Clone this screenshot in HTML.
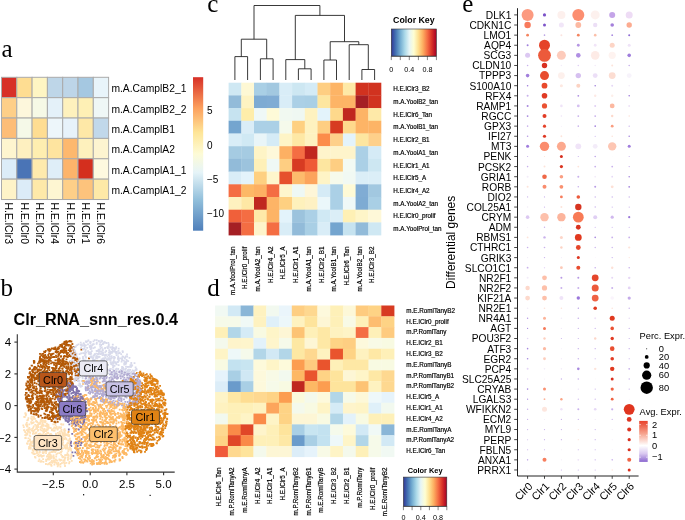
<!DOCTYPE html>
<html><head><meta charset="utf-8"><style>
html,body{margin:0;padding:0;background:#fff;}
svg{display:block;will-change:transform;}
text{font-family:"Liberation Sans", sans-serif;fill:#000;}
.sm{stroke:#000;stroke-width:0.18px;}
</style></head><body>
<svg width="685" height="520" viewBox="0 0 685 520">
<rect width="685" height="520" fill="#fff"/>
<text x="1.5" y="57.4" style='font-family:"Liberation Serif", serif' font-size="25">a</text>
<text x="0.5" y="296.3" style='font-family:"Liberation Serif", serif' font-size="25">b</text>
<text x="207.3" y="11.5" style='font-family:"Liberation Serif", serif' font-size="25">c</text>
<text x="207.3" y="296.3" style='font-family:"Liberation Serif", serif' font-size="25">d</text>
<text x="462.3" y="11.5" style='font-family:"Liberation Serif", serif' font-size="25">e</text>
<rect x="1.50" y="77.30" width="15.30" height="20.37" fill="#d73027" stroke="#aaaaaa" stroke-width="1"/>
<rect x="16.80" y="77.30" width="15.30" height="20.37" fill="#fedd92" stroke="#aaaaaa" stroke-width="1"/>
<rect x="32.10" y="77.30" width="15.30" height="20.37" fill="#fef5c3" stroke="#aaaaaa" stroke-width="1"/>
<rect x="47.40" y="77.30" width="15.30" height="20.37" fill="#bed6e8" stroke="#aaaaaa" stroke-width="1"/>
<rect x="62.70" y="77.30" width="15.30" height="20.37" fill="#bdd5e8" stroke="#aaaaaa" stroke-width="1"/>
<rect x="78.00" y="77.30" width="15.30" height="20.37" fill="#a5c8e1" stroke="#aaaaaa" stroke-width="1"/>
<rect x="93.30" y="77.30" width="15.30" height="20.37" fill="#e8f4fa" stroke="#aaaaaa" stroke-width="1"/>
<rect x="1.50" y="97.67" width="15.30" height="20.37" fill="#fecf88" stroke="#aaaaaa" stroke-width="1"/>
<rect x="16.80" y="97.67" width="15.30" height="20.37" fill="#fdf7dc" stroke="#aaaaaa" stroke-width="1"/>
<rect x="32.10" y="97.67" width="15.30" height="20.37" fill="#f6f9e6" stroke="#aaaaaa" stroke-width="1"/>
<rect x="47.40" y="97.67" width="15.30" height="20.37" fill="#e4f1f9" stroke="#aaaaaa" stroke-width="1"/>
<rect x="62.70" y="97.67" width="15.30" height="20.37" fill="#fef1bd" stroke="#aaaaaa" stroke-width="1"/>
<rect x="78.00" y="97.67" width="15.30" height="20.37" fill="#fef0b5" stroke="#aaaaaa" stroke-width="1"/>
<rect x="93.30" y="97.67" width="15.30" height="20.37" fill="#eff7f6" stroke="#aaaaaa" stroke-width="1"/>
<rect x="1.50" y="118.04" width="15.30" height="20.37" fill="#fdbd77" stroke="#aaaaaa" stroke-width="1"/>
<rect x="16.80" y="118.04" width="15.30" height="20.37" fill="#f5f9e8" stroke="#aaaaaa" stroke-width="1"/>
<rect x="32.10" y="118.04" width="15.30" height="20.37" fill="#fedd92" stroke="#aaaaaa" stroke-width="1"/>
<rect x="47.40" y="118.04" width="15.30" height="20.37" fill="#edf6fa" stroke="#aaaaaa" stroke-width="1"/>
<rect x="62.70" y="118.04" width="15.30" height="20.37" fill="#e7f2fa" stroke="#aaaaaa" stroke-width="1"/>
<rect x="78.00" y="118.04" width="15.30" height="20.37" fill="#fee8a7" stroke="#aaaaaa" stroke-width="1"/>
<rect x="93.30" y="118.04" width="15.30" height="20.37" fill="#c1d8ea" stroke="#aaaaaa" stroke-width="1"/>
<rect x="1.50" y="138.41" width="15.30" height="20.37" fill="#fef5cf" stroke="#aaaaaa" stroke-width="1"/>
<rect x="16.80" y="138.41" width="15.30" height="20.37" fill="#fef0c0" stroke="#aaaaaa" stroke-width="1"/>
<rect x="32.10" y="138.41" width="15.30" height="20.37" fill="#feeeb0" stroke="#aaaaaa" stroke-width="1"/>
<rect x="47.40" y="138.41" width="15.30" height="20.37" fill="#fee49f" stroke="#aaaaaa" stroke-width="1"/>
<rect x="62.70" y="138.41" width="15.30" height="20.37" fill="#fdb86e" stroke="#aaaaaa" stroke-width="1"/>
<rect x="78.00" y="138.41" width="15.30" height="20.37" fill="#fef1bd" stroke="#aaaaaa" stroke-width="1"/>
<rect x="93.30" y="138.41" width="15.30" height="20.37" fill="#fdf4d0" stroke="#aaaaaa" stroke-width="1"/>
<rect x="1.50" y="158.78" width="15.30" height="20.37" fill="#dcecf8" stroke="#aaaaaa" stroke-width="1"/>
<rect x="16.80" y="158.78" width="15.30" height="20.37" fill="#4a74b6" stroke="#aaaaaa" stroke-width="1"/>
<rect x="32.10" y="158.78" width="15.30" height="20.37" fill="#feeaad" stroke="#aaaaaa" stroke-width="1"/>
<rect x="47.40" y="158.78" width="15.30" height="20.37" fill="#dfeef8" stroke="#aaaaaa" stroke-width="1"/>
<rect x="62.70" y="158.78" width="15.30" height="20.37" fill="#fdb46b" stroke="#aaaaaa" stroke-width="1"/>
<rect x="78.00" y="158.78" width="15.30" height="20.37" fill="#d42f1e" stroke="#aaaaaa" stroke-width="1"/>
<rect x="93.30" y="158.78" width="15.30" height="20.37" fill="#fef9df" stroke="#aaaaaa" stroke-width="1"/>
<rect x="1.50" y="179.15" width="15.30" height="20.37" fill="#fef3c8" stroke="#aaaaaa" stroke-width="1"/>
<rect x="16.80" y="179.15" width="15.30" height="20.37" fill="#dcecf8" stroke="#aaaaaa" stroke-width="1"/>
<rect x="32.10" y="179.15" width="15.30" height="20.37" fill="#fee9a9" stroke="#aaaaaa" stroke-width="1"/>
<rect x="47.40" y="179.15" width="15.30" height="20.37" fill="#fef6d2" stroke="#aaaaaa" stroke-width="1"/>
<rect x="62.70" y="179.15" width="15.30" height="20.37" fill="#fecf88" stroke="#aaaaaa" stroke-width="1"/>
<rect x="78.00" y="179.15" width="15.30" height="20.37" fill="#fdc37c" stroke="#aaaaaa" stroke-width="1"/>
<rect x="93.30" y="179.15" width="15.30" height="20.37" fill="#fee9a7" stroke="#aaaaaa" stroke-width="1"/>
<text x="111.4" y="92.19" font-size="10.3">m.A.CamplB2_1</text>
<text x="111.4" y="112.55" font-size="10.3">m.A.CamplB2_2</text>
<text x="111.4" y="132.92" font-size="10.3">m.A.CamplB1</text>
<text x="111.4" y="153.29" font-size="10.3">m.A.CamplA2</text>
<text x="111.4" y="173.66" font-size="10.3">m.A.CamplA1_1</text>
<text x="111.4" y="194.03" font-size="10.3">m.A.CamplA1_2</text>
<text transform="translate(5.45,202.5) rotate(90)" font-size="10.4">H.E.lClr3</text>
<text transform="translate(20.75,202.5) rotate(90)" font-size="10.4">H.E.lClr0</text>
<text transform="translate(36.05,202.5) rotate(90)" font-size="10.4">H.E.lClr2</text>
<text transform="translate(51.35,202.5) rotate(90)" font-size="10.4">H.E.lClr4</text>
<text transform="translate(66.65,202.5) rotate(90)" font-size="10.4">H.E.lClr5</text>
<text transform="translate(81.95,202.5) rotate(90)" font-size="10.4">H.E.lClr1</text>
<text transform="translate(97.25,202.5) rotate(90)" font-size="10.4">H.E.lClr6</text>
<defs><linearGradient id="ga" x1="0" y1="1" x2="0" y2="0"><stop offset="0" stop-color="#4f7fba"/><stop offset="0.2" stop-color="#91bfdb"/><stop offset="0.38" stop-color="#e6f4f8"/><stop offset="0.5" stop-color="#fdfbd6"/><stop offset="0.64" stop-color="#fee597"/><stop offset="0.8" stop-color="#fca05e"/><stop offset="1" stop-color="#d73027"/></linearGradient></defs>
<rect x="193" y="77.2" width="10.2" height="153.5" fill="url(#ga)"/>
<text x="207" y="114.4" font-size="10">5</text>
<text x="207" y="148.6" font-size="10">0</text>
<text x="207" y="217.4" font-size="10">−10</text>
<text x="207" y="183.1" font-size="10">−5</text>
<path fill="#b35806" d="M28.8 378.4h1.8v1.8h-1.8zM46.7 398.3h1.8v1.8h-1.8zM66.3 343.8h1.8v1.8h-1.8zM48.0 414.8h1.8v1.8h-1.8zM62.7 371.5h1.8v1.8h-1.8zM37.0 370.1h1.8v1.8h-1.8zM61.2 351.1h1.8v1.8h-1.8zM58.8 359.0h1.8v1.8h-1.8zM38.9 371.4h1.8v1.8h-1.8zM39.7 401.4h1.8v1.8h-1.8zM55.2 401.0h1.8v1.8h-1.8zM47.4 401.1h1.8v1.8h-1.8zM56.1 414.2h1.8v1.8h-1.8zM50.7 401.2h1.8v1.8h-1.8zM37.4 409.9h1.8v1.8h-1.8zM77.2 367.0h1.8v1.8h-1.8zM38.6 392.4h1.8v1.8h-1.8zM34.0 372.7h1.8v1.8h-1.8zM40.0 414.8h1.8v1.8h-1.8zM68.3 373.5h1.8v1.8h-1.8zM66.6 384.1h1.8v1.8h-1.8zM42.6 400.8h1.8v1.8h-1.8zM36.0 413.8h1.8v1.8h-1.8zM61.2 400.8h1.8v1.8h-1.8zM61.7 359.3h1.8v1.8h-1.8zM68.6 353.8h1.8v1.8h-1.8zM53.4 381.1h1.8v1.8h-1.8zM66.8 389.4h1.8v1.8h-1.8zM62.1 370.3h1.8v1.8h-1.8zM53.9 402.3h1.8v1.8h-1.8zM30.6 375.2h1.8v1.8h-1.8zM70.0 379.0h1.8v1.8h-1.8zM70.5 365.9h1.8v1.8h-1.8zM46.8 371.4h1.8v1.8h-1.8zM45.7 400.5h1.8v1.8h-1.8zM60.2 344.0h1.8v1.8h-1.8zM61.6 382.8h1.8v1.8h-1.8zM60.4 383.4h1.8v1.8h-1.8zM50.3 354.9h1.8v1.8h-1.8zM66.5 361.5h1.8v1.8h-1.8zM70.9 382.7h1.8v1.8h-1.8zM59.7 397.5h1.8v1.8h-1.8zM63.2 373.7h1.8v1.8h-1.8zM69.5 360.9h1.8v1.8h-1.8zM46.6 404.0h1.8v1.8h-1.8zM50.0 391.5h1.8v1.8h-1.8zM63.8 345.9h1.8v1.8h-1.8zM57.1 347.4h1.8v1.8h-1.8zM69.2 377.9h1.8v1.8h-1.8zM74.9 368.5h1.8v1.8h-1.8zM40.4 390.2h1.8v1.8h-1.8zM69.6 376.1h1.8v1.8h-1.8zM33.1 410.5h1.8v1.8h-1.8zM33.4 366.7h1.8v1.8h-1.8zM58.6 398.2h1.8v1.8h-1.8zM36.9 400.6h1.8v1.8h-1.8zM35.7 382.7h1.8v1.8h-1.8zM44.7 363.6h1.8v1.8h-1.8zM73.8 365.0h1.8v1.8h-1.8zM49.8 348.9h1.8v1.8h-1.8zM39.8 359.0h1.8v1.8h-1.8zM30.5 377.1h1.8v1.8h-1.8zM73.1 361.2h1.8v1.8h-1.8zM58.4 360.2h1.8v1.8h-1.8zM35.4 412.4h1.8v1.8h-1.8zM32.4 368.7h1.8v1.8h-1.8zM36.0 398.5h1.8v1.8h-1.8zM56.5 351.3h1.8v1.8h-1.8zM88.1 357.5h1.8v1.8h-1.8zM46.1 408.4h1.8v1.8h-1.8zM30.2 379.4h1.8v1.8h-1.8zM45.0 416.9h1.8v1.8h-1.8zM71.7 383.3h1.8v1.8h-1.8zM55.6 370.2h1.8v1.8h-1.8zM43.1 354.8h1.8v1.8h-1.8zM42.2 376.6h1.8v1.8h-1.8zM51.2 382.8h1.8v1.8h-1.8zM74.3 378.9h1.8v1.8h-1.8zM41.4 382.3h1.8v1.8h-1.8zM54.0 394.3h1.8v1.8h-1.8zM55.1 394.2h1.8v1.8h-1.8zM59.8 393.2h1.8v1.8h-1.8zM31.6 406.8h1.8v1.8h-1.8zM53.3 392.4h1.8v1.8h-1.8zM55.6 365.9h1.8v1.8h-1.8zM56.9 372.5h1.8v1.8h-1.8zM67.7 367.1h1.8v1.8h-1.8zM53.5 405.3h1.8v1.8h-1.8zM39.9 394.9h1.8v1.8h-1.8zM70.8 363.4h1.8v1.8h-1.8zM70.5 371.9h1.8v1.8h-1.8zM62.0 346.8h1.8v1.8h-1.8zM35.4 403.2h1.8v1.8h-1.8zM56.9 374.2h1.8v1.8h-1.8zM53.9 420.7h1.8v1.8h-1.8zM40.6 400.2h1.8v1.8h-1.8zM26.0 396.5h1.8v1.8h-1.8zM49.0 417.1h1.8v1.8h-1.8zM70.9 366.4h1.8v1.8h-1.8zM70.3 367.2h1.8v1.8h-1.8zM56.3 362.6h1.8v1.8h-1.8zM39.9 381.1h1.8v1.8h-1.8z"/>
<path fill="#e08214" d="M139.7 426.6h1.8v1.8h-1.8zM150.6 401.0h1.8v1.8h-1.8zM132.6 414.6h1.8v1.8h-1.8zM126.3 442.2h1.8v1.8h-1.8zM155.4 378.9h1.8v1.8h-1.8zM160.1 399.5h1.8v1.8h-1.8zM139.0 371.8h1.8v1.8h-1.8zM138.7 440.9h1.8v1.8h-1.8zM164.8 412.6h1.8v1.8h-1.8zM149.8 417.5h1.8v1.8h-1.8zM159.6 433.0h1.8v1.8h-1.8zM147.9 435.2h1.8v1.8h-1.8zM141.8 391.1h1.8v1.8h-1.8zM145.6 385.7h1.8v1.8h-1.8zM140.2 399.1h1.8v1.8h-1.8zM151.5 445.0h1.8v1.8h-1.8zM130.5 424.8h1.8v1.8h-1.8zM132.6 385.7h1.8v1.8h-1.8zM151.6 406.9h1.8v1.8h-1.8zM140.1 430.9h1.8v1.8h-1.8zM123.0 418.8h1.8v1.8h-1.8zM142.7 431.2h1.8v1.8h-1.8zM133.4 398.3h1.8v1.8h-1.8zM141.5 390.1h1.8v1.8h-1.8zM128.2 394.2h1.8v1.8h-1.8zM133.3 428.0h1.8v1.8h-1.8zM151.6 413.1h1.8v1.8h-1.8zM129.1 418.9h1.8v1.8h-1.8zM140.1 390.7h1.8v1.8h-1.8zM143.2 431.6h1.8v1.8h-1.8zM136.4 398.0h1.8v1.8h-1.8zM161.7 421.2h1.8v1.8h-1.8zM132.1 376.0h1.8v1.8h-1.8zM141.0 424.4h1.8v1.8h-1.8zM132.9 396.5h1.8v1.8h-1.8zM149.5 438.5h1.8v1.8h-1.8zM150.6 382.5h1.8v1.8h-1.8zM132.0 439.3h1.8v1.8h-1.8zM139.1 401.6h1.8v1.8h-1.8zM160.7 430.7h1.8v1.8h-1.8zM146.5 437.1h1.8v1.8h-1.8zM146.0 447.4h1.8v1.8h-1.8zM145.7 386.5h1.8v1.8h-1.8zM147.4 375.5h1.8v1.8h-1.8zM141.5 414.8h1.8v1.8h-1.8zM144.9 376.8h1.8v1.8h-1.8zM139.5 425.8h1.8v1.8h-1.8zM153.7 384.3h1.8v1.8h-1.8zM135.7 408.7h1.8v1.8h-1.8zM127.8 426.3h1.8v1.8h-1.8zM130.8 376.5h1.8v1.8h-1.8zM155.8 391.7h1.8v1.8h-1.8zM148.3 421.1h1.8v1.8h-1.8zM143.5 419.0h1.8v1.8h-1.8zM147.0 412.0h1.8v1.8h-1.8zM154.4 383.5h1.8v1.8h-1.8zM140.5 435.5h1.8v1.8h-1.8zM129.8 404.2h1.8v1.8h-1.8zM139.6 406.5h1.8v1.8h-1.8zM128.0 443.0h1.8v1.8h-1.8zM129.0 382.9h1.8v1.8h-1.8zM154.6 378.4h1.8v1.8h-1.8zM151.9 430.0h1.8v1.8h-1.8zM159.1 415.2h1.8v1.8h-1.8zM127.1 443.4h1.8v1.8h-1.8zM136.6 390.5h1.8v1.8h-1.8zM141.5 422.2h1.8v1.8h-1.8zM132.1 437.1h1.8v1.8h-1.8zM149.8 382.1h1.8v1.8h-1.8zM158.9 406.1h1.8v1.8h-1.8zM160.1 404.5h1.8v1.8h-1.8zM143.3 402.2h1.8v1.8h-1.8zM160.2 393.2h1.8v1.8h-1.8zM154.2 395.7h1.8v1.8h-1.8zM148.9 428.8h1.8v1.8h-1.8zM159.8 433.6h1.8v1.8h-1.8zM131.8 417.8h1.8v1.8h-1.8zM141.6 445.6h1.8v1.8h-1.8zM130.2 423.3h1.8v1.8h-1.8zM161.2 433.6h1.8v1.8h-1.8zM130.7 413.4h1.8v1.8h-1.8zM142.2 384.0h1.8v1.8h-1.8zM146.4 394.5h1.8v1.8h-1.8zM142.5 427.7h1.8v1.8h-1.8zM133.0 450.4h1.8v1.8h-1.8zM145.4 449.2h1.8v1.8h-1.8zM132.7 448.8h1.8v1.8h-1.8zM128.5 428.5h1.8v1.8h-1.8zM140.9 396.2h1.8v1.8h-1.8zM143.0 374.2h1.8v1.8h-1.8zM133.6 417.9h1.8v1.8h-1.8zM137.1 423.9h1.8v1.8h-1.8zM165.6 422.9h1.8v1.8h-1.8zM142.4 409.3h1.8v1.8h-1.8zM135.0 428.8h1.8v1.8h-1.8zM131.9 394.5h1.8v1.8h-1.8z"/>
<path fill="#fdb863" d="M100.2 441.0h1.8v1.8h-1.8zM108.0 455.0h1.8v1.8h-1.8zM89.3 434.6h1.8v1.8h-1.8zM87.8 398.2h1.8v1.8h-1.8zM97.5 431.9h1.8v1.8h-1.8zM117.1 427.7h1.8v1.8h-1.8zM82.1 441.1h1.8v1.8h-1.8zM105.9 414.0h1.8v1.8h-1.8zM123.8 422.2h1.8v1.8h-1.8zM119.3 459.1h1.8v1.8h-1.8zM133.6 447.7h1.8v1.8h-1.8zM88.2 427.9h1.8v1.8h-1.8zM77.1 418.8h1.8v1.8h-1.8zM86.3 446.4h1.8v1.8h-1.8zM124.7 406.2h1.8v1.8h-1.8zM95.7 441.3h1.8v1.8h-1.8zM97.9 407.8h1.8v1.8h-1.8zM73.4 405.9h1.8v1.8h-1.8zM85.1 452.3h1.8v1.8h-1.8zM101.5 413.1h1.8v1.8h-1.8zM88.3 434.9h1.8v1.8h-1.8zM85.1 408.9h1.8v1.8h-1.8zM96.3 446.3h1.8v1.8h-1.8zM109.6 424.8h1.8v1.8h-1.8zM100.1 456.9h1.8v1.8h-1.8zM99.6 459.3h1.8v1.8h-1.8zM82.4 395.2h1.8v1.8h-1.8zM84.5 403.4h1.8v1.8h-1.8zM100.0 434.9h1.8v1.8h-1.8zM95.9 437.1h1.8v1.8h-1.8zM104.1 422.9h1.8v1.8h-1.8zM100.1 429.1h1.8v1.8h-1.8zM106.1 401.3h1.8v1.8h-1.8zM105.2 457.8h1.8v1.8h-1.8zM104.0 385.6h1.8v1.8h-1.8zM89.6 440.6h1.8v1.8h-1.8zM90.0 445.9h1.8v1.8h-1.8zM84.8 405.3h1.8v1.8h-1.8zM84.0 417.9h1.8v1.8h-1.8zM88.6 400.8h1.8v1.8h-1.8zM77.1 416.8h1.8v1.8h-1.8zM69.0 405.6h1.8v1.8h-1.8zM106.2 453.9h1.8v1.8h-1.8zM79.7 460.7h1.8v1.8h-1.8zM120.3 420.9h1.8v1.8h-1.8zM121.5 456.1h1.8v1.8h-1.8zM124.3 406.0h1.8v1.8h-1.8zM100.6 429.4h1.8v1.8h-1.8zM74.8 413.0h1.8v1.8h-1.8zM94.2 402.3h1.8v1.8h-1.8zM102.6 454.0h1.8v1.8h-1.8zM99.6 425.5h1.8v1.8h-1.8zM121.4 428.8h1.8v1.8h-1.8zM107.4 426.3h1.8v1.8h-1.8zM116.2 429.3h1.8v1.8h-1.8zM90.1 397.6h1.8v1.8h-1.8zM94.1 438.5h1.8v1.8h-1.8zM100.1 460.6h1.8v1.8h-1.8zM118.2 442.8h1.8v1.8h-1.8zM101.2 438.1h1.8v1.8h-1.8zM106.2 421.3h1.8v1.8h-1.8zM111.5 404.6h1.8v1.8h-1.8zM102.1 433.0h1.8v1.8h-1.8zM101.3 434.8h1.8v1.8h-1.8zM106.0 441.7h1.8v1.8h-1.8zM98.8 381.8h1.8v1.8h-1.8zM111.7 402.8h1.8v1.8h-1.8zM85.9 427.1h1.8v1.8h-1.8zM94.4 442.2h1.8v1.8h-1.8zM76.7 440.4h1.8v1.8h-1.8zM82.7 428.7h1.8v1.8h-1.8zM127.0 449.6h1.8v1.8h-1.8zM108.9 410.6h1.8v1.8h-1.8zM92.0 440.0h1.8v1.8h-1.8zM112.3 420.9h1.8v1.8h-1.8zM87.4 423.5h1.8v1.8h-1.8zM92.4 404.2h1.8v1.8h-1.8zM124.2 408.2h1.8v1.8h-1.8zM96.9 430.5h1.8v1.8h-1.8zM106.6 398.5h1.8v1.8h-1.8zM118.1 434.0h1.8v1.8h-1.8zM95.2 418.5h1.8v1.8h-1.8zM110.0 400.8h1.8v1.8h-1.8zM119.4 415.5h1.8v1.8h-1.8zM88.2 419.9h1.8v1.8h-1.8zM85.8 437.2h1.8v1.8h-1.8zM122.0 421.8h1.8v1.8h-1.8zM93.3 381.5h1.8v1.8h-1.8zM78.0 451.8h1.8v1.8h-1.8zM82.1 424.7h1.8v1.8h-1.8zM120.6 421.5h1.8v1.8h-1.8zM95.4 395.3h1.8v1.8h-1.8zM78.5 453.2h1.8v1.8h-1.8zM123.8 409.2h1.8v1.8h-1.8zM114.9 448.3h1.8v1.8h-1.8zM88.3 419.2h1.8v1.8h-1.8zM68.9 403.9h1.8v1.8h-1.8zM121.3 440.9h1.8v1.8h-1.8zM96.3 380.2h1.8v1.8h-1.8zM90.0 398.6h1.8v1.8h-1.8zM75.3 447.7h1.8v1.8h-1.8zM74.8 444.6h1.8v1.8h-1.8zM78.6 444.4h1.8v1.8h-1.8zM113.7 436.0h1.8v1.8h-1.8zM79.3 425.1h1.8v1.8h-1.8zM105.8 462.4h1.8v1.8h-1.8zM86.6 387.1h1.8v1.8h-1.8zM97.8 388.6h1.8v1.8h-1.8z"/>
<path fill="#fee0b6" d="M51.0 439.4h1.8v1.8h-1.8zM45.7 446.6h1.8v1.8h-1.8zM38.6 451.7h1.8v1.8h-1.8zM42.0 424.9h1.8v1.8h-1.8zM44.5 441.8h1.8v1.8h-1.8zM61.6 456.5h1.8v1.8h-1.8zM68.9 443.5h1.8v1.8h-1.8zM50.7 441.0h1.8v1.8h-1.8zM34.0 432.8h1.8v1.8h-1.8zM44.2 421.4h1.8v1.8h-1.8zM61.9 443.8h1.8v1.8h-1.8zM38.6 422.3h1.8v1.8h-1.8zM31.2 451.8h1.8v1.8h-1.8zM39.4 434.6h1.8v1.8h-1.8zM61.8 436.5h1.8v1.8h-1.8zM46.5 425.8h1.8v1.8h-1.8zM31.0 418.5h1.8v1.8h-1.8zM40.1 426.6h1.8v1.8h-1.8zM60.2 439.9h1.8v1.8h-1.8zM53.5 463.6h1.8v1.8h-1.8zM52.9 427.7h1.8v1.8h-1.8zM40.5 429.5h1.8v1.8h-1.8zM46.3 443.6h1.8v1.8h-1.8zM50.4 463.9h1.8v1.8h-1.8zM68.2 462.4h1.8v1.8h-1.8zM65.8 454.0h1.8v1.8h-1.8zM63.5 431.0h1.8v1.8h-1.8zM67.2 432.0h1.8v1.8h-1.8zM31.6 440.6h1.8v1.8h-1.8zM54.5 440.0h1.8v1.8h-1.8zM70.9 460.0h1.8v1.8h-1.8zM36.9 425.3h1.8v1.8h-1.8zM49.8 427.1h1.8v1.8h-1.8zM38.8 422.5h1.8v1.8h-1.8zM38.0 455.4h1.8v1.8h-1.8zM46.6 423.4h1.8v1.8h-1.8zM45.0 433.5h1.8v1.8h-1.8zM49.0 433.4h1.8v1.8h-1.8zM61.3 455.1h1.8v1.8h-1.8zM44.7 424.8h1.8v1.8h-1.8zM25.0 434.5h1.8v1.8h-1.8zM52.2 445.1h1.8v1.8h-1.8zM27.1 419.0h1.8v1.8h-1.8zM55.3 455.7h1.8v1.8h-1.8zM29.9 443.5h1.8v1.8h-1.8zM35.2 420.4h1.8v1.8h-1.8zM29.1 428.6h1.8v1.8h-1.8zM27.5 428.3h1.8v1.8h-1.8z"/>
<path fill="#d8daeb" d="M103.8 359.7h1.8v1.8h-1.8zM90.9 350.3h1.8v1.8h-1.8zM82.7 372.7h1.8v1.8h-1.8zM82.7 360.1h1.8v1.8h-1.8zM87.3 374.1h1.8v1.8h-1.8zM96.0 350.0h1.8v1.8h-1.8zM84.7 355.6h1.8v1.8h-1.8zM90.0 380.9h1.8v1.8h-1.8zM92.2 358.9h1.8v1.8h-1.8zM130.5 372.5h1.8v1.8h-1.8zM101.7 368.4h1.8v1.8h-1.8zM81.0 385.1h1.8v1.8h-1.8zM82.3 373.1h1.8v1.8h-1.8zM86.4 340.5h1.8v1.8h-1.8zM84.5 374.1h1.8v1.8h-1.8zM87.9 372.3h1.8v1.8h-1.8zM78.9 357.5h1.8v1.8h-1.8zM117.3 368.1h1.8v1.8h-1.8zM98.8 376.3h1.8v1.8h-1.8zM88.8 365.6h1.8v1.8h-1.8zM102.5 342.4h1.8v1.8h-1.8zM113.9 350.1h1.8v1.8h-1.8zM122.9 359.7h1.8v1.8h-1.8zM102.9 353.9h1.8v1.8h-1.8zM101.8 348.3h1.8v1.8h-1.8zM130.8 371.0h1.8v1.8h-1.8zM83.6 347.6h1.8v1.8h-1.8zM127.3 369.1h1.8v1.8h-1.8zM124.9 355.5h1.8v1.8h-1.8zM97.8 365.5h1.8v1.8h-1.8zM121.6 355.5h1.8v1.8h-1.8zM103.7 341.3h1.8v1.8h-1.8zM87.2 370.6h1.8v1.8h-1.8zM80.6 345.0h1.8v1.8h-1.8zM70.4 353.2h1.8v1.8h-1.8zM115.9 350.9h1.8v1.8h-1.8zM124.2 361.3h1.8v1.8h-1.8zM85.4 341.2h1.8v1.8h-1.8zM116.3 373.7h1.8v1.8h-1.8zM99.5 341.6h1.8v1.8h-1.8zM97.6 353.1h1.8v1.8h-1.8zM75.3 376.5h1.8v1.8h-1.8zM107.2 363.9h1.8v1.8h-1.8zM71.4 348.0h1.8v1.8h-1.8zM124.7 373.0h1.8v1.8h-1.8zM89.5 341.1h1.8v1.8h-1.8zM122.0 367.6h1.8v1.8h-1.8zM82.5 357.8h1.8v1.8h-1.8zM127.3 360.2h1.8v1.8h-1.8zM98.6 348.9h1.8v1.8h-1.8zM90.5 369.6h1.8v1.8h-1.8zM121.1 358.3h1.8v1.8h-1.8zM82.3 347.9h1.8v1.8h-1.8zM102.3 368.4h1.8v1.8h-1.8zM89.7 345.3h1.8v1.8h-1.8zM99.8 363.9h1.8v1.8h-1.8zM107.6 358.3h1.8v1.8h-1.8zM76.1 356.3h1.8v1.8h-1.8zM87.7 364.8h1.8v1.8h-1.8zM125.1 367.7h1.8v1.8h-1.8z"/>
<path fill="#b2abd2" d="M115.0 395.2h1.8v1.8h-1.8zM138.8 391.0h1.8v1.8h-1.8zM133.5 393.2h1.8v1.8h-1.8zM101.8 387.9h1.8v1.8h-1.8zM102.6 401.4h1.8v1.8h-1.8zM119.5 375.4h1.8v1.8h-1.8zM106.5 368.9h1.8v1.8h-1.8zM133.5 388.2h1.8v1.8h-1.8zM122.6 380.3h1.8v1.8h-1.8zM102.5 393.8h1.8v1.8h-1.8zM100.7 398.1h1.8v1.8h-1.8zM91.8 372.2h1.8v1.8h-1.8zM102.3 391.6h1.8v1.8h-1.8zM133.6 400.5h1.8v1.8h-1.8zM116.4 387.9h1.8v1.8h-1.8zM114.0 376.9h1.8v1.8h-1.8zM136.3 378.5h1.8v1.8h-1.8zM109.1 373.5h1.8v1.8h-1.8zM134.7 378.5h1.8v1.8h-1.8zM133.5 380.3h1.8v1.8h-1.8zM135.9 384.8h1.8v1.8h-1.8zM94.3 393.1h1.8v1.8h-1.8zM105.3 394.9h1.8v1.8h-1.8zM131.9 373.0h1.8v1.8h-1.8zM127.9 403.5h1.8v1.8h-1.8zM110.3 380.1h1.8v1.8h-1.8zM112.5 399.7h1.8v1.8h-1.8zM96.2 389.7h1.8v1.8h-1.8zM131.4 402.8h1.8v1.8h-1.8zM93.8 373.8h1.8v1.8h-1.8zM104.4 386.4h1.8v1.8h-1.8zM140.2 388.1h1.8v1.8h-1.8zM128.2 405.0h1.8v1.8h-1.8zM136.0 382.8h1.8v1.8h-1.8zM132.3 387.4h1.8v1.8h-1.8zM98.5 397.0h1.8v1.8h-1.8zM113.8 397.4h1.8v1.8h-1.8zM122.7 378.6h1.8v1.8h-1.8zM120.5 398.1h1.8v1.8h-1.8zM134.8 400.9h1.8v1.8h-1.8zM136.4 380.1h1.8v1.8h-1.8zM136.6 387.3h1.8v1.8h-1.8zM127.5 377.9h1.8v1.8h-1.8zM101.8 377.3h1.8v1.8h-1.8zM121.5 391.6h1.8v1.8h-1.8zM124.4 395.9h1.8v1.8h-1.8zM124.3 389.7h1.8v1.8h-1.8zM95.5 385.8h1.8v1.8h-1.8zM111.4 401.2h1.8v1.8h-1.8z"/>
<path fill="#8073ac" d="M64.4 412.7h1.8v1.8h-1.8zM77.8 396.2h1.8v1.8h-1.8zM58.6 398.6h1.8v1.8h-1.8zM59.5 385.6h1.8v1.8h-1.8zM64.2 410.5h1.8v1.8h-1.8zM77.2 395.0h1.8v1.8h-1.8zM62.6 389.7h1.8v1.8h-1.8zM72.2 419.3h1.8v1.8h-1.8zM66.3 395.9h1.8v1.8h-1.8zM71.4 402.7h1.8v1.8h-1.8zM75.4 406.3h1.8v1.8h-1.8zM82.7 408.1h1.8v1.8h-1.8zM66.8 411.2h1.8v1.8h-1.8zM85.3 407.2h1.8v1.8h-1.8zM72.2 422.7h1.8v1.8h-1.8zM76.9 448.6h1.8v1.8h-1.8zM68.7 409.8h1.8v1.8h-1.8zM67.1 390.4h1.8v1.8h-1.8zM68.4 423.5h1.8v1.8h-1.8zM73.6 405.4h1.8v1.8h-1.8zM81.9 423.3h1.8v1.8h-1.8zM60.3 410.5h1.8v1.8h-1.8zM66.0 400.2h1.8v1.8h-1.8zM60.0 387.1h1.8v1.8h-1.8zM80.1 412.1h1.8v1.8h-1.8zM77.2 420.9h1.8v1.8h-1.8zM85.8 410.1h1.8v1.8h-1.8zM69.1 385.9h1.8v1.8h-1.8zM79.9 410.2h1.8v1.8h-1.8zM63.9 395.6h1.8v1.8h-1.8zM58.5 408.6h1.8v1.8h-1.8zM64.6 416.8h1.8v1.8h-1.8zM71.0 420.5h1.8v1.8h-1.8zM74.7 423.7h1.8v1.8h-1.8zM84.9 401.0h1.8v1.8h-1.8zM75.0 410.2h1.8v1.8h-1.8zM69.8 384.7h1.8v1.8h-1.8z"/>
<path fill="#b35806" d="M69.2 360.8h1.8v1.8h-1.8zM40.9 365.4h1.8v1.8h-1.8zM58.2 392.5h1.8v1.8h-1.8zM35.6 396.7h1.8v1.8h-1.8zM41.5 405.3h1.8v1.8h-1.8zM46.3 370.0h1.8v1.8h-1.8zM59.6 361.3h1.8v1.8h-1.8zM52.7 371.3h1.8v1.8h-1.8zM52.9 387.7h1.8v1.8h-1.8zM54.7 415.3h1.8v1.8h-1.8zM37.6 414.6h1.8v1.8h-1.8zM47.5 359.6h1.8v1.8h-1.8zM28.5 386.6h1.8v1.8h-1.8zM57.9 371.3h1.8v1.8h-1.8zM52.1 368.9h1.8v1.8h-1.8zM53.4 348.2h1.8v1.8h-1.8zM51.0 408.7h1.8v1.8h-1.8zM27.4 381.5h1.8v1.8h-1.8zM75.6 373.4h1.8v1.8h-1.8zM31.0 374.8h1.8v1.8h-1.8zM49.1 410.8h1.8v1.8h-1.8zM38.8 394.9h1.8v1.8h-1.8zM75.0 358.9h1.8v1.8h-1.8zM75.4 364.2h1.8v1.8h-1.8zM34.0 368.8h1.8v1.8h-1.8zM45.6 391.4h1.8v1.8h-1.8zM40.9 398.8h1.8v1.8h-1.8zM54.8 397.0h1.8v1.8h-1.8zM49.9 400.3h1.8v1.8h-1.8zM67.5 355.0h1.8v1.8h-1.8zM55.3 356.2h1.8v1.8h-1.8zM60.7 395.2h1.8v1.8h-1.8zM41.3 408.2h1.8v1.8h-1.8zM33.1 361.9h1.8v1.8h-1.8zM75.4 370.2h1.8v1.8h-1.8zM52.8 367.3h1.8v1.8h-1.8zM56.7 362.0h1.8v1.8h-1.8zM56.0 389.6h1.8v1.8h-1.8zM45.5 395.3h1.8v1.8h-1.8zM36.8 370.3h1.8v1.8h-1.8zM61.4 392.2h1.8v1.8h-1.8zM61.5 396.2h1.8v1.8h-1.8zM48.1 401.2h1.8v1.8h-1.8zM41.7 367.1h1.8v1.8h-1.8zM52.3 393.2h1.8v1.8h-1.8zM72.7 349.0h1.8v1.8h-1.8zM56.6 418.4h1.8v1.8h-1.8zM66.6 385.8h1.8v1.8h-1.8zM61.0 349.5h1.8v1.8h-1.8zM48.0 418.0h1.8v1.8h-1.8zM38.3 408.6h1.8v1.8h-1.8zM39.4 405.3h1.8v1.8h-1.8zM43.5 405.8h1.8v1.8h-1.8zM65.5 340.3h1.8v1.8h-1.8zM51.1 371.2h1.8v1.8h-1.8zM64.6 380.0h1.8v1.8h-1.8zM33.0 361.4h1.8v1.8h-1.8zM41.5 371.0h1.8v1.8h-1.8zM55.6 379.6h1.8v1.8h-1.8zM42.5 394.9h1.8v1.8h-1.8zM54.7 396.5h1.8v1.8h-1.8zM49.0 401.6h1.8v1.8h-1.8zM31.3 394.8h1.8v1.8h-1.8zM67.8 372.4h1.8v1.8h-1.8zM41.1 401.8h1.8v1.8h-1.8zM68.3 378.6h1.8v1.8h-1.8zM31.4 396.0h1.8v1.8h-1.8zM31.8 371.8h1.8v1.8h-1.8zM48.9 411.4h1.8v1.8h-1.8zM75.9 360.9h1.8v1.8h-1.8zM33.8 382.1h1.8v1.8h-1.8zM54.0 414.5h1.8v1.8h-1.8zM63.1 381.1h1.8v1.8h-1.8zM62.5 360.3h1.8v1.8h-1.8zM45.0 383.2h1.8v1.8h-1.8zM77.0 369.3h1.8v1.8h-1.8zM25.5 382.5h1.8v1.8h-1.8zM46.2 398.4h1.8v1.8h-1.8zM35.4 378.1h1.8v1.8h-1.8zM69.5 381.0h1.8v1.8h-1.8zM38.9 365.9h1.8v1.8h-1.8zM47.2 401.8h1.8v1.8h-1.8zM46.6 414.0h1.8v1.8h-1.8zM43.9 373.3h1.8v1.8h-1.8zM44.6 370.4h1.8v1.8h-1.8zM71.3 383.8h1.8v1.8h-1.8zM46.5 404.0h1.8v1.8h-1.8zM38.0 391.5h1.8v1.8h-1.8zM50.5 354.0h1.8v1.8h-1.8zM54.5 362.3h1.8v1.8h-1.8zM36.3 404.0h1.8v1.8h-1.8zM33.5 361.4h1.8v1.8h-1.8zM37.2 398.2h1.8v1.8h-1.8zM42.6 359.7h1.8v1.8h-1.8zM50.2 381.0h1.8v1.8h-1.8zM30.2 412.4h1.8v1.8h-1.8zM59.9 364.7h1.8v1.8h-1.8zM45.5 371.2h1.8v1.8h-1.8zM47.0 368.0h1.8v1.8h-1.8zM50.0 399.9h1.8v1.8h-1.8zM57.2 350.7h1.8v1.8h-1.8zM61.4 364.3h1.8v1.8h-1.8zM42.7 399.5h1.8v1.8h-1.8zM63.2 348.1h1.8v1.8h-1.8zM49.3 388.9h1.8v1.8h-1.8zM33.2 410.4h1.8v1.8h-1.8zM72.5 357.3h1.8v1.8h-1.8zM58.0 390.9h1.8v1.8h-1.8zM26.2 400.7h1.8v1.8h-1.8zM43.4 404.1h1.8v1.8h-1.8z"/>
<path fill="#e08214" d="M148.8 376.5h1.8v1.8h-1.8zM120.0 386.1h1.8v1.8h-1.8zM143.6 415.0h1.8v1.8h-1.8zM127.0 440.1h1.8v1.8h-1.8zM133.2 429.0h1.8v1.8h-1.8zM165.2 424.3h1.8v1.8h-1.8zM153.1 419.6h1.8v1.8h-1.8zM151.4 380.0h1.8v1.8h-1.8zM158.5 402.5h1.8v1.8h-1.8zM149.5 389.1h1.8v1.8h-1.8zM163.3 417.1h1.8v1.8h-1.8zM147.5 430.8h1.8v1.8h-1.8zM136.9 409.8h1.8v1.8h-1.8zM150.7 388.9h1.8v1.8h-1.8zM149.6 387.4h1.8v1.8h-1.8zM149.5 408.7h1.8v1.8h-1.8zM134.9 388.3h1.8v1.8h-1.8zM155.3 400.3h1.8v1.8h-1.8zM134.5 423.2h1.8v1.8h-1.8zM140.8 433.5h1.8v1.8h-1.8zM147.6 444.7h1.8v1.8h-1.8zM136.2 451.0h1.8v1.8h-1.8zM149.9 430.5h1.8v1.8h-1.8zM138.2 433.1h1.8v1.8h-1.8zM144.2 429.5h1.8v1.8h-1.8zM144.2 385.9h1.8v1.8h-1.8zM157.2 408.3h1.8v1.8h-1.8zM138.2 416.9h1.8v1.8h-1.8zM159.6 431.4h1.8v1.8h-1.8zM136.1 422.0h1.8v1.8h-1.8zM149.7 431.0h1.8v1.8h-1.8zM155.2 416.6h1.8v1.8h-1.8zM150.1 442.9h1.8v1.8h-1.8zM149.3 377.4h1.8v1.8h-1.8zM138.1 417.6h1.8v1.8h-1.8zM142.2 431.7h1.8v1.8h-1.8zM134.7 431.5h1.8v1.8h-1.8zM139.9 405.5h1.8v1.8h-1.8zM147.4 389.8h1.8v1.8h-1.8zM155.9 409.3h1.8v1.8h-1.8zM130.8 397.2h1.8v1.8h-1.8zM132.0 438.7h1.8v1.8h-1.8zM126.5 424.5h1.8v1.8h-1.8zM152.9 383.2h1.8v1.8h-1.8zM135.4 403.5h1.8v1.8h-1.8zM134.4 426.4h1.8v1.8h-1.8zM161.8 429.3h1.8v1.8h-1.8zM133.4 417.6h1.8v1.8h-1.8zM157.6 391.0h1.8v1.8h-1.8zM134.9 436.6h1.8v1.8h-1.8zM139.8 430.7h1.8v1.8h-1.8zM152.3 414.2h1.8v1.8h-1.8zM143.7 427.2h1.8v1.8h-1.8zM145.9 447.6h1.8v1.8h-1.8zM161.4 392.1h1.8v1.8h-1.8zM160.5 390.3h1.8v1.8h-1.8zM153.7 418.2h1.8v1.8h-1.8zM137.8 431.9h1.8v1.8h-1.8zM134.8 445.0h1.8v1.8h-1.8zM129.4 446.1h1.8v1.8h-1.8zM151.7 402.6h1.8v1.8h-1.8zM138.8 392.9h1.8v1.8h-1.8zM153.7 429.6h1.8v1.8h-1.8zM128.1 415.4h1.8v1.8h-1.8zM140.0 393.6h1.8v1.8h-1.8zM149.2 433.7h1.8v1.8h-1.8zM127.0 411.6h1.8v1.8h-1.8zM140.3 432.9h1.8v1.8h-1.8zM151.7 389.4h1.8v1.8h-1.8zM155.1 428.7h1.8v1.8h-1.8zM130.3 397.2h1.8v1.8h-1.8zM134.2 447.6h1.8v1.8h-1.8zM146.2 420.0h1.8v1.8h-1.8zM154.8 425.2h1.8v1.8h-1.8zM130.3 442.1h1.8v1.8h-1.8zM152.7 438.7h1.8v1.8h-1.8zM161.6 394.3h1.8v1.8h-1.8zM143.2 415.9h1.8v1.8h-1.8zM146.1 422.7h1.8v1.8h-1.8zM137.2 407.6h1.8v1.8h-1.8zM136.2 400.7h1.8v1.8h-1.8zM165.0 421.5h1.8v1.8h-1.8zM135.4 427.8h1.8v1.8h-1.8zM133.1 439.8h1.8v1.8h-1.8zM142.0 428.7h1.8v1.8h-1.8zM145.0 374.0h1.8v1.8h-1.8z"/>
<path fill="#fdb863" d="M94.2 398.1h1.8v1.8h-1.8zM102.7 447.6h1.8v1.8h-1.8zM98.0 406.0h1.8v1.8h-1.8zM100.6 455.1h1.8v1.8h-1.8zM86.7 440.5h1.8v1.8h-1.8zM107.8 415.3h1.8v1.8h-1.8zM111.9 456.7h1.8v1.8h-1.8zM82.4 419.9h1.8v1.8h-1.8zM91.2 445.2h1.8v1.8h-1.8zM101.4 418.9h1.8v1.8h-1.8zM81.8 402.6h1.8v1.8h-1.8zM78.3 413.6h1.8v1.8h-1.8zM108.0 458.5h1.8v1.8h-1.8zM117.6 432.5h1.8v1.8h-1.8zM85.8 450.5h1.8v1.8h-1.8zM98.2 452.2h1.8v1.8h-1.8zM85.0 454.9h1.8v1.8h-1.8zM97.8 439.6h1.8v1.8h-1.8zM102.1 409.2h1.8v1.8h-1.8zM89.7 443.9h1.8v1.8h-1.8zM104.6 461.3h1.8v1.8h-1.8zM122.9 418.0h1.8v1.8h-1.8zM110.1 436.3h1.8v1.8h-1.8zM80.7 459.3h1.8v1.8h-1.8zM99.7 397.0h1.8v1.8h-1.8zM81.9 461.3h1.8v1.8h-1.8zM91.4 434.0h1.8v1.8h-1.8zM90.4 425.6h1.8v1.8h-1.8zM91.7 448.6h1.8v1.8h-1.8zM75.1 421.5h1.8v1.8h-1.8zM122.3 429.3h1.8v1.8h-1.8zM117.2 436.7h1.8v1.8h-1.8zM115.5 440.6h1.8v1.8h-1.8zM119.5 453.3h1.8v1.8h-1.8zM113.3 441.6h1.8v1.8h-1.8zM84.8 438.0h1.8v1.8h-1.8zM74.3 397.7h1.8v1.8h-1.8zM95.9 454.8h1.8v1.8h-1.8zM126.9 445.5h1.8v1.8h-1.8zM116.7 450.7h1.8v1.8h-1.8zM70.7 400.0h1.8v1.8h-1.8zM94.2 427.7h1.8v1.8h-1.8zM126.1 434.7h1.8v1.8h-1.8zM76.0 395.0h1.8v1.8h-1.8zM105.3 388.0h1.8v1.8h-1.8zM88.5 409.3h1.8v1.8h-1.8zM99.8 444.2h1.8v1.8h-1.8zM82.4 397.3h1.8v1.8h-1.8zM85.7 398.1h1.8v1.8h-1.8zM82.8 427.5h1.8v1.8h-1.8zM76.6 433.5h1.8v1.8h-1.8zM91.2 380.9h1.8v1.8h-1.8zM104.8 433.7h1.8v1.8h-1.8zM92.8 460.7h1.8v1.8h-1.8zM119.4 412.8h1.8v1.8h-1.8zM126.9 422.0h1.8v1.8h-1.8zM92.3 395.4h1.8v1.8h-1.8zM102.4 456.6h1.8v1.8h-1.8zM93.0 408.6h1.8v1.8h-1.8zM88.4 422.9h1.8v1.8h-1.8zM94.4 452.1h1.8v1.8h-1.8zM98.9 412.8h1.8v1.8h-1.8zM83.7 424.1h1.8v1.8h-1.8zM120.2 443.5h1.8v1.8h-1.8zM111.6 417.1h1.8v1.8h-1.8zM117.6 429.7h1.8v1.8h-1.8zM103.0 449.9h1.8v1.8h-1.8zM108.1 446.7h1.8v1.8h-1.8zM110.3 434.7h1.8v1.8h-1.8zM125.2 452.2h1.8v1.8h-1.8zM96.0 452.4h1.8v1.8h-1.8zM100.6 412.0h1.8v1.8h-1.8zM84.0 436.0h1.8v1.8h-1.8zM82.2 427.4h1.8v1.8h-1.8zM80.9 429.4h1.8v1.8h-1.8zM77.2 451.6h1.8v1.8h-1.8zM103.6 445.1h1.8v1.8h-1.8zM125.6 443.3h1.8v1.8h-1.8zM85.8 460.0h1.8v1.8h-1.8zM88.2 455.2h1.8v1.8h-1.8zM88.6 459.3h1.8v1.8h-1.8zM105.7 406.8h1.8v1.8h-1.8zM92.5 440.6h1.8v1.8h-1.8zM105.1 425.4h1.8v1.8h-1.8zM82.8 405.1h1.8v1.8h-1.8zM77.2 419.1h1.8v1.8h-1.8zM125.3 454.0h1.8v1.8h-1.8zM99.1 459.0h1.8v1.8h-1.8zM82.0 406.3h1.8v1.8h-1.8zM121.3 423.1h1.8v1.8h-1.8zM110.7 416.4h1.8v1.8h-1.8zM93.1 410.8h1.8v1.8h-1.8zM79.0 418.8h1.8v1.8h-1.8zM79.2 456.0h1.8v1.8h-1.8zM124.6 417.4h1.8v1.8h-1.8zM124.0 452.0h1.8v1.8h-1.8zM94.8 427.3h1.8v1.8h-1.8z"/>
<path fill="#fee0b6" d="M42.5 423.7h1.8v1.8h-1.8zM45.4 433.7h1.8v1.8h-1.8zM58.5 458.5h1.8v1.8h-1.8zM54.4 438.1h1.8v1.8h-1.8zM56.5 452.5h1.8v1.8h-1.8zM67.8 435.1h1.8v1.8h-1.8zM64.6 456.6h1.8v1.8h-1.8zM50.2 461.2h1.8v1.8h-1.8zM36.5 424.3h1.8v1.8h-1.8zM31.7 429.9h1.8v1.8h-1.8zM57.4 462.1h1.8v1.8h-1.8zM42.5 435.2h1.8v1.8h-1.8zM28.2 446.1h1.8v1.8h-1.8zM26.4 419.4h1.8v1.8h-1.8zM59.2 434.4h1.8v1.8h-1.8zM42.5 429.5h1.8v1.8h-1.8zM41.4 439.0h1.8v1.8h-1.8zM43.0 451.6h1.8v1.8h-1.8zM47.8 425.6h1.8v1.8h-1.8zM67.0 459.0h1.8v1.8h-1.8zM29.9 441.1h1.8v1.8h-1.8zM36.2 427.2h1.8v1.8h-1.8zM58.7 430.8h1.8v1.8h-1.8zM53.6 446.1h1.8v1.8h-1.8zM57.5 437.0h1.8v1.8h-1.8zM41.4 427.2h1.8v1.8h-1.8zM25.9 422.0h1.8v1.8h-1.8zM30.6 415.7h1.8v1.8h-1.8zM29.0 438.6h1.8v1.8h-1.8zM50.0 433.1h1.8v1.8h-1.8zM29.2 431.7h1.8v1.8h-1.8zM31.6 445.3h1.8v1.8h-1.8zM34.6 456.7h1.8v1.8h-1.8zM66.5 444.5h1.8v1.8h-1.8zM32.4 431.9h1.8v1.8h-1.8zM28.6 447.4h1.8v1.8h-1.8zM62.8 444.7h1.8v1.8h-1.8zM35.1 432.0h1.8v1.8h-1.8zM53.0 450.1h1.8v1.8h-1.8zM35.9 437.9h1.8v1.8h-1.8zM34.4 444.9h1.8v1.8h-1.8zM60.3 451.1h1.8v1.8h-1.8zM70.5 453.6h1.8v1.8h-1.8zM41.7 455.2h1.8v1.8h-1.8zM52.8 429.7h1.8v1.8h-1.8zM34.3 423.9h1.8v1.8h-1.8zM53.3 459.9h1.8v1.8h-1.8zM45.0 433.2h1.8v1.8h-1.8zM70.2 449.7h1.8v1.8h-1.8zM54.0 423.2h1.8v1.8h-1.8zM24.5 412.2h1.8v1.8h-1.8zM28.0 447.7h1.8v1.8h-1.8zM63.1 435.0h1.8v1.8h-1.8zM58.9 437.1h1.8v1.8h-1.8zM62.4 433.9h1.8v1.8h-1.8z"/>
<path fill="#d8daeb" d="M112.5 370.6h1.8v1.8h-1.8zM117.9 358.0h1.8v1.8h-1.8zM121.1 367.7h1.8v1.8h-1.8zM94.9 376.5h1.8v1.8h-1.8zM87.8 378.2h1.8v1.8h-1.8zM75.4 357.2h1.8v1.8h-1.8zM71.4 358.0h1.8v1.8h-1.8zM104.2 365.4h1.8v1.8h-1.8zM73.0 360.7h1.8v1.8h-1.8zM79.2 361.3h1.8v1.8h-1.8zM109.0 355.6h1.8v1.8h-1.8zM83.4 352.3h1.8v1.8h-1.8zM119.9 369.0h1.8v1.8h-1.8zM74.2 356.5h1.8v1.8h-1.8zM87.2 375.3h1.8v1.8h-1.8zM85.4 367.8h1.8v1.8h-1.8zM124.3 372.5h1.8v1.8h-1.8zM108.0 351.5h1.8v1.8h-1.8zM124.5 363.2h1.8v1.8h-1.8zM121.4 366.1h1.8v1.8h-1.8zM105.2 362.8h1.8v1.8h-1.8zM109.8 368.0h1.8v1.8h-1.8zM99.0 366.9h1.8v1.8h-1.8zM111.6 346.5h1.8v1.8h-1.8zM103.9 370.3h1.8v1.8h-1.8zM81.0 380.1h1.8v1.8h-1.8zM66.6 368.4h1.8v1.8h-1.8zM99.4 353.3h1.8v1.8h-1.8zM101.2 339.9h1.8v1.8h-1.8zM115.0 347.8h1.8v1.8h-1.8zM72.6 349.0h1.8v1.8h-1.8zM75.0 345.4h1.8v1.8h-1.8zM131.3 364.6h1.8v1.8h-1.8zM134.4 369.5h1.8v1.8h-1.8zM100.1 372.1h1.8v1.8h-1.8zM100.8 367.9h1.8v1.8h-1.8zM89.3 356.2h1.8v1.8h-1.8zM98.2 370.7h1.8v1.8h-1.8zM109.3 346.6h1.8v1.8h-1.8zM97.1 350.0h1.8v1.8h-1.8zM133.3 372.4h1.8v1.8h-1.8zM100.8 340.7h1.8v1.8h-1.8zM98.9 363.1h1.8v1.8h-1.8zM78.4 366.1h1.8v1.8h-1.8zM128.6 357.0h1.8v1.8h-1.8zM70.9 352.1h1.8v1.8h-1.8zM98.9 368.8h1.8v1.8h-1.8zM111.1 356.7h1.8v1.8h-1.8zM87.1 343.5h1.8v1.8h-1.8zM74.4 378.4h1.8v1.8h-1.8zM120.7 360.8h1.8v1.8h-1.8zM87.3 384.6h1.8v1.8h-1.8zM99.9 360.2h1.8v1.8h-1.8z"/>
<path fill="#b2abd2" d="M99.8 389.2h1.8v1.8h-1.8zM84.8 386.3h1.8v1.8h-1.8zM136.7 399.5h1.8v1.8h-1.8zM118.8 381.5h1.8v1.8h-1.8zM100.1 373.4h1.8v1.8h-1.8zM105.9 386.9h1.8v1.8h-1.8zM133.4 388.8h1.8v1.8h-1.8zM127.4 394.0h1.8v1.8h-1.8zM128.8 403.3h1.8v1.8h-1.8zM102.1 395.8h1.8v1.8h-1.8zM91.7 385.6h1.8v1.8h-1.8zM132.7 392.7h1.8v1.8h-1.8zM94.1 386.4h1.8v1.8h-1.8zM103.2 399.1h1.8v1.8h-1.8zM83.3 373.9h1.8v1.8h-1.8zM115.8 404.8h1.8v1.8h-1.8zM136.3 401.7h1.8v1.8h-1.8zM105.6 376.7h1.8v1.8h-1.8zM128.7 383.5h1.8v1.8h-1.8zM128.2 394.7h1.8v1.8h-1.8zM139.3 391.0h1.8v1.8h-1.8zM133.0 402.9h1.8v1.8h-1.8zM115.5 370.4h1.8v1.8h-1.8zM127.3 382.6h1.8v1.8h-1.8zM137.0 388.5h1.8v1.8h-1.8zM116.0 384.5h1.8v1.8h-1.8zM101.8 380.7h1.8v1.8h-1.8zM103.3 400.1h1.8v1.8h-1.8zM136.8 375.4h1.8v1.8h-1.8zM134.1 403.7h1.8v1.8h-1.8zM113.7 394.0h1.8v1.8h-1.8zM87.8 374.7h1.8v1.8h-1.8zM137.3 381.3h1.8v1.8h-1.8zM136.3 389.6h1.8v1.8h-1.8zM114.3 375.0h1.8v1.8h-1.8zM113.7 374.2h1.8v1.8h-1.8zM122.4 379.6h1.8v1.8h-1.8zM129.5 377.7h1.8v1.8h-1.8zM128.8 388.7h1.8v1.8h-1.8zM85.5 380.5h1.8v1.8h-1.8zM117.3 401.5h1.8v1.8h-1.8zM119.5 402.9h1.8v1.8h-1.8zM114.5 381.6h1.8v1.8h-1.8zM129.0 396.6h1.8v1.8h-1.8zM121.6 375.4h1.8v1.8h-1.8zM96.3 395.0h1.8v1.8h-1.8zM119.4 373.4h1.8v1.8h-1.8zM105.4 377.5h1.8v1.8h-1.8zM123.5 393.5h1.8v1.8h-1.8zM126.6 392.3h1.8v1.8h-1.8zM117.6 386.5h1.8v1.8h-1.8zM139.7 384.7h1.8v1.8h-1.8zM137.8 387.2h1.8v1.8h-1.8zM103.1 384.4h1.8v1.8h-1.8zM103.6 380.2h1.8v1.8h-1.8zM122.9 379.3h1.8v1.8h-1.8zM128.8 399.5h1.8v1.8h-1.8zM103.7 370.2h1.8v1.8h-1.8zM100.5 374.5h1.8v1.8h-1.8zM138.5 391.5h1.8v1.8h-1.8zM112.7 382.9h1.8v1.8h-1.8zM97.9 404.2h1.8v1.8h-1.8zM115.8 389.1h1.8v1.8h-1.8zM106.3 390.5h1.8v1.8h-1.8zM99.0 385.0h1.8v1.8h-1.8z"/>
<path fill="#8073ac" d="M62.2 392.8h1.8v1.8h-1.8zM73.0 420.2h1.8v1.8h-1.8zM63.9 384.7h1.8v1.8h-1.8zM65.6 411.0h1.8v1.8h-1.8zM79.0 404.1h1.8v1.8h-1.8zM79.3 400.6h1.8v1.8h-1.8zM68.5 416.8h1.8v1.8h-1.8zM69.6 415.5h1.8v1.8h-1.8zM80.7 402.8h1.8v1.8h-1.8zM79.2 393.4h1.8v1.8h-1.8zM84.9 404.1h1.8v1.8h-1.8zM63.9 401.6h1.8v1.8h-1.8zM74.8 419.8h1.8v1.8h-1.8zM69.2 390.4h1.8v1.8h-1.8zM61.9 406.7h1.8v1.8h-1.8zM59.0 401.3h1.8v1.8h-1.8zM65.9 416.0h1.8v1.8h-1.8zM77.7 392.7h1.8v1.8h-1.8zM74.7 417.5h1.8v1.8h-1.8zM68.3 385.5h1.8v1.8h-1.8zM74.2 396.6h1.8v1.8h-1.8zM64.1 394.3h1.8v1.8h-1.8zM65.6 417.5h1.8v1.8h-1.8zM60.5 381.0h1.8v1.8h-1.8zM65.4 383.5h1.8v1.8h-1.8zM77.2 389.8h1.8v1.8h-1.8zM72.4 418.4h1.8v1.8h-1.8zM58.5 393.0h1.8v1.8h-1.8zM68.4 409.8h1.8v1.8h-1.8zM79.2 408.4h1.8v1.8h-1.8zM71.8 385.9h1.8v1.8h-1.8zM70.7 422.5h1.8v1.8h-1.8zM57.6 387.7h1.8v1.8h-1.8zM77.2 400.6h1.8v1.8h-1.8z"/>
<path fill="#b35806" d="M55.3 373.1h1.8v1.8h-1.8zM56.1 382.8h1.8v1.8h-1.8zM57.3 361.0h1.8v1.8h-1.8zM47.3 385.8h1.8v1.8h-1.8zM48.5 386.1h1.8v1.8h-1.8zM53.8 378.1h1.8v1.8h-1.8zM29.8 408.1h1.8v1.8h-1.8zM38.5 369.0h1.8v1.8h-1.8zM47.4 354.1h1.8v1.8h-1.8zM54.4 369.8h1.8v1.8h-1.8zM53.8 374.6h1.8v1.8h-1.8zM65.2 347.7h1.8v1.8h-1.8zM53.0 347.6h1.8v1.8h-1.8zM42.8 359.4h1.8v1.8h-1.8zM51.1 379.0h1.8v1.8h-1.8zM41.6 355.2h1.8v1.8h-1.8zM57.8 361.2h1.8v1.8h-1.8zM53.5 367.8h1.8v1.8h-1.8zM70.8 363.2h1.8v1.8h-1.8zM52.1 375.9h1.8v1.8h-1.8zM33.8 365.9h1.8v1.8h-1.8zM61.4 361.7h1.8v1.8h-1.8zM70.6 370.5h1.8v1.8h-1.8zM62.4 362.5h1.8v1.8h-1.8zM49.8 373.5h1.8v1.8h-1.8zM45.2 364.4h1.8v1.8h-1.8zM56.0 390.5h1.8v1.8h-1.8zM50.0 389.0h1.8v1.8h-1.8zM66.3 353.2h1.8v1.8h-1.8zM66.0 353.6h1.8v1.8h-1.8zM42.2 397.8h1.8v1.8h-1.8zM62.2 372.8h1.8v1.8h-1.8zM56.0 381.5h1.8v1.8h-1.8zM33.7 410.5h1.8v1.8h-1.8zM40.7 358.6h1.8v1.8h-1.8zM77.0 366.6h1.8v1.8h-1.8zM29.6 381.3h1.8v1.8h-1.8zM61.0 384.8h1.8v1.8h-1.8zM58.4 362.4h1.8v1.8h-1.8zM67.2 362.6h1.8v1.8h-1.8zM57.5 395.8h1.8v1.8h-1.8zM65.5 389.9h1.8v1.8h-1.8zM58.9 390.3h1.8v1.8h-1.8zM61.6 358.3h1.8v1.8h-1.8zM78.2 369.0h1.8v1.8h-1.8zM42.8 400.8h1.8v1.8h-1.8zM55.3 407.1h1.8v1.8h-1.8zM72.8 369.8h1.8v1.8h-1.8zM56.0 351.7h1.8v1.8h-1.8zM53.0 356.1h1.8v1.8h-1.8zM65.1 344.8h1.8v1.8h-1.8zM71.3 367.0h1.8v1.8h-1.8zM25.0 391.9h1.8v1.8h-1.8zM56.0 373.5h1.8v1.8h-1.8zM40.5 403.3h1.8v1.8h-1.8zM38.6 362.0h1.8v1.8h-1.8zM46.5 397.5h1.8v1.8h-1.8zM68.5 387.5h1.8v1.8h-1.8zM55.1 396.1h1.8v1.8h-1.8zM58.5 390.9h1.8v1.8h-1.8zM34.3 372.6h1.8v1.8h-1.8zM67.5 344.1h1.8v1.8h-1.8zM73.4 351.2h1.8v1.8h-1.8zM29.8 397.9h1.8v1.8h-1.8zM47.9 358.4h1.8v1.8h-1.8zM41.8 397.3h1.8v1.8h-1.8zM58.8 367.7h1.8v1.8h-1.8zM70.1 367.5h1.8v1.8h-1.8zM38.1 397.9h1.8v1.8h-1.8zM60.6 410.5h1.8v1.8h-1.8zM37.7 383.8h1.8v1.8h-1.8zM53.5 401.5h1.8v1.8h-1.8zM61.4 367.5h1.8v1.8h-1.8zM65.6 372.6h1.8v1.8h-1.8zM45.4 356.5h1.8v1.8h-1.8zM39.6 360.0h1.8v1.8h-1.8zM46.0 362.2h1.8v1.8h-1.8zM64.6 383.5h1.8v1.8h-1.8zM67.2 371.1h1.8v1.8h-1.8zM39.5 358.0h1.8v1.8h-1.8zM62.2 381.0h1.8v1.8h-1.8zM60.0 399.0h1.8v1.8h-1.8zM27.6 406.0h1.8v1.8h-1.8zM27.8 409.8h1.8v1.8h-1.8zM61.2 388.7h1.8v1.8h-1.8zM58.0 347.5h1.8v1.8h-1.8zM55.4 403.2h1.8v1.8h-1.8zM50.9 401.7h1.8v1.8h-1.8zM52.7 412.7h1.8v1.8h-1.8zM33.9 368.5h1.8v1.8h-1.8zM30.2 388.8h1.8v1.8h-1.8zM48.5 369.2h1.8v1.8h-1.8zM55.5 349.2h1.8v1.8h-1.8zM46.9 407.0h1.8v1.8h-1.8zM68.7 377.6h1.8v1.8h-1.8zM36.2 371.4h1.8v1.8h-1.8zM51.7 411.9h1.8v1.8h-1.8zM34.9 409.6h1.8v1.8h-1.8zM44.4 416.2h1.8v1.8h-1.8zM51.0 374.2h1.8v1.8h-1.8zM32.6 387.5h1.8v1.8h-1.8zM39.8 364.1h1.8v1.8h-1.8z"/>
<path fill="#e08214" d="M140.8 426.5h1.8v1.8h-1.8zM145.7 403.7h1.8v1.8h-1.8zM162.3 394.4h1.8v1.8h-1.8zM132.9 427.0h1.8v1.8h-1.8zM146.0 438.5h1.8v1.8h-1.8zM162.0 429.2h1.8v1.8h-1.8zM142.6 391.1h1.8v1.8h-1.8zM137.4 405.4h1.8v1.8h-1.8zM141.3 406.1h1.8v1.8h-1.8zM142.3 418.9h1.8v1.8h-1.8zM129.4 447.6h1.8v1.8h-1.8zM147.7 390.1h1.8v1.8h-1.8zM137.3 444.9h1.8v1.8h-1.8zM146.7 398.3h1.8v1.8h-1.8zM158.4 399.7h1.8v1.8h-1.8zM161.8 406.6h1.8v1.8h-1.8zM159.3 423.1h1.8v1.8h-1.8zM148.7 388.0h1.8v1.8h-1.8zM140.3 435.2h1.8v1.8h-1.8zM139.2 406.5h1.8v1.8h-1.8zM138.5 425.9h1.8v1.8h-1.8zM128.0 428.3h1.8v1.8h-1.8zM141.2 375.3h1.8v1.8h-1.8zM141.5 441.8h1.8v1.8h-1.8zM143.0 415.3h1.8v1.8h-1.8zM141.4 410.3h1.8v1.8h-1.8zM139.5 391.0h1.8v1.8h-1.8zM162.1 402.3h1.8v1.8h-1.8zM133.4 404.7h1.8v1.8h-1.8zM150.5 426.6h1.8v1.8h-1.8zM150.8 411.6h1.8v1.8h-1.8zM146.1 385.7h1.8v1.8h-1.8zM160.3 403.9h1.8v1.8h-1.8zM164.1 416.7h1.8v1.8h-1.8zM142.1 419.2h1.8v1.8h-1.8zM156.7 399.5h1.8v1.8h-1.8zM138.7 442.3h1.8v1.8h-1.8zM156.7 380.6h1.8v1.8h-1.8zM133.9 421.9h1.8v1.8h-1.8zM147.2 424.5h1.8v1.8h-1.8zM155.4 394.6h1.8v1.8h-1.8zM139.9 409.8h1.8v1.8h-1.8zM156.2 390.7h1.8v1.8h-1.8zM138.2 376.0h1.8v1.8h-1.8zM134.5 397.9h1.8v1.8h-1.8zM144.5 418.8h1.8v1.8h-1.8zM156.4 391.0h1.8v1.8h-1.8zM125.5 411.6h1.8v1.8h-1.8zM142.4 400.3h1.8v1.8h-1.8zM124.9 425.2h1.8v1.8h-1.8zM135.5 449.0h1.8v1.8h-1.8zM145.9 445.1h1.8v1.8h-1.8zM132.2 401.0h1.8v1.8h-1.8zM152.3 412.7h1.8v1.8h-1.8zM130.3 423.7h1.8v1.8h-1.8zM132.1 378.4h1.8v1.8h-1.8zM154.9 425.2h1.8v1.8h-1.8zM139.3 395.3h1.8v1.8h-1.8zM162.9 403.1h1.8v1.8h-1.8zM144.1 390.1h1.8v1.8h-1.8zM155.0 420.9h1.8v1.8h-1.8zM159.2 414.9h1.8v1.8h-1.8zM145.0 404.9h1.8v1.8h-1.8zM136.6 383.9h1.8v1.8h-1.8zM137.0 388.6h1.8v1.8h-1.8zM158.4 413.4h1.8v1.8h-1.8zM136.5 378.6h1.8v1.8h-1.8zM139.7 449.7h1.8v1.8h-1.8zM150.8 384.3h1.8v1.8h-1.8zM133.7 424.0h1.8v1.8h-1.8zM148.0 391.8h1.8v1.8h-1.8zM157.9 391.9h1.8v1.8h-1.8zM129.9 408.3h1.8v1.8h-1.8zM134.6 418.7h1.8v1.8h-1.8zM164.1 415.2h1.8v1.8h-1.8zM158.3 392.9h1.8v1.8h-1.8zM145.6 443.4h1.8v1.8h-1.8zM151.8 377.2h1.8v1.8h-1.8zM133.0 418.4h1.8v1.8h-1.8zM142.2 396.9h1.8v1.8h-1.8zM143.4 441.1h1.8v1.8h-1.8zM134.1 382.6h1.8v1.8h-1.8zM139.0 431.6h1.8v1.8h-1.8zM130.6 431.9h1.8v1.8h-1.8zM133.3 449.0h1.8v1.8h-1.8zM139.9 433.6h1.8v1.8h-1.8zM148.9 433.5h1.8v1.8h-1.8zM137.2 402.6h1.8v1.8h-1.8zM160.0 419.7h1.8v1.8h-1.8zM130.8 413.9h1.8v1.8h-1.8zM148.3 424.0h1.8v1.8h-1.8zM136.1 372.1h1.8v1.8h-1.8zM153.9 412.2h1.8v1.8h-1.8zM147.2 375.5h1.8v1.8h-1.8zM151.2 393.7h1.8v1.8h-1.8zM135.3 399.1h1.8v1.8h-1.8zM137.3 373.8h1.8v1.8h-1.8z"/>
<path fill="#fdb863" d="M117.8 421.6h1.8v1.8h-1.8zM88.6 403.5h1.8v1.8h-1.8zM96.8 448.7h1.8v1.8h-1.8zM88.1 419.1h1.8v1.8h-1.8zM97.3 410.0h1.8v1.8h-1.8zM91.2 436.7h1.8v1.8h-1.8zM111.4 428.0h1.8v1.8h-1.8zM103.8 415.6h1.8v1.8h-1.8zM92.2 403.9h1.8v1.8h-1.8zM92.1 450.8h1.8v1.8h-1.8zM77.6 423.6h1.8v1.8h-1.8zM126.1 435.1h1.8v1.8h-1.8zM88.1 435.0h1.8v1.8h-1.8zM97.3 455.7h1.8v1.8h-1.8zM95.3 382.6h1.8v1.8h-1.8zM75.7 403.0h1.8v1.8h-1.8zM75.9 449.5h1.8v1.8h-1.8zM86.4 418.4h1.8v1.8h-1.8zM81.2 416.7h1.8v1.8h-1.8zM92.3 416.4h1.8v1.8h-1.8zM112.3 454.9h1.8v1.8h-1.8zM85.6 414.9h1.8v1.8h-1.8zM87.0 386.3h1.8v1.8h-1.8zM105.9 463.0h1.8v1.8h-1.8zM121.9 427.1h1.8v1.8h-1.8zM96.9 429.3h1.8v1.8h-1.8zM92.6 426.7h1.8v1.8h-1.8zM82.2 380.1h1.8v1.8h-1.8zM82.7 452.0h1.8v1.8h-1.8zM82.2 436.4h1.8v1.8h-1.8zM96.4 403.6h1.8v1.8h-1.8zM83.8 460.8h1.8v1.8h-1.8zM102.3 398.6h1.8v1.8h-1.8zM75.7 443.6h1.8v1.8h-1.8zM99.1 413.4h1.8v1.8h-1.8zM115.4 444.9h1.8v1.8h-1.8zM105.0 458.9h1.8v1.8h-1.8zM85.4 451.3h1.8v1.8h-1.8zM82.5 398.6h1.8v1.8h-1.8zM103.2 408.1h1.8v1.8h-1.8zM84.1 394.0h1.8v1.8h-1.8zM127.5 423.6h1.8v1.8h-1.8zM73.8 402.2h1.8v1.8h-1.8zM82.2 453.1h1.8v1.8h-1.8zM84.5 450.2h1.8v1.8h-1.8zM84.1 398.5h1.8v1.8h-1.8zM85.2 425.9h1.8v1.8h-1.8zM108.0 401.4h1.8v1.8h-1.8zM83.3 421.3h1.8v1.8h-1.8zM83.2 458.5h1.8v1.8h-1.8zM118.4 415.5h1.8v1.8h-1.8zM98.0 458.4h1.8v1.8h-1.8zM89.7 384.6h1.8v1.8h-1.8zM120.7 443.5h1.8v1.8h-1.8zM111.9 438.6h1.8v1.8h-1.8zM106.1 454.2h1.8v1.8h-1.8zM69.7 398.1h1.8v1.8h-1.8zM104.7 414.7h1.8v1.8h-1.8zM104.6 452.7h1.8v1.8h-1.8zM73.8 441.7h1.8v1.8h-1.8zM123.5 432.3h1.8v1.8h-1.8zM85.4 394.3h1.8v1.8h-1.8zM101.7 424.2h1.8v1.8h-1.8zM103.4 457.2h1.8v1.8h-1.8zM101.9 400.1h1.8v1.8h-1.8zM76.8 415.2h1.8v1.8h-1.8zM122.3 419.3h1.8v1.8h-1.8zM83.7 425.8h1.8v1.8h-1.8zM80.5 434.2h1.8v1.8h-1.8zM96.7 449.7h1.8v1.8h-1.8zM94.1 443.4h1.8v1.8h-1.8zM112.8 421.7h1.8v1.8h-1.8zM78.0 410.1h1.8v1.8h-1.8zM111.1 434.8h1.8v1.8h-1.8zM115.5 420.0h1.8v1.8h-1.8zM115.2 435.3h1.8v1.8h-1.8zM124.2 415.6h1.8v1.8h-1.8zM123.7 419.7h1.8v1.8h-1.8zM101.4 437.0h1.8v1.8h-1.8zM82.5 394.8h1.8v1.8h-1.8zM117.1 412.0h1.8v1.8h-1.8zM109.4 460.2h1.8v1.8h-1.8zM93.3 409.2h1.8v1.8h-1.8zM101.7 429.0h1.8v1.8h-1.8zM77.7 423.9h1.8v1.8h-1.8zM99.8 426.8h1.8v1.8h-1.8zM122.9 452.4h1.8v1.8h-1.8zM74.1 429.5h1.8v1.8h-1.8zM87.6 439.6h1.8v1.8h-1.8zM94.9 399.1h1.8v1.8h-1.8zM108.5 407.7h1.8v1.8h-1.8zM86.0 442.5h1.8v1.8h-1.8zM112.6 450.5h1.8v1.8h-1.8zM126.0 441.5h1.8v1.8h-1.8zM120.6 415.8h1.8v1.8h-1.8zM98.3 425.2h1.8v1.8h-1.8zM115.1 419.4h1.8v1.8h-1.8zM113.3 440.2h1.8v1.8h-1.8zM81.9 417.2h1.8v1.8h-1.8zM75.5 448.3h1.8v1.8h-1.8zM90.6 429.9h1.8v1.8h-1.8zM87.5 414.8h1.8v1.8h-1.8zM105.4 441.9h1.8v1.8h-1.8zM118.5 434.5h1.8v1.8h-1.8zM111.4 410.3h1.8v1.8h-1.8zM127.2 423.5h1.8v1.8h-1.8zM114.2 413.5h1.8v1.8h-1.8zM84.7 438.7h1.8v1.8h-1.8zM103.9 451.6h1.8v1.8h-1.8zM84.8 445.1h1.8v1.8h-1.8zM117.1 413.0h1.8v1.8h-1.8zM79.2 458.0h1.8v1.8h-1.8zM100.2 452.9h1.8v1.8h-1.8zM75.2 428.4h1.8v1.8h-1.8zM102.5 439.2h1.8v1.8h-1.8z"/>
<path fill="#fee0b6" d="M63.7 460.0h1.8v1.8h-1.8zM55.1 434.2h1.8v1.8h-1.8zM39.5 428.6h1.8v1.8h-1.8zM46.4 425.2h1.8v1.8h-1.8zM27.5 437.5h1.8v1.8h-1.8zM33.5 442.3h1.8v1.8h-1.8zM39.0 432.8h1.8v1.8h-1.8zM40.6 460.3h1.8v1.8h-1.8zM26.1 425.3h1.8v1.8h-1.8zM41.8 451.3h1.8v1.8h-1.8zM36.5 434.5h1.8v1.8h-1.8zM42.0 419.8h1.8v1.8h-1.8zM60.2 453.8h1.8v1.8h-1.8zM34.3 417.9h1.8v1.8h-1.8zM47.8 437.5h1.8v1.8h-1.8zM24.3 431.1h1.8v1.8h-1.8zM24.3 434.3h1.8v1.8h-1.8zM46.4 428.6h1.8v1.8h-1.8zM59.4 459.7h1.8v1.8h-1.8zM63.2 429.2h1.8v1.8h-1.8zM25.6 423.7h1.8v1.8h-1.8zM51.4 436.6h1.8v1.8h-1.8zM22.9 426.2h1.8v1.8h-1.8zM56.6 428.6h1.8v1.8h-1.8zM42.5 460.9h1.8v1.8h-1.8zM62.3 459.6h1.8v1.8h-1.8zM63.8 433.0h1.8v1.8h-1.8zM58.6 432.5h1.8v1.8h-1.8zM33.2 417.4h1.8v1.8h-1.8zM54.9 442.4h1.8v1.8h-1.8zM34.0 456.0h1.8v1.8h-1.8zM50.9 455.6h1.8v1.8h-1.8zM51.3 461.9h1.8v1.8h-1.8zM39.1 440.0h1.8v1.8h-1.8zM59.8 442.9h1.8v1.8h-1.8zM37.6 434.3h1.8v1.8h-1.8zM59.9 448.1h1.8v1.8h-1.8zM60.6 429.0h1.8v1.8h-1.8zM32.8 421.4h1.8v1.8h-1.8zM66.2 446.7h1.8v1.8h-1.8zM41.6 436.9h1.8v1.8h-1.8zM27.8 440.1h1.8v1.8h-1.8zM44.6 434.2h1.8v1.8h-1.8zM29.4 435.5h1.8v1.8h-1.8zM69.7 448.2h1.8v1.8h-1.8zM43.9 435.0h1.8v1.8h-1.8zM27.1 440.6h1.8v1.8h-1.8zM29.1 444.1h1.8v1.8h-1.8z"/>
<path fill="#d8daeb" d="M103.5 357.6h1.8v1.8h-1.8zM98.7 356.0h1.8v1.8h-1.8zM96.2 365.6h1.8v1.8h-1.8zM77.6 363.6h1.8v1.8h-1.8zM83.4 361.1h1.8v1.8h-1.8zM82.2 352.2h1.8v1.8h-1.8zM112.0 350.7h1.8v1.8h-1.8zM92.6 347.3h1.8v1.8h-1.8zM73.4 365.7h1.8v1.8h-1.8zM98.0 369.3h1.8v1.8h-1.8zM74.3 362.6h1.8v1.8h-1.8zM133.3 370.5h1.8v1.8h-1.8zM93.7 362.2h1.8v1.8h-1.8zM115.2 362.4h1.8v1.8h-1.8zM79.9 344.0h1.8v1.8h-1.8zM101.2 366.0h1.8v1.8h-1.8zM82.8 366.8h1.8v1.8h-1.8zM105.2 368.5h1.8v1.8h-1.8zM92.3 371.5h1.8v1.8h-1.8zM101.9 358.7h1.8v1.8h-1.8zM95.9 361.7h1.8v1.8h-1.8zM119.2 370.4h1.8v1.8h-1.8zM76.6 371.5h1.8v1.8h-1.8zM121.9 351.3h1.8v1.8h-1.8zM130.2 366.0h1.8v1.8h-1.8zM122.3 367.1h1.8v1.8h-1.8zM106.1 358.3h1.8v1.8h-1.8zM102.8 375.8h1.8v1.8h-1.8zM115.5 352.3h1.8v1.8h-1.8zM96.3 369.7h1.8v1.8h-1.8zM97.9 370.2h1.8v1.8h-1.8zM112.5 372.2h1.8v1.8h-1.8zM79.2 383.3h1.8v1.8h-1.8zM125.3 361.9h1.8v1.8h-1.8zM104.5 356.9h1.8v1.8h-1.8zM96.1 357.4h1.8v1.8h-1.8zM113.1 358.0h1.8v1.8h-1.8zM97.4 368.3h1.8v1.8h-1.8zM70.5 351.8h1.8v1.8h-1.8zM102.4 368.8h1.8v1.8h-1.8zM91.4 370.4h1.8v1.8h-1.8zM73.9 377.5h1.8v1.8h-1.8zM95.7 350.0h1.8v1.8h-1.8zM92.6 340.4h1.8v1.8h-1.8zM112.7 350.8h1.8v1.8h-1.8zM98.1 352.3h1.8v1.8h-1.8zM89.7 346.0h1.8v1.8h-1.8zM106.4 346.3h1.8v1.8h-1.8zM79.8 341.8h1.8v1.8h-1.8zM87.5 375.9h1.8v1.8h-1.8zM103.2 375.4h1.8v1.8h-1.8zM113.9 357.0h1.8v1.8h-1.8z"/>
<path fill="#b2abd2" d="M134.7 402.5h1.8v1.8h-1.8zM86.4 383.5h1.8v1.8h-1.8zM110.3 398.3h1.8v1.8h-1.8zM102.7 376.8h1.8v1.8h-1.8zM91.3 375.4h1.8v1.8h-1.8zM134.3 402.4h1.8v1.8h-1.8zM120.8 388.6h1.8v1.8h-1.8zM116.4 387.1h1.8v1.8h-1.8zM138.0 380.9h1.8v1.8h-1.8zM113.8 387.8h1.8v1.8h-1.8zM113.4 389.2h1.8v1.8h-1.8zM124.7 371.7h1.8v1.8h-1.8zM129.6 403.0h1.8v1.8h-1.8zM84.7 388.0h1.8v1.8h-1.8zM131.7 386.5h1.8v1.8h-1.8zM119.4 370.3h1.8v1.8h-1.8zM110.3 372.8h1.8v1.8h-1.8zM129.9 382.5h1.8v1.8h-1.8zM114.9 391.0h1.8v1.8h-1.8zM125.7 413.6h1.8v1.8h-1.8zM87.6 385.1h1.8v1.8h-1.8zM100.2 386.3h1.8v1.8h-1.8zM94.7 394.8h1.8v1.8h-1.8zM135.6 392.2h1.8v1.8h-1.8zM120.8 386.1h1.8v1.8h-1.8zM107.7 401.9h1.8v1.8h-1.8zM107.0 409.6h1.8v1.8h-1.8zM103.5 383.4h1.8v1.8h-1.8zM88.4 370.0h1.8v1.8h-1.8zM129.8 395.6h1.8v1.8h-1.8zM91.4 384.9h1.8v1.8h-1.8zM121.8 402.4h1.8v1.8h-1.8zM85.0 389.5h1.8v1.8h-1.8zM135.4 375.3h1.8v1.8h-1.8zM91.3 389.2h1.8v1.8h-1.8zM116.4 376.4h1.8v1.8h-1.8zM120.6 399.5h1.8v1.8h-1.8zM120.1 370.2h1.8v1.8h-1.8zM131.8 380.3h1.8v1.8h-1.8zM117.0 384.9h1.8v1.8h-1.8zM114.5 374.4h1.8v1.8h-1.8zM95.1 397.9h1.8v1.8h-1.8zM130.1 388.9h1.8v1.8h-1.8zM140.4 384.4h1.8v1.8h-1.8zM103.4 370.8h1.8v1.8h-1.8zM89.9 369.5h1.8v1.8h-1.8zM133.4 381.4h1.8v1.8h-1.8z"/>
<path fill="#8073ac" d="M83.7 399.3h1.8v1.8h-1.8zM77.0 420.8h1.8v1.8h-1.8zM67.9 428.6h1.8v1.8h-1.8zM75.0 385.7h1.8v1.8h-1.8zM67.7 391.0h1.8v1.8h-1.8zM73.1 420.4h1.8v1.8h-1.8zM68.9 416.4h1.8v1.8h-1.8zM77.5 420.7h1.8v1.8h-1.8zM76.7 392.4h1.8v1.8h-1.8zM65.5 410.3h1.8v1.8h-1.8zM62.5 404.6h1.8v1.8h-1.8zM60.3 397.1h1.8v1.8h-1.8zM77.4 452.1h1.8v1.8h-1.8zM73.0 398.6h1.8v1.8h-1.8zM76.8 396.5h1.8v1.8h-1.8zM68.0 415.9h1.8v1.8h-1.8zM65.1 408.2h1.8v1.8h-1.8zM69.3 404.2h1.8v1.8h-1.8zM61.8 395.9h1.8v1.8h-1.8zM58.5 398.0h1.8v1.8h-1.8zM75.3 391.3h1.8v1.8h-1.8zM61.8 411.5h1.8v1.8h-1.8zM72.0 396.4h1.8v1.8h-1.8zM87.1 399.5h1.8v1.8h-1.8zM85.5 407.3h1.8v1.8h-1.8zM80.0 401.0h1.8v1.8h-1.8zM66.4 390.1h1.8v1.8h-1.8zM69.3 418.1h1.8v1.8h-1.8zM70.3 387.2h1.8v1.8h-1.8zM68.7 387.7h1.8v1.8h-1.8zM65.5 381.5h1.8v1.8h-1.8zM72.9 391.1h1.8v1.8h-1.8zM82.9 421.9h1.8v1.8h-1.8zM76.9 402.0h1.8v1.8h-1.8zM73.0 420.8h1.8v1.8h-1.8zM81.7 410.0h1.8v1.8h-1.8zM63.2 384.1h1.8v1.8h-1.8zM67.5 392.0h1.8v1.8h-1.8zM67.7 392.2h1.8v1.8h-1.8z"/>
<path fill="#b35806" d="M25.4 384.3h1.8v1.8h-1.8zM38.8 360.6h1.8v1.8h-1.8zM63.9 343.4h1.8v1.8h-1.8zM45.4 356.6h1.8v1.8h-1.8zM52.4 390.6h1.8v1.8h-1.8zM60.6 364.0h1.8v1.8h-1.8zM40.5 397.4h1.8v1.8h-1.8zM77.0 377.9h1.8v1.8h-1.8zM50.4 373.5h1.8v1.8h-1.8zM26.4 404.6h1.8v1.8h-1.8zM39.4 399.9h1.8v1.8h-1.8zM51.0 389.3h1.8v1.8h-1.8zM43.7 359.6h1.8v1.8h-1.8zM28.1 395.1h1.8v1.8h-1.8zM41.2 400.2h1.8v1.8h-1.8zM33.6 407.5h1.8v1.8h-1.8zM50.1 362.4h1.8v1.8h-1.8zM55.2 367.2h1.8v1.8h-1.8zM71.7 369.5h1.8v1.8h-1.8zM65.4 352.1h1.8v1.8h-1.8zM30.4 411.1h1.8v1.8h-1.8zM76.1 371.5h1.8v1.8h-1.8zM25.6 398.7h1.8v1.8h-1.8zM27.8 398.1h1.8v1.8h-1.8zM68.8 369.3h1.8v1.8h-1.8zM37.1 399.6h1.8v1.8h-1.8zM29.5 385.9h1.8v1.8h-1.8zM39.3 385.8h1.8v1.8h-1.8zM31.5 373.7h1.8v1.8h-1.8zM57.6 361.6h1.8v1.8h-1.8zM48.5 349.5h1.8v1.8h-1.8zM62.2 373.0h1.8v1.8h-1.8zM46.2 399.7h1.8v1.8h-1.8zM41.7 365.2h1.8v1.8h-1.8zM58.5 372.2h1.8v1.8h-1.8zM55.4 374.3h1.8v1.8h-1.8zM65.8 369.7h1.8v1.8h-1.8zM47.8 414.2h1.8v1.8h-1.8zM43.2 369.8h1.8v1.8h-1.8zM50.6 411.4h1.8v1.8h-1.8zM36.4 396.7h1.8v1.8h-1.8zM38.9 357.7h1.8v1.8h-1.8zM35.5 404.2h1.8v1.8h-1.8zM53.0 384.3h1.8v1.8h-1.8zM31.7 396.5h1.8v1.8h-1.8zM45.5 401.5h1.8v1.8h-1.8zM71.1 371.9h1.8v1.8h-1.8zM55.4 393.3h1.8v1.8h-1.8zM37.5 405.2h1.8v1.8h-1.8zM59.8 350.0h1.8v1.8h-1.8zM35.9 401.9h1.8v1.8h-1.8zM57.0 413.3h1.8v1.8h-1.8zM62.1 358.6h1.8v1.8h-1.8zM43.3 365.4h1.8v1.8h-1.8zM62.3 379.4h1.8v1.8h-1.8zM41.1 390.4h1.8v1.8h-1.8zM39.9 403.6h1.8v1.8h-1.8zM58.3 352.6h1.8v1.8h-1.8zM50.8 403.2h1.8v1.8h-1.8zM38.9 389.4h1.8v1.8h-1.8zM69.5 385.1h1.8v1.8h-1.8zM52.9 389.7h1.8v1.8h-1.8zM76.4 379.3h1.8v1.8h-1.8zM34.2 372.0h1.8v1.8h-1.8zM37.0 362.7h1.8v1.8h-1.8zM72.2 357.2h1.8v1.8h-1.8zM40.1 395.4h1.8v1.8h-1.8zM35.5 388.7h1.8v1.8h-1.8zM31.4 370.2h1.8v1.8h-1.8zM57.1 355.8h1.8v1.8h-1.8zM31.0 378.6h1.8v1.8h-1.8zM70.0 350.1h1.8v1.8h-1.8zM37.5 407.1h1.8v1.8h-1.8zM38.2 404.5h1.8v1.8h-1.8zM66.4 341.4h1.8v1.8h-1.8zM65.5 341.7h1.8v1.8h-1.8zM61.6 367.9h1.8v1.8h-1.8zM37.3 365.1h1.8v1.8h-1.8zM64.4 340.7h1.8v1.8h-1.8zM36.0 404.1h1.8v1.8h-1.8zM75.9 377.9h1.8v1.8h-1.8zM43.9 356.2h1.8v1.8h-1.8zM76.2 375.0h1.8v1.8h-1.8zM58.1 409.7h1.8v1.8h-1.8zM25.0 396.6h1.8v1.8h-1.8zM55.7 369.7h1.8v1.8h-1.8zM57.8 359.5h1.8v1.8h-1.8zM43.4 412.8h1.8v1.8h-1.8zM76.5 378.7h1.8v1.8h-1.8zM42.8 363.5h1.8v1.8h-1.8zM60.5 392.0h1.8v1.8h-1.8zM42.7 401.1h1.8v1.8h-1.8zM57.0 395.0h1.8v1.8h-1.8zM69.6 345.4h1.8v1.8h-1.8zM54.6 380.6h1.8v1.8h-1.8zM69.2 385.8h1.8v1.8h-1.8zM80.5 348.6h1.8v1.8h-1.8z"/>
<path fill="#e08214" d="M149.7 430.6h1.8v1.8h-1.8zM132.5 447.1h1.8v1.8h-1.8zM153.5 388.6h1.8v1.8h-1.8zM144.6 427.5h1.8v1.8h-1.8zM146.6 377.4h1.8v1.8h-1.8zM132.9 435.3h1.8v1.8h-1.8zM139.4 380.8h1.8v1.8h-1.8zM128.3 418.0h1.8v1.8h-1.8zM155.6 410.7h1.8v1.8h-1.8zM153.9 389.7h1.8v1.8h-1.8zM128.1 416.1h1.8v1.8h-1.8zM143.5 443.0h1.8v1.8h-1.8zM135.9 444.6h1.8v1.8h-1.8zM159.1 422.2h1.8v1.8h-1.8zM156.4 422.6h1.8v1.8h-1.8zM131.2 425.3h1.8v1.8h-1.8zM142.8 414.7h1.8v1.8h-1.8zM128.4 411.8h1.8v1.8h-1.8zM130.0 408.5h1.8v1.8h-1.8zM145.5 377.5h1.8v1.8h-1.8zM133.2 394.6h1.8v1.8h-1.8zM164.7 409.8h1.8v1.8h-1.8zM156.5 413.1h1.8v1.8h-1.8zM154.1 394.1h1.8v1.8h-1.8zM156.7 403.7h1.8v1.8h-1.8zM141.3 431.2h1.8v1.8h-1.8zM145.1 379.9h1.8v1.8h-1.8zM134.0 441.6h1.8v1.8h-1.8zM150.4 406.7h1.8v1.8h-1.8zM151.5 436.4h1.8v1.8h-1.8zM157.1 410.6h1.8v1.8h-1.8zM153.4 392.1h1.8v1.8h-1.8zM135.6 419.7h1.8v1.8h-1.8zM139.1 429.9h1.8v1.8h-1.8zM143.7 385.0h1.8v1.8h-1.8zM138.6 417.6h1.8v1.8h-1.8zM146.4 408.5h1.8v1.8h-1.8zM166.1 417.8h1.8v1.8h-1.8zM133.4 425.8h1.8v1.8h-1.8zM133.3 440.6h1.8v1.8h-1.8zM133.2 420.5h1.8v1.8h-1.8zM129.3 382.1h1.8v1.8h-1.8zM151.0 443.1h1.8v1.8h-1.8zM162.6 392.5h1.8v1.8h-1.8zM152.1 415.3h1.8v1.8h-1.8zM159.4 404.3h1.8v1.8h-1.8zM137.1 382.9h1.8v1.8h-1.8zM133.8 418.8h1.8v1.8h-1.8zM148.7 395.8h1.8v1.8h-1.8zM139.6 419.4h1.8v1.8h-1.8zM132.8 419.5h1.8v1.8h-1.8zM153.8 431.9h1.8v1.8h-1.8zM148.8 443.2h1.8v1.8h-1.8zM138.8 442.6h1.8v1.8h-1.8zM135.2 425.6h1.8v1.8h-1.8zM132.8 380.4h1.8v1.8h-1.8zM158.1 418.7h1.8v1.8h-1.8zM159.1 437.9h1.8v1.8h-1.8zM147.3 434.5h1.8v1.8h-1.8zM158.1 393.6h1.8v1.8h-1.8zM142.1 415.5h1.8v1.8h-1.8zM130.9 431.5h1.8v1.8h-1.8zM136.3 438.4h1.8v1.8h-1.8zM147.1 436.1h1.8v1.8h-1.8zM165.4 420.5h1.8v1.8h-1.8zM134.4 426.0h1.8v1.8h-1.8zM140.2 422.2h1.8v1.8h-1.8zM162.7 403.6h1.8v1.8h-1.8zM147.0 406.4h1.8v1.8h-1.8zM152.4 404.9h1.8v1.8h-1.8zM149.6 418.8h1.8v1.8h-1.8zM160.6 422.1h1.8v1.8h-1.8zM129.2 384.4h1.8v1.8h-1.8zM154.6 414.8h1.8v1.8h-1.8zM136.0 424.1h1.8v1.8h-1.8zM127.9 424.5h1.8v1.8h-1.8zM153.6 429.4h1.8v1.8h-1.8zM132.4 414.8h1.8v1.8h-1.8zM145.9 373.2h1.8v1.8h-1.8zM133.4 383.8h1.8v1.8h-1.8zM159.2 392.2h1.8v1.8h-1.8zM141.4 430.7h1.8v1.8h-1.8zM126.0 431.4h1.8v1.8h-1.8zM136.1 440.0h1.8v1.8h-1.8zM155.7 412.9h1.8v1.8h-1.8zM146.4 381.4h1.8v1.8h-1.8zM126.7 426.3h1.8v1.8h-1.8zM149.8 427.0h1.8v1.8h-1.8zM144.0 427.9h1.8v1.8h-1.8zM131.0 442.1h1.8v1.8h-1.8zM137.6 422.9h1.8v1.8h-1.8zM126.2 444.8h1.8v1.8h-1.8zM155.5 428.6h1.8v1.8h-1.8zM159.9 431.2h1.8v1.8h-1.8zM133.5 408.1h1.8v1.8h-1.8z"/>
<path fill="#fdb863" d="M74.2 413.0h1.8v1.8h-1.8zM114.0 443.3h1.8v1.8h-1.8zM125.3 416.6h1.8v1.8h-1.8zM89.1 431.8h1.8v1.8h-1.8zM92.4 401.3h1.8v1.8h-1.8zM82.1 406.1h1.8v1.8h-1.8zM95.4 398.0h1.8v1.8h-1.8zM95.2 438.2h1.8v1.8h-1.8zM121.9 449.9h1.8v1.8h-1.8zM74.3 425.4h1.8v1.8h-1.8zM109.9 406.2h1.8v1.8h-1.8zM122.7 412.3h1.8v1.8h-1.8zM115.0 444.3h1.8v1.8h-1.8zM96.1 463.1h1.8v1.8h-1.8zM76.2 445.7h1.8v1.8h-1.8zM69.2 413.9h1.8v1.8h-1.8zM76.9 454.2h1.8v1.8h-1.8zM121.9 431.5h1.8v1.8h-1.8zM113.6 411.4h1.8v1.8h-1.8zM110.0 430.1h1.8v1.8h-1.8zM104.9 461.2h1.8v1.8h-1.8zM78.1 436.1h1.8v1.8h-1.8zM116.9 416.8h1.8v1.8h-1.8zM97.9 446.8h1.8v1.8h-1.8zM76.2 413.6h1.8v1.8h-1.8zM80.1 400.4h1.8v1.8h-1.8zM81.8 433.8h1.8v1.8h-1.8zM75.1 415.1h1.8v1.8h-1.8zM109.9 432.2h1.8v1.8h-1.8zM103.8 429.5h1.8v1.8h-1.8zM110.3 431.5h1.8v1.8h-1.8zM112.9 441.1h1.8v1.8h-1.8zM112.5 418.6h1.8v1.8h-1.8zM88.8 403.1h1.8v1.8h-1.8zM99.0 412.3h1.8v1.8h-1.8zM104.4 458.4h1.8v1.8h-1.8zM107.2 453.9h1.8v1.8h-1.8zM73.4 429.3h1.8v1.8h-1.8zM96.6 440.8h1.8v1.8h-1.8zM123.6 402.9h1.8v1.8h-1.8zM99.3 421.0h1.8v1.8h-1.8zM95.8 401.8h1.8v1.8h-1.8zM78.5 435.8h1.8v1.8h-1.8zM92.6 415.7h1.8v1.8h-1.8zM118.1 436.6h1.8v1.8h-1.8zM71.5 401.1h1.8v1.8h-1.8zM79.6 431.1h1.8v1.8h-1.8zM87.5 403.2h1.8v1.8h-1.8zM107.9 442.5h1.8v1.8h-1.8zM100.3 421.8h1.8v1.8h-1.8zM93.8 416.0h1.8v1.8h-1.8zM114.8 428.9h1.8v1.8h-1.8zM78.8 405.4h1.8v1.8h-1.8zM116.1 416.5h1.8v1.8h-1.8zM123.3 438.6h1.8v1.8h-1.8zM119.1 433.0h1.8v1.8h-1.8zM81.2 456.8h1.8v1.8h-1.8zM102.2 455.7h1.8v1.8h-1.8zM77.0 405.8h1.8v1.8h-1.8zM95.7 451.8h1.8v1.8h-1.8zM101.5 416.8h1.8v1.8h-1.8zM93.9 404.9h1.8v1.8h-1.8zM112.9 437.7h1.8v1.8h-1.8zM76.5 394.7h1.8v1.8h-1.8zM125.9 416.5h1.8v1.8h-1.8zM117.3 435.1h1.8v1.8h-1.8zM111.2 412.8h1.8v1.8h-1.8zM127.3 420.7h1.8v1.8h-1.8zM99.7 461.3h1.8v1.8h-1.8zM79.3 453.6h1.8v1.8h-1.8zM99.3 418.0h1.8v1.8h-1.8zM111.1 417.3h1.8v1.8h-1.8zM124.4 426.8h1.8v1.8h-1.8zM96.7 412.7h1.8v1.8h-1.8zM123.3 415.6h1.8v1.8h-1.8zM99.2 460.2h1.8v1.8h-1.8zM94.4 402.2h1.8v1.8h-1.8zM109.3 421.3h1.8v1.8h-1.8zM106.3 405.0h1.8v1.8h-1.8zM81.6 428.6h1.8v1.8h-1.8zM78.3 452.5h1.8v1.8h-1.8zM118.0 450.7h1.8v1.8h-1.8zM106.9 422.0h1.8v1.8h-1.8zM86.9 457.1h1.8v1.8h-1.8zM70.7 396.9h1.8v1.8h-1.8zM85.0 438.2h1.8v1.8h-1.8zM89.2 412.2h1.8v1.8h-1.8zM118.4 402.8h1.8v1.8h-1.8zM113.6 443.3h1.8v1.8h-1.8zM109.8 441.5h1.8v1.8h-1.8zM104.6 416.7h1.8v1.8h-1.8zM117.8 451.6h1.8v1.8h-1.8zM108.1 427.4h1.8v1.8h-1.8zM97.3 462.9h1.8v1.8h-1.8zM116.2 444.9h1.8v1.8h-1.8zM103.1 408.6h1.8v1.8h-1.8zM84.0 439.4h1.8v1.8h-1.8zM125.1 438.0h1.8v1.8h-1.8zM73.2 442.7h1.8v1.8h-1.8zM99.7 459.4h1.8v1.8h-1.8zM80.7 441.7h1.8v1.8h-1.8zM115.5 406.5h1.8v1.8h-1.8zM80.0 426.9h1.8v1.8h-1.8zM125.5 414.0h1.8v1.8h-1.8zM114.2 453.5h1.8v1.8h-1.8zM80.7 449.6h1.8v1.8h-1.8zM109.4 416.9h1.8v1.8h-1.8zM83.8 443.9h1.8v1.8h-1.8zM88.1 404.0h1.8v1.8h-1.8zM111.7 438.7h1.8v1.8h-1.8zM101.7 423.6h1.8v1.8h-1.8zM90.2 377.6h1.8v1.8h-1.8zM114.9 444.3h1.8v1.8h-1.8zM121.8 438.7h1.8v1.8h-1.8zM75.7 438.5h1.8v1.8h-1.8z"/>
<path fill="#fee0b6" d="M37.7 433.0h1.8v1.8h-1.8zM44.8 430.3h1.8v1.8h-1.8zM31.8 449.2h1.8v1.8h-1.8zM31.9 422.2h1.8v1.8h-1.8zM40.2 420.6h1.8v1.8h-1.8zM43.0 430.2h1.8v1.8h-1.8zM67.0 456.4h1.8v1.8h-1.8zM42.0 421.3h1.8v1.8h-1.8zM32.0 432.9h1.8v1.8h-1.8zM37.6 439.3h1.8v1.8h-1.8zM59.6 463.1h1.8v1.8h-1.8zM51.8 445.7h1.8v1.8h-1.8zM64.5 447.0h1.8v1.8h-1.8zM65.9 454.1h1.8v1.8h-1.8zM62.3 441.6h1.8v1.8h-1.8zM59.2 433.6h1.8v1.8h-1.8zM33.5 436.0h1.8v1.8h-1.8zM31.5 421.8h1.8v1.8h-1.8zM46.4 432.0h1.8v1.8h-1.8zM57.2 449.2h1.8v1.8h-1.8zM60.1 426.5h1.8v1.8h-1.8zM36.7 435.9h1.8v1.8h-1.8zM67.2 442.2h1.8v1.8h-1.8zM38.6 441.2h1.8v1.8h-1.8zM64.2 454.2h1.8v1.8h-1.8zM39.1 422.9h1.8v1.8h-1.8zM62.4 423.6h1.8v1.8h-1.8zM48.8 455.6h1.8v1.8h-1.8zM57.8 445.3h1.8v1.8h-1.8zM41.1 424.4h1.8v1.8h-1.8zM59.3 427.2h1.8v1.8h-1.8zM53.4 426.5h1.8v1.8h-1.8zM32.6 447.7h1.8v1.8h-1.8zM46.4 432.4h1.8v1.8h-1.8zM65.5 462.0h1.8v1.8h-1.8zM28.7 434.5h1.8v1.8h-1.8zM50.9 459.9h1.8v1.8h-1.8zM66.6 452.2h1.8v1.8h-1.8zM70.6 454.7h1.8v1.8h-1.8zM34.5 440.0h1.8v1.8h-1.8zM29.0 439.3h1.8v1.8h-1.8zM55.0 444.1h1.8v1.8h-1.8zM24.5 437.1h1.8v1.8h-1.8zM49.7 454.3h1.8v1.8h-1.8zM31.2 441.9h1.8v1.8h-1.8zM65.7 444.1h1.8v1.8h-1.8zM70.2 456.6h1.8v1.8h-1.8zM39.5 439.0h1.8v1.8h-1.8zM59.0 446.3h1.8v1.8h-1.8z"/>
<path fill="#d8daeb" d="M115.6 363.5h1.8v1.8h-1.8zM70.8 355.4h1.8v1.8h-1.8zM91.5 344.2h1.8v1.8h-1.8zM73.2 348.5h1.8v1.8h-1.8zM75.5 357.5h1.8v1.8h-1.8zM82.7 359.2h1.8v1.8h-1.8zM101.6 354.2h1.8v1.8h-1.8zM80.2 352.4h1.8v1.8h-1.8zM75.7 376.3h1.8v1.8h-1.8zM74.1 350.8h1.8v1.8h-1.8zM85.3 369.4h1.8v1.8h-1.8zM87.2 350.2h1.8v1.8h-1.8zM98.5 373.0h1.8v1.8h-1.8zM105.0 354.2h1.8v1.8h-1.8zM84.4 369.5h1.8v1.8h-1.8zM83.6 370.3h1.8v1.8h-1.8zM113.2 361.6h1.8v1.8h-1.8zM110.3 363.1h1.8v1.8h-1.8zM75.8 357.6h1.8v1.8h-1.8zM109.4 353.0h1.8v1.8h-1.8zM110.3 351.0h1.8v1.8h-1.8zM90.2 355.7h1.8v1.8h-1.8zM117.7 364.3h1.8v1.8h-1.8zM78.1 360.4h1.8v1.8h-1.8zM75.5 354.4h1.8v1.8h-1.8zM83.1 370.2h1.8v1.8h-1.8zM109.0 351.3h1.8v1.8h-1.8zM109.6 371.5h1.8v1.8h-1.8zM103.3 341.5h1.8v1.8h-1.8zM78.4 368.7h1.8v1.8h-1.8zM89.5 380.3h1.8v1.8h-1.8zM95.3 355.4h1.8v1.8h-1.8zM89.9 353.5h1.8v1.8h-1.8zM129.2 368.9h1.8v1.8h-1.8zM73.6 363.5h1.8v1.8h-1.8zM116.1 373.3h1.8v1.8h-1.8zM127.3 366.0h1.8v1.8h-1.8zM104.2 347.5h1.8v1.8h-1.8zM78.5 382.5h1.8v1.8h-1.8zM124.9 362.8h1.8v1.8h-1.8zM131.6 369.4h1.8v1.8h-1.8zM112.5 365.9h1.8v1.8h-1.8zM91.2 367.5h1.8v1.8h-1.8zM89.2 381.0h1.8v1.8h-1.8zM90.4 356.6h1.8v1.8h-1.8zM117.0 357.5h1.8v1.8h-1.8z"/>
<path fill="#b2abd2" d="M91.5 371.4h1.8v1.8h-1.8zM125.0 379.1h1.8v1.8h-1.8zM118.0 370.7h1.8v1.8h-1.8zM91.4 389.7h1.8v1.8h-1.8zM106.6 382.2h1.8v1.8h-1.8zM90.7 386.7h1.8v1.8h-1.8zM93.7 396.3h1.8v1.8h-1.8zM101.3 384.8h1.8v1.8h-1.8zM111.8 377.9h1.8v1.8h-1.8zM93.7 384.3h1.8v1.8h-1.8zM102.0 370.0h1.8v1.8h-1.8zM100.8 369.3h1.8v1.8h-1.8zM133.7 396.2h1.8v1.8h-1.8zM116.1 374.5h1.8v1.8h-1.8zM94.5 390.6h1.8v1.8h-1.8zM114.0 373.7h1.8v1.8h-1.8zM88.8 390.3h1.8v1.8h-1.8zM137.0 383.1h1.8v1.8h-1.8zM101.3 393.3h1.8v1.8h-1.8zM138.8 394.1h1.8v1.8h-1.8zM105.7 383.4h1.8v1.8h-1.8zM132.5 395.9h1.8v1.8h-1.8zM97.4 392.7h1.8v1.8h-1.8zM114.9 393.3h1.8v1.8h-1.8zM91.4 376.6h1.8v1.8h-1.8zM96.5 391.0h1.8v1.8h-1.8zM121.4 392.3h1.8v1.8h-1.8zM99.8 399.8h1.8v1.8h-1.8zM92.9 386.5h1.8v1.8h-1.8zM102.7 401.2h1.8v1.8h-1.8zM129.9 390.4h1.8v1.8h-1.8zM120.4 400.2h1.8v1.8h-1.8zM109.3 400.8h1.8v1.8h-1.8zM96.1 389.5h1.8v1.8h-1.8zM134.9 391.3h1.8v1.8h-1.8zM131.4 402.6h1.8v1.8h-1.8zM125.7 396.6h1.8v1.8h-1.8zM140.7 396.3h1.8v1.8h-1.8zM107.3 390.5h1.8v1.8h-1.8zM109.6 398.5h1.8v1.8h-1.8zM95.3 383.9h1.8v1.8h-1.8zM124.3 384.1h1.8v1.8h-1.8zM124.1 382.2h1.8v1.8h-1.8zM114.8 383.2h1.8v1.8h-1.8zM106.8 388.8h1.8v1.8h-1.8zM106.2 387.7h1.8v1.8h-1.8zM133.2 376.3h1.8v1.8h-1.8zM93.0 383.1h1.8v1.8h-1.8zM84.0 375.3h1.8v1.8h-1.8zM135.6 386.3h1.8v1.8h-1.8zM109.6 395.9h1.8v1.8h-1.8zM137.5 399.8h1.8v1.8h-1.8zM92.2 379.8h1.8v1.8h-1.8zM135.6 389.6h1.8v1.8h-1.8zM89.1 372.8h1.8v1.8h-1.8zM97.0 380.4h1.8v1.8h-1.8zM131.0 376.8h1.8v1.8h-1.8zM132.2 380.3h1.8v1.8h-1.8zM99.8 368.3h1.8v1.8h-1.8zM87.8 378.6h1.8v1.8h-1.8zM116.2 382.4h1.8v1.8h-1.8zM109.3 389.9h1.8v1.8h-1.8zM113.7 395.9h1.8v1.8h-1.8zM90.7 397.4h1.8v1.8h-1.8zM120.2 392.8h1.8v1.8h-1.8z"/>
<path fill="#8073ac" d="M71.4 419.2h1.8v1.8h-1.8zM60.2 396.2h1.8v1.8h-1.8zM69.5 399.5h1.8v1.8h-1.8zM68.2 394.6h1.8v1.8h-1.8zM61.4 383.7h1.8v1.8h-1.8zM65.4 402.2h1.8v1.8h-1.8zM69.1 402.6h1.8v1.8h-1.8zM74.0 410.1h1.8v1.8h-1.8zM65.3 405.9h1.8v1.8h-1.8zM69.1 386.3h1.8v1.8h-1.8zM72.2 404.6h1.8v1.8h-1.8zM81.4 415.9h1.8v1.8h-1.8zM76.8 445.1h1.8v1.8h-1.8zM59.0 389.6h1.8v1.8h-1.8zM83.2 416.7h1.8v1.8h-1.8zM71.8 387.2h1.8v1.8h-1.8zM74.2 385.7h1.8v1.8h-1.8zM74.2 393.7h1.8v1.8h-1.8zM60.8 399.2h1.8v1.8h-1.8zM64.7 382.1h1.8v1.8h-1.8zM63.6 393.1h1.8v1.8h-1.8zM64.1 408.6h1.8v1.8h-1.8zM75.2 417.5h1.8v1.8h-1.8zM80.1 422.0h1.8v1.8h-1.8zM65.6 383.6h1.8v1.8h-1.8zM60.5 387.5h1.8v1.8h-1.8zM79.9 417.6h1.8v1.8h-1.8zM74.9 393.3h1.8v1.8h-1.8zM62.2 383.3h1.8v1.8h-1.8zM78.5 408.5h1.8v1.8h-1.8zM80.6 438.3h1.8v1.8h-1.8zM70.7 386.8h1.8v1.8h-1.8zM62.8 409.2h1.8v1.8h-1.8z"/>
<path fill="#b35806" d="M64.4 360.8h1.8v1.8h-1.8zM54.8 364.2h1.8v1.8h-1.8zM55.2 382.4h1.8v1.8h-1.8zM56.0 364.4h1.8v1.8h-1.8zM38.7 368.5h1.8v1.8h-1.8zM47.5 367.1h1.8v1.8h-1.8zM66.7 382.2h1.8v1.8h-1.8zM67.8 349.2h1.8v1.8h-1.8zM53.6 373.0h1.8v1.8h-1.8zM69.7 355.5h1.8v1.8h-1.8zM33.3 376.6h1.8v1.8h-1.8zM77.6 373.1h1.8v1.8h-1.8zM59.4 344.0h1.8v1.8h-1.8zM43.3 350.7h1.8v1.8h-1.8zM57.0 389.0h1.8v1.8h-1.8zM58.2 382.4h1.8v1.8h-1.8zM76.1 364.8h1.8v1.8h-1.8zM52.2 375.5h1.8v1.8h-1.8zM60.9 381.2h1.8v1.8h-1.8zM36.5 401.2h1.8v1.8h-1.8zM57.7 380.5h1.8v1.8h-1.8zM64.3 378.3h1.8v1.8h-1.8zM76.7 358.7h1.8v1.8h-1.8zM47.9 361.2h1.8v1.8h-1.8zM32.1 377.0h1.8v1.8h-1.8zM66.3 381.0h1.8v1.8h-1.8zM43.8 407.3h1.8v1.8h-1.8zM64.6 392.8h1.8v1.8h-1.8zM65.3 388.5h1.8v1.8h-1.8zM60.5 393.1h1.8v1.8h-1.8zM36.1 395.2h1.8v1.8h-1.8zM70.9 372.5h1.8v1.8h-1.8zM39.2 397.7h1.8v1.8h-1.8zM46.0 360.8h1.8v1.8h-1.8zM40.3 391.6h1.8v1.8h-1.8zM34.1 402.6h1.8v1.8h-1.8zM45.8 400.5h1.8v1.8h-1.8zM46.7 357.3h1.8v1.8h-1.8zM51.7 407.9h1.8v1.8h-1.8zM58.1 384.6h1.8v1.8h-1.8zM77.0 367.7h1.8v1.8h-1.8zM51.6 367.0h1.8v1.8h-1.8zM38.0 401.8h1.8v1.8h-1.8zM42.6 398.3h1.8v1.8h-1.8zM62.3 385.6h1.8v1.8h-1.8zM52.6 347.8h1.8v1.8h-1.8zM41.4 417.0h1.8v1.8h-1.8zM30.0 381.5h1.8v1.8h-1.8zM29.9 373.1h1.8v1.8h-1.8zM59.7 414.5h1.8v1.8h-1.8zM36.2 374.7h1.8v1.8h-1.8zM34.4 389.5h1.8v1.8h-1.8zM34.1 389.8h1.8v1.8h-1.8zM32.1 386.8h1.8v1.8h-1.8zM30.3 379.4h1.8v1.8h-1.8zM30.3 374.7h1.8v1.8h-1.8zM30.0 405.5h1.8v1.8h-1.8zM45.3 398.5h1.8v1.8h-1.8zM44.3 387.6h1.8v1.8h-1.8zM66.7 378.0h1.8v1.8h-1.8zM51.8 386.0h1.8v1.8h-1.8zM60.1 399.4h1.8v1.8h-1.8zM28.7 368.3h1.8v1.8h-1.8zM59.8 401.5h1.8v1.8h-1.8zM51.4 370.7h1.8v1.8h-1.8zM46.9 416.9h1.8v1.8h-1.8zM57.0 410.4h1.8v1.8h-1.8zM55.5 367.4h1.8v1.8h-1.8zM38.1 395.7h1.8v1.8h-1.8zM63.1 342.7h1.8v1.8h-1.8zM50.1 406.7h1.8v1.8h-1.8zM37.2 377.5h1.8v1.8h-1.8zM57.9 368.0h1.8v1.8h-1.8zM56.8 403.3h1.8v1.8h-1.8zM52.5 377.3h1.8v1.8h-1.8zM42.4 362.8h1.8v1.8h-1.8zM46.3 399.8h1.8v1.8h-1.8zM54.5 359.4h1.8v1.8h-1.8zM62.0 389.9h1.8v1.8h-1.8zM42.7 377.7h1.8v1.8h-1.8zM27.5 387.4h1.8v1.8h-1.8zM57.3 359.9h1.8v1.8h-1.8zM32.0 409.9h1.8v1.8h-1.8zM71.1 381.6h1.8v1.8h-1.8zM57.7 382.2h1.8v1.8h-1.8zM56.8 348.2h1.8v1.8h-1.8zM71.0 373.6h1.8v1.8h-1.8zM53.5 420.9h1.8v1.8h-1.8zM68.5 384.9h1.8v1.8h-1.8zM50.9 347.6h1.8v1.8h-1.8zM30.1 409.8h1.8v1.8h-1.8zM59.5 416.1h1.8v1.8h-1.8zM65.6 358.4h1.8v1.8h-1.8zM71.0 369.0h1.8v1.8h-1.8zM55.3 409.6h1.8v1.8h-1.8zM35.1 402.8h1.8v1.8h-1.8zM27.8 405.3h1.8v1.8h-1.8zM36.2 404.6h1.8v1.8h-1.8zM68.2 384.3h1.8v1.8h-1.8zM56.1 369.9h1.8v1.8h-1.8zM40.7 368.9h1.8v1.8h-1.8zM54.6 384.8h1.8v1.8h-1.8zM56.8 403.6h1.8v1.8h-1.8z"/>
<path fill="#e08214" d="M151.0 375.4h1.8v1.8h-1.8zM145.6 404.8h1.8v1.8h-1.8zM144.4 402.5h1.8v1.8h-1.8zM157.8 387.2h1.8v1.8h-1.8zM132.5 446.4h1.8v1.8h-1.8zM146.0 442.2h1.8v1.8h-1.8zM132.3 380.0h1.8v1.8h-1.8zM138.3 398.6h1.8v1.8h-1.8zM134.7 372.9h1.8v1.8h-1.8zM128.2 405.6h1.8v1.8h-1.8zM133.0 388.0h1.8v1.8h-1.8zM134.5 411.4h1.8v1.8h-1.8zM126.7 406.3h1.8v1.8h-1.8zM129.6 416.9h1.8v1.8h-1.8zM129.5 425.9h1.8v1.8h-1.8zM137.3 430.7h1.8v1.8h-1.8zM146.3 417.3h1.8v1.8h-1.8zM144.6 382.6h1.8v1.8h-1.8zM143.6 394.6h1.8v1.8h-1.8zM151.3 400.7h1.8v1.8h-1.8zM154.2 420.4h1.8v1.8h-1.8zM148.8 438.4h1.8v1.8h-1.8zM137.4 394.6h1.8v1.8h-1.8zM134.9 379.1h1.8v1.8h-1.8zM141.1 398.5h1.8v1.8h-1.8zM158.8 437.1h1.8v1.8h-1.8zM147.1 424.4h1.8v1.8h-1.8zM155.8 403.8h1.8v1.8h-1.8zM133.9 399.9h1.8v1.8h-1.8zM151.8 379.1h1.8v1.8h-1.8zM144.9 439.2h1.8v1.8h-1.8zM125.3 433.6h1.8v1.8h-1.8zM139.7 399.0h1.8v1.8h-1.8zM138.1 433.4h1.8v1.8h-1.8zM154.3 401.7h1.8v1.8h-1.8zM162.5 428.6h1.8v1.8h-1.8zM141.8 434.8h1.8v1.8h-1.8zM150.5 393.3h1.8v1.8h-1.8zM135.5 447.1h1.8v1.8h-1.8zM127.6 406.8h1.8v1.8h-1.8zM139.9 400.7h1.8v1.8h-1.8zM160.2 433.7h1.8v1.8h-1.8zM141.1 389.5h1.8v1.8h-1.8zM139.9 410.5h1.8v1.8h-1.8zM160.7 390.4h1.8v1.8h-1.8zM131.9 425.3h1.8v1.8h-1.8zM138.5 389.5h1.8v1.8h-1.8zM129.3 377.8h1.8v1.8h-1.8zM144.1 404.5h1.8v1.8h-1.8zM148.4 395.9h1.8v1.8h-1.8zM136.7 395.9h1.8v1.8h-1.8zM129.2 380.4h1.8v1.8h-1.8zM135.0 415.6h1.8v1.8h-1.8zM134.3 394.1h1.8v1.8h-1.8zM129.6 396.9h1.8v1.8h-1.8zM157.1 405.1h1.8v1.8h-1.8zM155.4 403.0h1.8v1.8h-1.8zM129.2 434.5h1.8v1.8h-1.8zM152.7 437.2h1.8v1.8h-1.8zM144.7 395.7h1.8v1.8h-1.8zM133.6 451.5h1.8v1.8h-1.8zM137.8 432.9h1.8v1.8h-1.8zM135.0 431.9h1.8v1.8h-1.8zM136.6 391.1h1.8v1.8h-1.8zM161.2 429.2h1.8v1.8h-1.8zM158.5 420.9h1.8v1.8h-1.8zM147.4 430.5h1.8v1.8h-1.8zM158.2 412.4h1.8v1.8h-1.8zM128.3 403.5h1.8v1.8h-1.8zM130.0 407.5h1.8v1.8h-1.8zM127.7 435.3h1.8v1.8h-1.8zM158.5 408.4h1.8v1.8h-1.8zM147.9 412.1h1.8v1.8h-1.8zM126.7 436.8h1.8v1.8h-1.8zM151.3 420.1h1.8v1.8h-1.8zM133.9 402.5h1.8v1.8h-1.8zM130.2 442.6h1.8v1.8h-1.8zM141.1 374.1h1.8v1.8h-1.8zM117.7 442.5h1.8v1.8h-1.8zM133.2 443.4h1.8v1.8h-1.8zM146.5 397.6h1.8v1.8h-1.8zM140.2 390.9h1.8v1.8h-1.8zM140.6 414.2h1.8v1.8h-1.8zM142.0 429.3h1.8v1.8h-1.8zM142.8 416.6h1.8v1.8h-1.8zM142.2 396.2h1.8v1.8h-1.8zM144.2 398.6h1.8v1.8h-1.8zM145.8 433.1h1.8v1.8h-1.8zM152.3 421.1h1.8v1.8h-1.8zM130.9 395.9h1.8v1.8h-1.8zM164.8 425.3h1.8v1.8h-1.8zM137.8 419.5h1.8v1.8h-1.8zM126.9 417.1h1.8v1.8h-1.8zM147.0 413.0h1.8v1.8h-1.8zM127.7 435.1h1.8v1.8h-1.8zM144.6 396.0h1.8v1.8h-1.8zM137.2 414.6h1.8v1.8h-1.8zM151.9 392.9h1.8v1.8h-1.8z"/>
<path fill="#fdb863" d="M96.6 450.7h1.8v1.8h-1.8zM105.3 412.3h1.8v1.8h-1.8zM74.1 422.0h1.8v1.8h-1.8zM107.2 457.9h1.8v1.8h-1.8zM95.1 450.8h1.8v1.8h-1.8zM92.0 434.6h1.8v1.8h-1.8zM86.5 460.6h1.8v1.8h-1.8zM117.6 427.6h1.8v1.8h-1.8zM102.6 426.2h1.8v1.8h-1.8zM105.2 418.4h1.8v1.8h-1.8zM99.6 414.4h1.8v1.8h-1.8zM108.5 452.1h1.8v1.8h-1.8zM113.6 446.5h1.8v1.8h-1.8zM113.7 460.8h1.8v1.8h-1.8zM103.4 402.7h1.8v1.8h-1.8zM79.5 406.6h1.8v1.8h-1.8zM76.1 420.1h1.8v1.8h-1.8zM70.0 403.9h1.8v1.8h-1.8zM122.9 425.5h1.8v1.8h-1.8zM112.1 415.9h1.8v1.8h-1.8zM87.6 419.8h1.8v1.8h-1.8zM80.4 400.4h1.8v1.8h-1.8zM80.1 426.9h1.8v1.8h-1.8zM98.9 428.4h1.8v1.8h-1.8zM89.3 429.4h1.8v1.8h-1.8zM114.1 407.0h1.8v1.8h-1.8zM95.1 419.5h1.8v1.8h-1.8zM96.9 429.6h1.8v1.8h-1.8zM121.3 426.1h1.8v1.8h-1.8zM109.7 413.7h1.8v1.8h-1.8zM96.9 453.3h1.8v1.8h-1.8zM91.0 449.6h1.8v1.8h-1.8zM124.1 428.1h1.8v1.8h-1.8zM85.9 418.2h1.8v1.8h-1.8zM102.1 421.6h1.8v1.8h-1.8zM112.1 407.2h1.8v1.8h-1.8zM125.6 409.5h1.8v1.8h-1.8zM102.6 384.1h1.8v1.8h-1.8zM98.4 446.1h1.8v1.8h-1.8zM75.8 452.8h1.8v1.8h-1.8zM86.1 447.7h1.8v1.8h-1.8zM90.4 414.9h1.8v1.8h-1.8zM123.4 417.8h1.8v1.8h-1.8zM99.2 428.1h1.8v1.8h-1.8zM110.0 404.2h1.8v1.8h-1.8zM75.1 403.2h1.8v1.8h-1.8zM83.7 403.8h1.8v1.8h-1.8zM114.9 412.9h1.8v1.8h-1.8zM119.1 431.2h1.8v1.8h-1.8zM91.3 463.8h1.8v1.8h-1.8zM73.2 407.8h1.8v1.8h-1.8zM112.9 410.3h1.8v1.8h-1.8zM102.5 437.5h1.8v1.8h-1.8zM78.9 426.2h1.8v1.8h-1.8zM97.8 429.8h1.8v1.8h-1.8zM118.3 451.2h1.8v1.8h-1.8zM82.0 397.6h1.8v1.8h-1.8zM73.2 403.5h1.8v1.8h-1.8zM115.5 426.4h1.8v1.8h-1.8zM118.8 453.9h1.8v1.8h-1.8zM93.6 416.5h1.8v1.8h-1.8zM118.6 435.0h1.8v1.8h-1.8zM84.0 422.0h1.8v1.8h-1.8zM124.0 436.7h1.8v1.8h-1.8zM90.9 461.1h1.8v1.8h-1.8zM101.4 407.4h1.8v1.8h-1.8zM76.3 398.6h1.8v1.8h-1.8zM96.5 409.5h1.8v1.8h-1.8zM113.6 454.7h1.8v1.8h-1.8zM90.6 422.3h1.8v1.8h-1.8zM67.7 431.0h1.8v1.8h-1.8zM103.2 385.9h1.8v1.8h-1.8zM110.2 443.7h1.8v1.8h-1.8zM96.4 416.6h1.8v1.8h-1.8zM93.8 432.0h1.8v1.8h-1.8zM71.5 422.3h1.8v1.8h-1.8zM123.3 439.9h1.8v1.8h-1.8zM110.8 403.3h1.8v1.8h-1.8zM99.5 449.7h1.8v1.8h-1.8zM100.3 439.1h1.8v1.8h-1.8zM84.6 451.6h1.8v1.8h-1.8zM71.8 418.2h1.8v1.8h-1.8zM78.0 432.8h1.8v1.8h-1.8zM94.4 390.2h1.8v1.8h-1.8zM106.8 422.2h1.8v1.8h-1.8zM87.2 458.2h1.8v1.8h-1.8z"/>
<path fill="#fee0b6" d="M60.2 439.4h1.8v1.8h-1.8zM65.0 447.6h1.8v1.8h-1.8zM55.1 427.1h1.8v1.8h-1.8zM41.9 448.4h1.8v1.8h-1.8zM48.1 452.8h1.8v1.8h-1.8zM36.0 450.8h1.8v1.8h-1.8zM61.0 448.3h1.8v1.8h-1.8zM27.5 429.5h1.8v1.8h-1.8zM41.3 455.4h1.8v1.8h-1.8zM34.8 443.6h1.8v1.8h-1.8zM42.4 428.8h1.8v1.8h-1.8zM45.3 450.4h1.8v1.8h-1.8zM61.3 442.7h1.8v1.8h-1.8zM36.6 445.2h1.8v1.8h-1.8zM61.0 437.0h1.8v1.8h-1.8zM61.4 439.1h1.8v1.8h-1.8zM47.5 424.0h1.8v1.8h-1.8zM57.7 448.5h1.8v1.8h-1.8zM49.6 454.5h1.8v1.8h-1.8zM52.1 450.4h1.8v1.8h-1.8zM65.3 433.5h1.8v1.8h-1.8zM54.2 451.2h1.8v1.8h-1.8zM26.0 429.2h1.8v1.8h-1.8zM37.7 460.3h1.8v1.8h-1.8zM48.8 453.5h1.8v1.8h-1.8zM37.6 444.1h1.8v1.8h-1.8zM41.6 423.5h1.8v1.8h-1.8zM55.2 443.5h1.8v1.8h-1.8zM26.7 443.0h1.8v1.8h-1.8zM47.0 431.8h1.8v1.8h-1.8zM36.0 452.1h1.8v1.8h-1.8zM52.4 435.1h1.8v1.8h-1.8zM66.8 442.3h1.8v1.8h-1.8zM64.8 444.3h1.8v1.8h-1.8zM38.4 433.9h1.8v1.8h-1.8zM47.0 453.9h1.8v1.8h-1.8zM56.8 465.4h1.8v1.8h-1.8zM29.2 442.8h1.8v1.8h-1.8zM32.4 430.1h1.8v1.8h-1.8zM64.4 429.8h1.8v1.8h-1.8zM46.6 425.8h1.8v1.8h-1.8zM51.9 438.4h1.8v1.8h-1.8zM63.3 438.1h1.8v1.8h-1.8zM59.7 459.1h1.8v1.8h-1.8zM61.2 442.9h1.8v1.8h-1.8zM66.2 433.9h1.8v1.8h-1.8zM35.7 425.2h1.8v1.8h-1.8zM33.2 453.0h1.8v1.8h-1.8zM68.6 461.1h1.8v1.8h-1.8zM45.3 460.2h1.8v1.8h-1.8zM64.1 465.1h1.8v1.8h-1.8zM56.0 435.6h1.8v1.8h-1.8zM33.6 428.9h1.8v1.8h-1.8zM32.5 450.8h1.8v1.8h-1.8z"/>
<path fill="#d8daeb" d="M100.4 339.7h1.8v1.8h-1.8zM80.0 370.4h1.8v1.8h-1.8zM123.9 361.5h1.8v1.8h-1.8zM93.8 339.3h1.8v1.8h-1.8zM120.3 353.3h1.8v1.8h-1.8zM113.6 356.2h1.8v1.8h-1.8zM115.6 369.2h1.8v1.8h-1.8zM71.8 363.9h1.8v1.8h-1.8zM117.8 347.7h1.8v1.8h-1.8zM89.6 341.2h1.8v1.8h-1.8zM95.7 342.9h1.8v1.8h-1.8zM84.8 349.0h1.8v1.8h-1.8zM119.0 374.0h1.8v1.8h-1.8zM72.6 354.6h1.8v1.8h-1.8zM71.3 352.4h1.8v1.8h-1.8zM84.3 350.7h1.8v1.8h-1.8zM117.4 352.6h1.8v1.8h-1.8zM76.8 376.0h1.8v1.8h-1.8zM85.1 356.6h1.8v1.8h-1.8zM71.8 347.8h1.8v1.8h-1.8zM90.6 347.7h1.8v1.8h-1.8zM85.2 351.5h1.8v1.8h-1.8zM113.5 347.7h1.8v1.8h-1.8zM74.3 346.2h1.8v1.8h-1.8zM103.5 341.7h1.8v1.8h-1.8zM86.9 365.1h1.8v1.8h-1.8zM126.6 365.9h1.8v1.8h-1.8zM88.2 378.2h1.8v1.8h-1.8zM89.0 378.0h1.8v1.8h-1.8zM104.9 367.8h1.8v1.8h-1.8zM92.5 366.3h1.8v1.8h-1.8zM113.7 365.0h1.8v1.8h-1.8zM78.2 357.8h1.8v1.8h-1.8zM121.7 372.1h1.8v1.8h-1.8zM95.9 364.4h1.8v1.8h-1.8zM114.6 368.4h1.8v1.8h-1.8zM115.7 354.3h1.8v1.8h-1.8zM86.2 347.0h1.8v1.8h-1.8zM102.7 374.4h1.8v1.8h-1.8zM101.4 361.5h1.8v1.8h-1.8zM110.4 357.8h1.8v1.8h-1.8zM102.1 352.1h1.8v1.8h-1.8zM100.6 366.2h1.8v1.8h-1.8zM118.0 359.6h1.8v1.8h-1.8zM98.9 343.6h1.8v1.8h-1.8zM83.9 354.4h1.8v1.8h-1.8zM104.0 341.7h1.8v1.8h-1.8zM95.9 355.3h1.8v1.8h-1.8zM133.6 362.2h1.8v1.8h-1.8zM135.5 368.1h1.8v1.8h-1.8zM92.0 362.1h1.8v1.8h-1.8zM129.5 364.3h1.8v1.8h-1.8zM111.4 373.3h1.8v1.8h-1.8zM111.3 361.6h1.8v1.8h-1.8zM102.1 359.9h1.8v1.8h-1.8zM73.8 374.4h1.8v1.8h-1.8zM94.6 367.2h1.8v1.8h-1.8zM90.9 356.2h1.8v1.8h-1.8z"/>
<path fill="#b2abd2" d="M101.9 393.9h1.8v1.8h-1.8zM117.3 398.9h1.8v1.8h-1.8zM118.0 394.6h1.8v1.8h-1.8zM123.2 388.6h1.8v1.8h-1.8zM106.1 399.8h1.8v1.8h-1.8zM108.5 379.5h1.8v1.8h-1.8zM96.1 370.4h1.8v1.8h-1.8zM133.6 398.6h1.8v1.8h-1.8zM107.6 385.5h1.8v1.8h-1.8zM101.3 398.1h1.8v1.8h-1.8zM127.3 405.2h1.8v1.8h-1.8zM96.1 392.8h1.8v1.8h-1.8zM89.2 392.7h1.8v1.8h-1.8zM98.6 386.3h1.8v1.8h-1.8zM120.5 397.3h1.8v1.8h-1.8zM91.9 391.6h1.8v1.8h-1.8zM127.6 389.6h1.8v1.8h-1.8zM134.5 401.1h1.8v1.8h-1.8zM137.5 394.2h1.8v1.8h-1.8zM111.2 385.5h1.8v1.8h-1.8zM115.6 383.9h1.8v1.8h-1.8zM99.4 390.6h1.8v1.8h-1.8zM127.7 393.8h1.8v1.8h-1.8zM96.9 386.4h1.8v1.8h-1.8zM125.6 403.8h1.8v1.8h-1.8zM115.6 390.6h1.8v1.8h-1.8zM129.1 388.2h1.8v1.8h-1.8zM138.5 382.5h1.8v1.8h-1.8zM119.9 397.5h1.8v1.8h-1.8zM135.9 384.1h1.8v1.8h-1.8zM102.0 370.5h1.8v1.8h-1.8zM84.5 371.2h1.8v1.8h-1.8zM103.9 378.7h1.8v1.8h-1.8zM133.9 374.2h1.8v1.8h-1.8zM90.0 376.4h1.8v1.8h-1.8zM109.7 385.4h1.8v1.8h-1.8zM93.2 370.1h1.8v1.8h-1.8zM110.4 376.1h1.8v1.8h-1.8zM97.7 369.9h1.8v1.8h-1.8zM100.4 400.4h1.8v1.8h-1.8zM111.5 376.9h1.8v1.8h-1.8zM133.4 382.8h1.8v1.8h-1.8zM123.1 398.4h1.8v1.8h-1.8zM109.6 402.4h1.8v1.8h-1.8zM128.8 404.1h1.8v1.8h-1.8zM103.5 387.2h1.8v1.8h-1.8zM89.6 381.4h1.8v1.8h-1.8zM99.0 374.4h1.8v1.8h-1.8zM112.8 384.7h1.8v1.8h-1.8zM95.7 395.5h1.8v1.8h-1.8zM111.4 395.4h1.8v1.8h-1.8zM89.8 386.6h1.8v1.8h-1.8zM128.4 405.4h1.8v1.8h-1.8zM136.1 395.0h1.8v1.8h-1.8zM133.8 397.0h1.8v1.8h-1.8zM130.1 404.3h1.8v1.8h-1.8z"/>
<path fill="#8073ac" d="M73.1 404.1h1.8v1.8h-1.8zM69.3 384.8h1.8v1.8h-1.8zM76.1 387.5h1.8v1.8h-1.8zM68.5 397.9h1.8v1.8h-1.8zM74.0 391.8h1.8v1.8h-1.8zM68.6 399.8h1.8v1.8h-1.8zM74.8 403.6h1.8v1.8h-1.8zM72.2 387.5h1.8v1.8h-1.8zM72.4 405.1h1.8v1.8h-1.8zM64.3 401.5h1.8v1.8h-1.8zM77.4 399.6h1.8v1.8h-1.8zM72.3 418.7h1.8v1.8h-1.8zM78.5 409.0h1.8v1.8h-1.8zM73.7 419.2h1.8v1.8h-1.8zM62.3 392.8h1.8v1.8h-1.8zM61.4 383.1h1.8v1.8h-1.8zM59.5 393.1h1.8v1.8h-1.8zM71.1 406.2h1.8v1.8h-1.8zM72.2 384.8h1.8v1.8h-1.8zM77.3 423.6h1.8v1.8h-1.8zM72.5 454.9h1.8v1.8h-1.8zM68.2 412.8h1.8v1.8h-1.8zM68.6 403.2h1.8v1.8h-1.8zM58.7 386.6h1.8v1.8h-1.8zM75.2 410.2h1.8v1.8h-1.8zM75.1 424.7h1.8v1.8h-1.8zM73.2 422.4h1.8v1.8h-1.8zM71.5 403.3h1.8v1.8h-1.8zM72.8 396.3h1.8v1.8h-1.8zM58.3 398.2h1.8v1.8h-1.8zM68.9 413.7h1.8v1.8h-1.8zM60.9 397.2h1.8v1.8h-1.8zM75.1 392.9h1.8v1.8h-1.8zM80.4 397.1h1.8v1.8h-1.8zM76.9 419.5h1.8v1.8h-1.8zM64.7 419.6h1.8v1.8h-1.8zM67.0 420.8h1.8v1.8h-1.8zM78.2 440.5h1.8v1.8h-1.8zM73.8 420.1h1.8v1.8h-1.8zM71.7 397.5h1.8v1.8h-1.8zM59.3 402.8h1.8v1.8h-1.8zM68.3 388.3h1.8v1.8h-1.8zM67.3 401.9h1.8v1.8h-1.8zM62.5 415.8h1.8v1.8h-1.8zM72.3 391.9h1.8v1.8h-1.8z"/>
<path fill="#b35806" d="M65.2 344.0h1.8v1.8h-1.8zM26.8 400.9h1.8v1.8h-1.8zM29.0 367.3h1.8v1.8h-1.8zM62.9 348.8h1.8v1.8h-1.8zM44.6 389.2h1.8v1.8h-1.8zM30.3 400.9h1.8v1.8h-1.8zM38.2 404.8h1.8v1.8h-1.8zM58.5 363.1h1.8v1.8h-1.8zM44.9 349.9h1.8v1.8h-1.8zM61.9 350.1h1.8v1.8h-1.8zM36.9 409.4h1.8v1.8h-1.8zM52.2 403.7h1.8v1.8h-1.8zM46.9 388.7h1.8v1.8h-1.8zM51.8 373.9h1.8v1.8h-1.8zM47.2 391.1h1.8v1.8h-1.8zM34.1 407.2h1.8v1.8h-1.8zM50.1 385.2h1.8v1.8h-1.8zM67.7 367.1h1.8v1.8h-1.8zM55.1 416.3h1.8v1.8h-1.8zM50.1 357.0h1.8v1.8h-1.8zM64.0 351.3h1.8v1.8h-1.8zM67.1 351.9h1.8v1.8h-1.8zM44.2 385.8h1.8v1.8h-1.8zM47.8 414.4h1.8v1.8h-1.8zM47.2 359.9h1.8v1.8h-1.8zM50.0 354.4h1.8v1.8h-1.8zM30.3 374.1h1.8v1.8h-1.8zM52.2 380.6h1.8v1.8h-1.8zM39.4 358.3h1.8v1.8h-1.8zM62.4 376.3h1.8v1.8h-1.8zM28.9 402.1h1.8v1.8h-1.8zM37.3 376.6h1.8v1.8h-1.8zM60.1 395.0h1.8v1.8h-1.8zM59.7 375.1h1.8v1.8h-1.8zM44.1 360.7h1.8v1.8h-1.8zM67.4 365.2h1.8v1.8h-1.8zM37.6 406.5h1.8v1.8h-1.8zM51.0 412.2h1.8v1.8h-1.8zM45.1 359.4h1.8v1.8h-1.8zM60.3 345.8h1.8v1.8h-1.8zM64.6 349.4h1.8v1.8h-1.8zM31.5 381.9h1.8v1.8h-1.8zM64.5 382.1h1.8v1.8h-1.8zM54.0 398.4h1.8v1.8h-1.8zM70.2 368.6h1.8v1.8h-1.8zM42.2 401.3h1.8v1.8h-1.8zM39.1 353.0h1.8v1.8h-1.8zM55.2 365.8h1.8v1.8h-1.8zM45.6 401.5h1.8v1.8h-1.8zM33.9 378.1h1.8v1.8h-1.8zM61.2 344.7h1.8v1.8h-1.8zM56.4 359.4h1.8v1.8h-1.8zM50.9 420.0h1.8v1.8h-1.8zM30.0 407.5h1.8v1.8h-1.8zM44.2 381.0h1.8v1.8h-1.8zM27.7 388.8h1.8v1.8h-1.8zM30.8 390.8h1.8v1.8h-1.8zM70.5 381.8h1.8v1.8h-1.8zM62.6 364.7h1.8v1.8h-1.8zM44.2 351.3h1.8v1.8h-1.8zM57.9 389.8h1.8v1.8h-1.8zM58.7 381.5h1.8v1.8h-1.8zM54.0 347.4h1.8v1.8h-1.8zM36.0 390.9h1.8v1.8h-1.8zM57.3 386.4h1.8v1.8h-1.8zM37.5 380.5h1.8v1.8h-1.8zM55.1 383.3h1.8v1.8h-1.8zM60.6 408.5h1.8v1.8h-1.8zM41.7 396.4h1.8v1.8h-1.8zM61.3 364.2h1.8v1.8h-1.8zM60.4 391.3h1.8v1.8h-1.8zM32.6 386.5h1.8v1.8h-1.8zM40.1 399.7h1.8v1.8h-1.8zM64.5 363.5h1.8v1.8h-1.8zM45.2 406.8h1.8v1.8h-1.8zM70.5 340.6h1.8v1.8h-1.8zM48.2 352.4h1.8v1.8h-1.8zM39.8 360.9h1.8v1.8h-1.8zM69.7 378.3h1.8v1.8h-1.8zM63.8 341.4h1.8v1.8h-1.8zM62.8 357.2h1.8v1.8h-1.8zM25.1 388.4h1.8v1.8h-1.8zM52.3 386.9h1.8v1.8h-1.8zM69.9 344.5h1.8v1.8h-1.8zM34.9 409.1h1.8v1.8h-1.8zM62.1 362.5h1.8v1.8h-1.8zM49.4 373.1h1.8v1.8h-1.8zM35.4 408.0h1.8v1.8h-1.8zM73.8 352.6h1.8v1.8h-1.8zM58.0 359.0h1.8v1.8h-1.8zM49.0 348.4h1.8v1.8h-1.8zM32.5 371.3h1.8v1.8h-1.8zM58.9 403.5h1.8v1.8h-1.8zM50.6 410.4h1.8v1.8h-1.8zM65.9 355.6h1.8v1.8h-1.8zM31.5 397.9h1.8v1.8h-1.8zM54.7 348.0h1.8v1.8h-1.8zM55.9 411.2h1.8v1.8h-1.8zM74.8 372.2h1.8v1.8h-1.8zM42.8 385.7h1.8v1.8h-1.8zM52.2 391.6h1.8v1.8h-1.8zM29.6 374.8h1.8v1.8h-1.8zM31.2 380.3h1.8v1.8h-1.8zM46.1 397.2h1.8v1.8h-1.8zM54.7 387.2h1.8v1.8h-1.8zM44.8 367.2h1.8v1.8h-1.8zM75.8 374.8h1.8v1.8h-1.8zM58.8 394.9h1.8v1.8h-1.8z"/>
<path fill="#e08214" d="M140.6 428.9h1.8v1.8h-1.8zM129.1 396.2h1.8v1.8h-1.8zM152.6 378.2h1.8v1.8h-1.8zM135.8 381.8h1.8v1.8h-1.8zM163.6 409.2h1.8v1.8h-1.8zM151.6 444.7h1.8v1.8h-1.8zM164.5 412.1h1.8v1.8h-1.8zM162.2 413.0h1.8v1.8h-1.8zM160.3 417.3h1.8v1.8h-1.8zM121.7 379.9h1.8v1.8h-1.8zM128.1 416.7h1.8v1.8h-1.8zM132.9 398.2h1.8v1.8h-1.8zM143.9 392.0h1.8v1.8h-1.8zM126.8 415.2h1.8v1.8h-1.8zM136.5 447.0h1.8v1.8h-1.8zM156.8 393.6h1.8v1.8h-1.8zM148.0 439.0h1.8v1.8h-1.8zM131.7 438.8h1.8v1.8h-1.8zM160.6 406.4h1.8v1.8h-1.8zM146.6 423.7h1.8v1.8h-1.8zM138.3 371.9h1.8v1.8h-1.8zM155.0 388.6h1.8v1.8h-1.8zM147.6 403.0h1.8v1.8h-1.8zM155.4 427.3h1.8v1.8h-1.8zM144.9 378.6h1.8v1.8h-1.8zM135.4 447.8h1.8v1.8h-1.8zM161.0 392.1h1.8v1.8h-1.8zM133.7 419.5h1.8v1.8h-1.8zM138.4 435.6h1.8v1.8h-1.8zM162.1 425.4h1.8v1.8h-1.8zM130.2 398.0h1.8v1.8h-1.8zM147.1 424.0h1.8v1.8h-1.8zM141.7 389.9h1.8v1.8h-1.8zM155.3 410.0h1.8v1.8h-1.8zM128.5 422.6h1.8v1.8h-1.8zM128.5 422.2h1.8v1.8h-1.8zM137.2 389.5h1.8v1.8h-1.8zM137.0 443.5h1.8v1.8h-1.8zM124.9 425.6h1.8v1.8h-1.8zM136.9 418.2h1.8v1.8h-1.8zM148.2 402.9h1.8v1.8h-1.8zM153.0 420.6h1.8v1.8h-1.8zM163.9 424.5h1.8v1.8h-1.8zM150.3 444.6h1.8v1.8h-1.8zM166.3 418.3h1.8v1.8h-1.8zM135.3 421.4h1.8v1.8h-1.8zM118.3 436.4h1.8v1.8h-1.8zM162.9 393.3h1.8v1.8h-1.8zM157.2 398.1h1.8v1.8h-1.8zM139.2 412.3h1.8v1.8h-1.8zM162.2 431.5h1.8v1.8h-1.8zM145.5 431.2h1.8v1.8h-1.8zM124.4 428.1h1.8v1.8h-1.8zM135.7 424.9h1.8v1.8h-1.8zM143.2 426.7h1.8v1.8h-1.8zM133.6 405.0h1.8v1.8h-1.8zM141.0 445.5h1.8v1.8h-1.8zM133.1 382.2h1.8v1.8h-1.8zM130.0 387.5h1.8v1.8h-1.8zM136.6 427.7h1.8v1.8h-1.8zM126.1 422.6h1.8v1.8h-1.8zM165.5 408.2h1.8v1.8h-1.8zM138.4 397.9h1.8v1.8h-1.8zM159.7 420.0h1.8v1.8h-1.8zM151.1 428.5h1.8v1.8h-1.8zM133.9 426.4h1.8v1.8h-1.8zM135.2 392.3h1.8v1.8h-1.8zM150.3 408.1h1.8v1.8h-1.8zM162.4 396.7h1.8v1.8h-1.8zM149.4 417.2h1.8v1.8h-1.8zM132.6 385.1h1.8v1.8h-1.8zM148.5 426.8h1.8v1.8h-1.8zM158.3 436.1h1.8v1.8h-1.8zM157.4 414.6h1.8v1.8h-1.8zM145.9 437.6h1.8v1.8h-1.8zM131.0 431.1h1.8v1.8h-1.8zM137.5 390.3h1.8v1.8h-1.8zM130.2 406.8h1.8v1.8h-1.8zM164.1 404.4h1.8v1.8h-1.8zM136.2 404.0h1.8v1.8h-1.8zM142.2 429.7h1.8v1.8h-1.8zM134.7 443.6h1.8v1.8h-1.8zM149.6 404.5h1.8v1.8h-1.8zM156.7 382.8h1.8v1.8h-1.8zM162.9 401.8h1.8v1.8h-1.8zM158.3 428.2h1.8v1.8h-1.8zM153.1 408.0h1.8v1.8h-1.8zM154.4 419.5h1.8v1.8h-1.8zM150.0 430.9h1.8v1.8h-1.8zM151.9 399.0h1.8v1.8h-1.8zM134.2 424.7h1.8v1.8h-1.8zM143.5 379.2h1.8v1.8h-1.8zM152.4 444.2h1.8v1.8h-1.8zM145.4 416.6h1.8v1.8h-1.8z"/>
<path fill="#fdb863" d="M112.0 448.6h1.8v1.8h-1.8zM123.2 448.4h1.8v1.8h-1.8zM87.5 401.7h1.8v1.8h-1.8zM106.5 454.2h1.8v1.8h-1.8zM74.4 405.1h1.8v1.8h-1.8zM94.7 386.1h1.8v1.8h-1.8zM115.5 452.7h1.8v1.8h-1.8zM101.1 455.6h1.8v1.8h-1.8zM116.6 405.0h1.8v1.8h-1.8zM104.8 400.5h1.8v1.8h-1.8zM88.9 422.9h1.8v1.8h-1.8zM88.2 408.1h1.8v1.8h-1.8zM117.6 432.6h1.8v1.8h-1.8zM101.8 456.1h1.8v1.8h-1.8zM85.8 453.7h1.8v1.8h-1.8zM104.8 447.3h1.8v1.8h-1.8zM124.7 408.1h1.8v1.8h-1.8zM78.3 409.0h1.8v1.8h-1.8zM85.7 421.7h1.8v1.8h-1.8zM119.6 402.8h1.8v1.8h-1.8zM75.1 441.6h1.8v1.8h-1.8zM84.5 438.3h1.8v1.8h-1.8zM90.2 424.9h1.8v1.8h-1.8zM72.1 417.9h1.8v1.8h-1.8zM88.8 429.1h1.8v1.8h-1.8zM117.3 404.4h1.8v1.8h-1.8zM80.4 414.5h1.8v1.8h-1.8zM100.3 453.6h1.8v1.8h-1.8zM100.3 406.4h1.8v1.8h-1.8zM88.7 455.0h1.8v1.8h-1.8zM115.3 433.2h1.8v1.8h-1.8zM82.9 418.6h1.8v1.8h-1.8zM117.8 449.8h1.8v1.8h-1.8zM92.6 377.5h1.8v1.8h-1.8zM80.3 409.5h1.8v1.8h-1.8zM96.6 427.4h1.8v1.8h-1.8zM75.2 438.1h1.8v1.8h-1.8zM93.1 445.1h1.8v1.8h-1.8zM97.5 385.5h1.8v1.8h-1.8zM109.7 446.1h1.8v1.8h-1.8zM95.7 443.7h1.8v1.8h-1.8zM101.7 448.7h1.8v1.8h-1.8zM125.7 404.7h1.8v1.8h-1.8zM81.2 430.5h1.8v1.8h-1.8zM112.8 455.4h1.8v1.8h-1.8zM119.5 439.8h1.8v1.8h-1.8zM113.2 459.9h1.8v1.8h-1.8zM121.2 409.0h1.8v1.8h-1.8zM89.9 414.7h1.8v1.8h-1.8zM118.4 432.7h1.8v1.8h-1.8zM122.0 424.2h1.8v1.8h-1.8zM94.7 449.3h1.8v1.8h-1.8zM92.2 408.0h1.8v1.8h-1.8zM97.0 444.7h1.8v1.8h-1.8zM125.2 443.9h1.8v1.8h-1.8zM87.2 417.2h1.8v1.8h-1.8zM71.9 413.4h1.8v1.8h-1.8zM83.6 436.1h1.8v1.8h-1.8zM72.4 417.0h1.8v1.8h-1.8zM106.9 427.8h1.8v1.8h-1.8zM108.6 403.4h1.8v1.8h-1.8zM79.3 420.7h1.8v1.8h-1.8zM121.6 416.9h1.8v1.8h-1.8zM84.5 443.2h1.8v1.8h-1.8zM102.6 456.2h1.8v1.8h-1.8zM121.7 457.3h1.8v1.8h-1.8zM126.8 449.3h1.8v1.8h-1.8zM114.7 418.3h1.8v1.8h-1.8zM120.3 413.4h1.8v1.8h-1.8zM92.3 420.0h1.8v1.8h-1.8zM104.0 419.5h1.8v1.8h-1.8zM93.1 417.7h1.8v1.8h-1.8zM91.1 382.6h1.8v1.8h-1.8zM102.9 390.4h1.8v1.8h-1.8zM112.2 444.5h1.8v1.8h-1.8zM94.2 452.5h1.8v1.8h-1.8zM113.7 419.2h1.8v1.8h-1.8zM110.4 449.3h1.8v1.8h-1.8zM108.4 415.9h1.8v1.8h-1.8zM110.9 421.4h1.8v1.8h-1.8zM96.7 423.6h1.8v1.8h-1.8zM118.2 426.7h1.8v1.8h-1.8zM83.0 395.3h1.8v1.8h-1.8zM91.0 418.9h1.8v1.8h-1.8zM110.3 405.1h1.8v1.8h-1.8zM105.9 412.0h1.8v1.8h-1.8zM94.9 406.2h1.8v1.8h-1.8zM73.0 396.7h1.8v1.8h-1.8zM90.0 426.4h1.8v1.8h-1.8zM108.0 410.1h1.8v1.8h-1.8zM110.6 452.3h1.8v1.8h-1.8zM100.0 405.3h1.8v1.8h-1.8zM79.0 426.2h1.8v1.8h-1.8zM121.1 415.3h1.8v1.8h-1.8zM118.3 454.6h1.8v1.8h-1.8zM79.3 404.4h1.8v1.8h-1.8zM86.1 415.0h1.8v1.8h-1.8zM75.7 404.4h1.8v1.8h-1.8zM117.4 403.9h1.8v1.8h-1.8zM95.9 455.9h1.8v1.8h-1.8zM85.2 421.8h1.8v1.8h-1.8zM111.5 446.9h1.8v1.8h-1.8zM121.7 427.8h1.8v1.8h-1.8zM125.1 441.1h1.8v1.8h-1.8zM97.9 390.3h1.8v1.8h-1.8zM110.2 421.2h1.8v1.8h-1.8zM93.9 457.5h1.8v1.8h-1.8zM95.8 430.3h1.8v1.8h-1.8zM92.4 461.0h1.8v1.8h-1.8zM94.8 409.6h1.8v1.8h-1.8zM78.2 442.0h1.8v1.8h-1.8zM107.3 452.9h1.8v1.8h-1.8z"/>
<path fill="#fee0b6" d="M67.1 458.2h1.8v1.8h-1.8zM44.7 449.3h1.8v1.8h-1.8zM57.0 432.0h1.8v1.8h-1.8zM62.1 437.8h1.8v1.8h-1.8zM50.5 440.2h1.8v1.8h-1.8zM55.1 446.5h1.8v1.8h-1.8zM36.3 421.1h1.8v1.8h-1.8zM45.2 452.3h1.8v1.8h-1.8zM50.6 464.9h1.8v1.8h-1.8zM68.3 434.2h1.8v1.8h-1.8zM61.1 439.5h1.8v1.8h-1.8zM58.3 452.3h1.8v1.8h-1.8zM49.1 426.9h1.8v1.8h-1.8zM68.3 448.6h1.8v1.8h-1.8zM55.5 453.6h1.8v1.8h-1.8zM24.8 437.3h1.8v1.8h-1.8zM31.7 441.1h1.8v1.8h-1.8zM31.3 428.0h1.8v1.8h-1.8zM33.5 438.5h1.8v1.8h-1.8zM45.4 429.9h1.8v1.8h-1.8zM39.0 455.0h1.8v1.8h-1.8zM27.2 430.2h1.8v1.8h-1.8zM41.5 434.5h1.8v1.8h-1.8zM55.3 449.7h1.8v1.8h-1.8zM61.9 433.4h1.8v1.8h-1.8zM59.3 432.4h1.8v1.8h-1.8zM40.5 418.9h1.8v1.8h-1.8zM69.3 439.5h1.8v1.8h-1.8zM52.7 456.1h1.8v1.8h-1.8zM64.0 445.2h1.8v1.8h-1.8zM53.0 446.9h1.8v1.8h-1.8zM62.2 439.8h1.8v1.8h-1.8zM38.2 441.2h1.8v1.8h-1.8zM59.8 451.7h1.8v1.8h-1.8zM48.8 461.9h1.8v1.8h-1.8zM26.1 442.4h1.8v1.8h-1.8zM43.4 430.5h1.8v1.8h-1.8zM64.2 456.9h1.8v1.8h-1.8zM30.3 421.2h1.8v1.8h-1.8zM44.7 442.0h1.8v1.8h-1.8zM27.5 417.2h1.8v1.8h-1.8zM49.2 455.9h1.8v1.8h-1.8zM57.1 427.6h1.8v1.8h-1.8zM44.7 420.5h1.8v1.8h-1.8zM25.4 432.6h1.8v1.8h-1.8zM55.1 443.4h1.8v1.8h-1.8zM66.3 442.8h1.8v1.8h-1.8zM49.5 458.0h1.8v1.8h-1.8zM32.4 416.1h1.8v1.8h-1.8zM61.8 432.9h1.8v1.8h-1.8zM43.5 428.1h1.8v1.8h-1.8zM45.9 424.8h1.8v1.8h-1.8zM58.0 447.8h1.8v1.8h-1.8zM63.8 458.2h1.8v1.8h-1.8zM51.9 461.2h1.8v1.8h-1.8z"/>
<path fill="#d8daeb" d="M109.6 360.0h1.8v1.8h-1.8zM132.4 376.0h1.8v1.8h-1.8zM115.4 371.4h1.8v1.8h-1.8zM118.7 351.8h1.8v1.8h-1.8zM81.6 375.7h1.8v1.8h-1.8zM80.1 372.6h1.8v1.8h-1.8zM89.3 376.3h1.8v1.8h-1.8zM116.9 361.2h1.8v1.8h-1.8zM102.7 353.5h1.8v1.8h-1.8zM89.4 351.6h1.8v1.8h-1.8zM127.2 369.4h1.8v1.8h-1.8zM103.2 364.6h1.8v1.8h-1.8zM124.2 372.8h1.8v1.8h-1.8zM80.2 347.0h1.8v1.8h-1.8zM92.1 360.4h1.8v1.8h-1.8zM73.8 379.7h1.8v1.8h-1.8zM108.3 349.3h1.8v1.8h-1.8zM74.2 345.9h1.8v1.8h-1.8zM104.4 369.1h1.8v1.8h-1.8zM95.9 341.8h1.8v1.8h-1.8zM71.1 359.6h1.8v1.8h-1.8zM102.0 349.8h1.8v1.8h-1.8zM105.3 364.8h1.8v1.8h-1.8zM104.1 355.0h1.8v1.8h-1.8zM87.8 352.1h1.8v1.8h-1.8zM110.7 355.2h1.8v1.8h-1.8zM74.0 352.7h1.8v1.8h-1.8zM82.1 374.6h1.8v1.8h-1.8zM111.0 351.9h1.8v1.8h-1.8zM102.8 371.2h1.8v1.8h-1.8zM112.8 372.0h1.8v1.8h-1.8zM131.4 375.8h1.8v1.8h-1.8zM113.5 371.8h1.8v1.8h-1.8zM117.7 370.9h1.8v1.8h-1.8zM84.9 340.4h1.8v1.8h-1.8zM87.9 381.7h1.8v1.8h-1.8zM90.0 361.1h1.8v1.8h-1.8zM96.7 355.7h1.8v1.8h-1.8zM100.8 350.6h1.8v1.8h-1.8zM106.1 367.4h1.8v1.8h-1.8zM73.6 378.4h1.8v1.8h-1.8zM94.0 363.8h1.8v1.8h-1.8zM93.9 353.3h1.8v1.8h-1.8zM95.8 339.2h1.8v1.8h-1.8zM99.2 363.7h1.8v1.8h-1.8zM73.8 359.5h1.8v1.8h-1.8zM81.8 377.5h1.8v1.8h-1.8zM100.5 352.8h1.8v1.8h-1.8z"/>
<path fill="#b2abd2" d="M106.6 391.2h1.8v1.8h-1.8zM84.7 377.7h1.8v1.8h-1.8zM111.5 389.3h1.8v1.8h-1.8zM102.9 375.5h1.8v1.8h-1.8zM101.9 395.4h1.8v1.8h-1.8zM111.8 378.4h1.8v1.8h-1.8zM108.4 393.2h1.8v1.8h-1.8zM103.1 375.7h1.8v1.8h-1.8zM121.0 370.3h1.8v1.8h-1.8zM115.1 385.9h1.8v1.8h-1.8zM118.8 396.8h1.8v1.8h-1.8zM137.4 397.9h1.8v1.8h-1.8zM102.3 370.1h1.8v1.8h-1.8zM97.1 373.2h1.8v1.8h-1.8zM114.3 376.1h1.8v1.8h-1.8zM105.1 380.4h1.8v1.8h-1.8zM122.2 404.6h1.8v1.8h-1.8zM101.2 388.5h1.8v1.8h-1.8zM131.5 383.6h1.8v1.8h-1.8zM129.8 402.8h1.8v1.8h-1.8zM91.5 370.0h1.8v1.8h-1.8zM102.4 391.6h1.8v1.8h-1.8zM109.0 400.9h1.8v1.8h-1.8zM131.1 378.1h1.8v1.8h-1.8zM126.6 388.3h1.8v1.8h-1.8zM119.6 375.3h1.8v1.8h-1.8zM131.9 377.8h1.8v1.8h-1.8zM103.5 393.2h1.8v1.8h-1.8zM111.9 396.8h1.8v1.8h-1.8zM124.6 370.9h1.8v1.8h-1.8zM101.2 393.4h1.8v1.8h-1.8zM86.8 380.5h1.8v1.8h-1.8zM104.7 382.5h1.8v1.8h-1.8zM90.6 388.3h1.8v1.8h-1.8zM88.7 376.5h1.8v1.8h-1.8zM98.8 377.7h1.8v1.8h-1.8zM119.2 389.2h1.8v1.8h-1.8zM126.9 370.6h1.8v1.8h-1.8zM99.9 390.1h1.8v1.8h-1.8zM112.2 388.4h1.8v1.8h-1.8zM128.9 399.1h1.8v1.8h-1.8zM93.3 383.0h1.8v1.8h-1.8zM87.9 370.8h1.8v1.8h-1.8zM116.7 377.5h1.8v1.8h-1.8zM93.6 389.8h1.8v1.8h-1.8zM109.1 369.6h1.8v1.8h-1.8zM117.8 387.7h1.8v1.8h-1.8zM135.1 391.9h1.8v1.8h-1.8z"/>
<path fill="#8073ac" d="M67.9 410.3h1.8v1.8h-1.8zM70.4 388.7h1.8v1.8h-1.8zM81.6 412.9h1.8v1.8h-1.8zM71.7 386.1h1.8v1.8h-1.8zM74.7 398.6h1.8v1.8h-1.8zM68.7 410.2h1.8v1.8h-1.8zM61.0 393.7h1.8v1.8h-1.8zM68.6 388.8h1.8v1.8h-1.8zM75.9 401.1h1.8v1.8h-1.8zM74.6 447.0h1.8v1.8h-1.8zM69.2 419.2h1.8v1.8h-1.8zM75.6 395.6h1.8v1.8h-1.8zM58.3 407.2h1.8v1.8h-1.8zM73.1 385.6h1.8v1.8h-1.8zM62.1 383.2h1.8v1.8h-1.8zM72.2 389.2h1.8v1.8h-1.8zM57.3 390.6h1.8v1.8h-1.8zM68.9 412.3h1.8v1.8h-1.8zM83.7 409.0h1.8v1.8h-1.8zM65.6 395.8h1.8v1.8h-1.8zM65.4 419.6h1.8v1.8h-1.8zM63.6 414.6h1.8v1.8h-1.8zM61.5 383.4h1.8v1.8h-1.8zM66.0 419.9h1.8v1.8h-1.8zM67.6 398.4h1.8v1.8h-1.8zM71.2 385.6h1.8v1.8h-1.8zM69.5 382.5h1.8v1.8h-1.8zM79.7 396.7h1.8v1.8h-1.8zM74.9 399.2h1.8v1.8h-1.8zM61.3 409.4h1.8v1.8h-1.8zM78.1 418.5h1.8v1.8h-1.8zM59.6 386.9h1.8v1.8h-1.8zM59.4 384.1h1.8v1.8h-1.8zM77.5 399.0h1.8v1.8h-1.8zM79.8 402.9h1.8v1.8h-1.8z"/>
<path fill="#b35806" d="M30.7 364.7h1.8v1.8h-1.8zM72.5 346.2h1.8v1.8h-1.8zM56.0 375.3h1.8v1.8h-1.8zM43.3 397.6h1.8v1.8h-1.8zM74.3 364.5h1.8v1.8h-1.8zM39.8 387.5h1.8v1.8h-1.8zM61.9 361.4h1.8v1.8h-1.8zM37.7 368.7h1.8v1.8h-1.8zM77.4 376.5h1.8v1.8h-1.8zM76.1 376.8h1.8v1.8h-1.8zM44.4 397.7h1.8v1.8h-1.8zM43.5 379.3h1.8v1.8h-1.8zM71.4 383.5h1.8v1.8h-1.8zM70.5 366.6h1.8v1.8h-1.8zM57.1 417.6h1.8v1.8h-1.8zM43.4 380.2h1.8v1.8h-1.8zM49.6 398.8h1.8v1.8h-1.8zM34.8 409.6h1.8v1.8h-1.8zM48.9 358.2h1.8v1.8h-1.8zM71.6 378.2h1.8v1.8h-1.8zM28.1 404.6h1.8v1.8h-1.8zM47.7 349.5h1.8v1.8h-1.8zM47.8 406.1h1.8v1.8h-1.8zM47.9 356.1h1.8v1.8h-1.8zM59.4 351.9h1.8v1.8h-1.8zM35.4 390.8h1.8v1.8h-1.8zM26.6 380.4h1.8v1.8h-1.8zM34.5 366.2h1.8v1.8h-1.8zM36.5 408.1h1.8v1.8h-1.8zM48.7 391.0h1.8v1.8h-1.8zM65.9 341.2h1.8v1.8h-1.8zM51.9 356.3h1.8v1.8h-1.8zM63.5 365.9h1.8v1.8h-1.8zM74.8 374.4h1.8v1.8h-1.8zM55.2 390.5h1.8v1.8h-1.8zM59.6 376.1h1.8v1.8h-1.8zM58.0 371.5h1.8v1.8h-1.8zM35.2 378.0h1.8v1.8h-1.8zM31.1 364.7h1.8v1.8h-1.8zM68.9 384.9h1.8v1.8h-1.8zM46.2 357.0h1.8v1.8h-1.8zM54.2 387.9h1.8v1.8h-1.8zM71.3 361.4h1.8v1.8h-1.8zM28.2 376.1h1.8v1.8h-1.8zM43.5 402.2h1.8v1.8h-1.8zM32.9 367.9h1.8v1.8h-1.8zM59.8 369.9h1.8v1.8h-1.8zM30.7 381.6h1.8v1.8h-1.8zM50.3 408.5h1.8v1.8h-1.8zM48.0 395.4h1.8v1.8h-1.8zM48.1 399.8h1.8v1.8h-1.8zM53.0 361.9h1.8v1.8h-1.8zM39.9 391.6h1.8v1.8h-1.8zM58.0 353.9h1.8v1.8h-1.8zM66.3 370.8h1.8v1.8h-1.8zM59.9 412.3h1.8v1.8h-1.8zM31.8 394.1h1.8v1.8h-1.8zM42.6 355.2h1.8v1.8h-1.8zM37.3 373.7h1.8v1.8h-1.8zM37.6 375.0h1.8v1.8h-1.8zM41.0 359.1h1.8v1.8h-1.8zM60.7 383.9h1.8v1.8h-1.8zM39.0 356.4h1.8v1.8h-1.8zM59.2 385.6h1.8v1.8h-1.8zM72.8 356.6h1.8v1.8h-1.8zM75.3 358.4h1.8v1.8h-1.8zM46.2 405.7h1.8v1.8h-1.8zM32.8 392.4h1.8v1.8h-1.8zM60.2 378.4h1.8v1.8h-1.8zM53.2 364.0h1.8v1.8h-1.8zM59.5 359.5h1.8v1.8h-1.8zM44.0 378.5h1.8v1.8h-1.8zM36.7 375.8h1.8v1.8h-1.8zM64.1 349.8h1.8v1.8h-1.8zM40.4 354.2h1.8v1.8h-1.8zM46.2 381.9h1.8v1.8h-1.8zM40.9 365.8h1.8v1.8h-1.8zM51.9 409.2h1.8v1.8h-1.8zM46.6 366.0h1.8v1.8h-1.8zM69.7 362.8h1.8v1.8h-1.8zM57.8 414.8h1.8v1.8h-1.8zM53.3 415.8h1.8v1.8h-1.8zM46.7 384.2h1.8v1.8h-1.8zM65.3 362.8h1.8v1.8h-1.8zM61.0 350.7h1.8v1.8h-1.8zM38.0 373.3h1.8v1.8h-1.8zM58.7 400.2h1.8v1.8h-1.8zM60.4 401.5h1.8v1.8h-1.8zM43.6 390.3h1.8v1.8h-1.8zM62.7 359.8h1.8v1.8h-1.8zM57.7 404.2h1.8v1.8h-1.8zM57.9 369.4h1.8v1.8h-1.8zM44.5 389.9h1.8v1.8h-1.8zM35.2 413.6h1.8v1.8h-1.8zM45.4 394.2h1.8v1.8h-1.8zM40.5 366.3h1.8v1.8h-1.8zM28.1 408.4h1.8v1.8h-1.8zM63.5 383.9h1.8v1.8h-1.8zM41.1 377.2h1.8v1.8h-1.8zM77.7 368.9h1.8v1.8h-1.8zM38.2 372.5h1.8v1.8h-1.8zM42.4 374.1h1.8v1.8h-1.8zM36.0 391.3h1.8v1.8h-1.8zM55.5 373.7h1.8v1.8h-1.8z"/>
<path fill="#e08214" d="M155.8 386.0h1.8v1.8h-1.8zM130.1 378.8h1.8v1.8h-1.8zM130.5 430.1h1.8v1.8h-1.8zM139.8 419.6h1.8v1.8h-1.8zM150.4 392.0h1.8v1.8h-1.8zM131.7 408.1h1.8v1.8h-1.8zM142.5 422.6h1.8v1.8h-1.8zM139.5 411.8h1.8v1.8h-1.8zM155.9 436.5h1.8v1.8h-1.8zM148.1 405.0h1.8v1.8h-1.8zM153.5 395.4h1.8v1.8h-1.8zM142.6 432.0h1.8v1.8h-1.8zM134.0 402.6h1.8v1.8h-1.8zM132.5 441.0h1.8v1.8h-1.8zM129.6 439.2h1.8v1.8h-1.8zM159.6 431.4h1.8v1.8h-1.8zM150.5 445.3h1.8v1.8h-1.8zM153.0 392.6h1.8v1.8h-1.8zM146.9 408.9h1.8v1.8h-1.8zM132.9 445.4h1.8v1.8h-1.8zM162.4 435.1h1.8v1.8h-1.8zM160.2 391.5h1.8v1.8h-1.8zM144.0 380.1h1.8v1.8h-1.8zM144.4 377.7h1.8v1.8h-1.8zM160.8 411.0h1.8v1.8h-1.8zM160.9 432.0h1.8v1.8h-1.8zM146.4 432.7h1.8v1.8h-1.8zM162.5 423.3h1.8v1.8h-1.8zM161.9 425.3h1.8v1.8h-1.8zM156.7 385.6h1.8v1.8h-1.8zM135.9 412.3h1.8v1.8h-1.8zM154.8 391.7h1.8v1.8h-1.8zM145.0 423.9h1.8v1.8h-1.8zM154.2 423.3h1.8v1.8h-1.8zM152.6 444.0h1.8v1.8h-1.8zM136.5 423.8h1.8v1.8h-1.8zM150.1 435.1h1.8v1.8h-1.8zM146.6 442.7h1.8v1.8h-1.8zM133.4 403.1h1.8v1.8h-1.8zM137.2 419.6h1.8v1.8h-1.8zM127.5 422.5h1.8v1.8h-1.8zM161.7 427.3h1.8v1.8h-1.8zM126.8 432.9h1.8v1.8h-1.8zM156.0 408.3h1.8v1.8h-1.8zM154.0 428.8h1.8v1.8h-1.8zM153.1 378.0h1.8v1.8h-1.8zM163.4 415.6h1.8v1.8h-1.8zM140.3 402.5h1.8v1.8h-1.8zM136.9 394.6h1.8v1.8h-1.8zM156.6 439.9h1.8v1.8h-1.8zM136.9 406.8h1.8v1.8h-1.8zM148.0 417.1h1.8v1.8h-1.8zM155.5 387.2h1.8v1.8h-1.8zM145.0 401.5h1.8v1.8h-1.8zM146.2 426.3h1.8v1.8h-1.8zM162.9 417.1h1.8v1.8h-1.8zM164.0 401.6h1.8v1.8h-1.8zM136.9 374.9h1.8v1.8h-1.8zM139.9 437.8h1.8v1.8h-1.8zM131.1 381.9h1.8v1.8h-1.8zM148.9 426.9h1.8v1.8h-1.8zM140.0 388.0h1.8v1.8h-1.8zM125.8 434.2h1.8v1.8h-1.8zM144.6 383.1h1.8v1.8h-1.8zM135.6 381.6h1.8v1.8h-1.8zM134.4 388.0h1.8v1.8h-1.8zM131.9 443.2h1.8v1.8h-1.8zM130.6 447.5h1.8v1.8h-1.8zM124.8 432.7h1.8v1.8h-1.8zM132.3 400.6h1.8v1.8h-1.8zM166.6 412.9h1.8v1.8h-1.8zM133.5 392.5h1.8v1.8h-1.8zM139.0 387.2h1.8v1.8h-1.8zM148.6 407.5h1.8v1.8h-1.8zM156.1 379.6h1.8v1.8h-1.8zM143.4 408.8h1.8v1.8h-1.8zM135.9 411.5h1.8v1.8h-1.8zM129.3 396.9h1.8v1.8h-1.8zM145.0 404.1h1.8v1.8h-1.8zM140.9 385.1h1.8v1.8h-1.8zM130.8 397.3h1.8v1.8h-1.8zM129.0 428.2h1.8v1.8h-1.8zM138.7 390.9h1.8v1.8h-1.8zM154.4 380.0h1.8v1.8h-1.8zM132.8 376.1h1.8v1.8h-1.8zM130.9 445.0h1.8v1.8h-1.8zM139.4 404.7h1.8v1.8h-1.8zM142.5 434.6h1.8v1.8h-1.8zM137.0 428.0h1.8v1.8h-1.8zM163.4 414.7h1.8v1.8h-1.8zM151.3 407.7h1.8v1.8h-1.8zM133.8 422.7h1.8v1.8h-1.8zM146.5 420.1h1.8v1.8h-1.8zM151.2 422.9h1.8v1.8h-1.8zM129.8 428.0h1.8v1.8h-1.8zM130.5 441.0h1.8v1.8h-1.8zM160.4 430.8h1.8v1.8h-1.8zM154.7 403.0h1.8v1.8h-1.8zM126.9 415.2h1.8v1.8h-1.8zM128.4 417.3h1.8v1.8h-1.8zM130.4 438.0h1.8v1.8h-1.8zM143.1 432.1h1.8v1.8h-1.8zM158.7 398.0h1.8v1.8h-1.8z"/>
<path fill="#fdb863" d="M122.8 416.6h1.8v1.8h-1.8zM111.6 446.4h1.8v1.8h-1.8zM100.1 451.0h1.8v1.8h-1.8zM70.9 425.2h1.8v1.8h-1.8zM109.0 415.8h1.8v1.8h-1.8zM118.8 447.9h1.8v1.8h-1.8zM93.2 379.2h1.8v1.8h-1.8zM95.9 440.9h1.8v1.8h-1.8zM103.6 432.4h1.8v1.8h-1.8zM100.6 462.4h1.8v1.8h-1.8zM89.5 445.0h1.8v1.8h-1.8zM104.5 410.1h1.8v1.8h-1.8zM80.6 432.1h1.8v1.8h-1.8zM91.4 453.2h1.8v1.8h-1.8zM123.1 417.6h1.8v1.8h-1.8zM72.1 418.8h1.8v1.8h-1.8zM127.1 416.7h1.8v1.8h-1.8zM109.2 401.0h1.8v1.8h-1.8zM118.7 459.8h1.8v1.8h-1.8zM120.7 434.6h1.8v1.8h-1.8zM76.1 398.6h1.8v1.8h-1.8zM113.3 442.4h1.8v1.8h-1.8zM99.7 421.0h1.8v1.8h-1.8zM104.6 439.3h1.8v1.8h-1.8zM121.8 438.8h1.8v1.8h-1.8zM116.7 438.5h1.8v1.8h-1.8zM119.1 433.7h1.8v1.8h-1.8zM89.0 414.6h1.8v1.8h-1.8zM101.5 404.0h1.8v1.8h-1.8zM93.1 462.8h1.8v1.8h-1.8zM118.6 447.5h1.8v1.8h-1.8zM126.0 442.7h1.8v1.8h-1.8zM114.1 439.2h1.8v1.8h-1.8zM84.8 444.0h1.8v1.8h-1.8zM108.0 433.4h1.8v1.8h-1.8zM93.1 379.4h1.8v1.8h-1.8zM87.8 453.0h1.8v1.8h-1.8zM103.1 412.9h1.8v1.8h-1.8zM80.1 441.0h1.8v1.8h-1.8zM108.6 435.7h1.8v1.8h-1.8zM89.9 397.9h1.8v1.8h-1.8zM88.4 444.9h1.8v1.8h-1.8zM73.1 431.0h1.8v1.8h-1.8zM100.0 415.4h1.8v1.8h-1.8zM108.6 446.2h1.8v1.8h-1.8zM96.9 397.3h1.8v1.8h-1.8zM115.5 422.6h1.8v1.8h-1.8zM98.6 445.0h1.8v1.8h-1.8zM123.5 437.0h1.8v1.8h-1.8zM83.8 445.0h1.8v1.8h-1.8zM84.5 427.8h1.8v1.8h-1.8zM83.6 436.6h1.8v1.8h-1.8zM102.4 411.5h1.8v1.8h-1.8zM97.1 408.5h1.8v1.8h-1.8zM94.9 429.5h1.8v1.8h-1.8zM70.2 412.9h1.8v1.8h-1.8zM100.0 441.4h1.8v1.8h-1.8zM95.4 456.1h1.8v1.8h-1.8zM87.9 403.6h1.8v1.8h-1.8zM114.3 414.3h1.8v1.8h-1.8zM112.9 443.1h1.8v1.8h-1.8zM95.4 451.3h1.8v1.8h-1.8zM84.7 398.0h1.8v1.8h-1.8zM103.6 440.3h1.8v1.8h-1.8zM97.2 386.8h1.8v1.8h-1.8zM108.6 461.4h1.8v1.8h-1.8zM76.3 422.6h1.8v1.8h-1.8zM82.3 461.9h1.8v1.8h-1.8zM79.7 407.3h1.8v1.8h-1.8zM80.1 397.6h1.8v1.8h-1.8zM89.7 379.2h1.8v1.8h-1.8zM126.1 440.4h1.8v1.8h-1.8zM86.7 451.9h1.8v1.8h-1.8zM122.4 414.6h1.8v1.8h-1.8zM105.1 401.5h1.8v1.8h-1.8zM73.2 411.3h1.8v1.8h-1.8zM92.0 377.4h1.8v1.8h-1.8zM103.6 398.9h1.8v1.8h-1.8zM111.2 435.3h1.8v1.8h-1.8zM122.4 443.6h1.8v1.8h-1.8zM119.0 435.9h1.8v1.8h-1.8zM85.6 427.3h1.8v1.8h-1.8zM109.8 460.3h1.8v1.8h-1.8zM96.5 433.4h1.8v1.8h-1.8zM94.5 424.4h1.8v1.8h-1.8zM113.1 445.6h1.8v1.8h-1.8zM102.3 433.3h1.8v1.8h-1.8zM100.5 396.7h1.8v1.8h-1.8zM117.2 434.6h1.8v1.8h-1.8zM69.8 400.2h1.8v1.8h-1.8zM95.9 456.3h1.8v1.8h-1.8zM79.6 397.5h1.8v1.8h-1.8zM92.3 407.0h1.8v1.8h-1.8zM104.0 448.7h1.8v1.8h-1.8zM113.3 402.0h1.8v1.8h-1.8zM76.9 395.5h1.8v1.8h-1.8zM120.7 443.2h1.8v1.8h-1.8zM103.6 414.5h1.8v1.8h-1.8zM81.0 451.2h1.8v1.8h-1.8zM76.7 450.3h1.8v1.8h-1.8zM78.8 415.8h1.8v1.8h-1.8zM90.8 377.8h1.8v1.8h-1.8zM83.8 428.9h1.8v1.8h-1.8zM123.4 413.3h1.8v1.8h-1.8zM70.6 400.7h1.8v1.8h-1.8zM112.1 418.6h1.8v1.8h-1.8zM95.4 400.2h1.8v1.8h-1.8zM85.7 409.1h1.8v1.8h-1.8z"/>
<path fill="#fee0b6" d="M69.3 443.2h1.8v1.8h-1.8zM40.2 425.8h1.8v1.8h-1.8zM51.0 429.3h1.8v1.8h-1.8zM64.7 434.1h1.8v1.8h-1.8zM33.3 440.1h1.8v1.8h-1.8zM35.5 426.3h1.8v1.8h-1.8zM63.7 462.9h1.8v1.8h-1.8zM67.6 434.9h1.8v1.8h-1.8zM62.6 461.4h1.8v1.8h-1.8zM62.7 433.1h1.8v1.8h-1.8zM43.4 430.4h1.8v1.8h-1.8zM70.7 455.4h1.8v1.8h-1.8zM63.5 437.7h1.8v1.8h-1.8zM57.5 433.8h1.8v1.8h-1.8zM56.5 459.7h1.8v1.8h-1.8zM63.5 432.0h1.8v1.8h-1.8zM55.8 426.0h1.8v1.8h-1.8zM30.8 441.6h1.8v1.8h-1.8zM40.2 442.7h1.8v1.8h-1.8zM65.3 446.6h1.8v1.8h-1.8zM25.0 413.8h1.8v1.8h-1.8zM35.4 420.0h1.8v1.8h-1.8zM66.5 434.3h1.8v1.8h-1.8zM54.7 427.6h1.8v1.8h-1.8zM42.2 458.3h1.8v1.8h-1.8zM49.1 441.5h1.8v1.8h-1.8zM57.3 442.3h1.8v1.8h-1.8zM48.1 458.7h1.8v1.8h-1.8zM34.0 452.8h1.8v1.8h-1.8zM42.9 444.8h1.8v1.8h-1.8zM69.0 437.4h1.8v1.8h-1.8zM51.3 435.1h1.8v1.8h-1.8zM31.4 419.1h1.8v1.8h-1.8zM55.4 459.5h1.8v1.8h-1.8zM44.1 434.2h1.8v1.8h-1.8zM51.2 428.6h1.8v1.8h-1.8zM48.8 455.7h1.8v1.8h-1.8zM28.0 430.7h1.8v1.8h-1.8zM49.4 463.5h1.8v1.8h-1.8zM64.4 436.6h1.8v1.8h-1.8zM23.2 429.2h1.8v1.8h-1.8zM37.7 453.4h1.8v1.8h-1.8zM54.9 458.4h1.8v1.8h-1.8zM68.8 446.7h1.8v1.8h-1.8zM32.3 427.0h1.8v1.8h-1.8zM41.1 434.5h1.8v1.8h-1.8zM37.7 426.3h1.8v1.8h-1.8z"/>
<path fill="#d8daeb" d="M111.7 364.3h1.8v1.8h-1.8zM82.4 348.5h1.8v1.8h-1.8zM79.8 385.9h1.8v1.8h-1.8zM84.5 353.1h1.8v1.8h-1.8zM92.8 372.5h1.8v1.8h-1.8zM128.6 370.5h1.8v1.8h-1.8zM104.4 351.3h1.8v1.8h-1.8zM107.8 357.3h1.8v1.8h-1.8zM112.5 364.3h1.8v1.8h-1.8zM90.2 375.4h1.8v1.8h-1.8zM123.8 357.5h1.8v1.8h-1.8zM135.3 368.8h1.8v1.8h-1.8zM103.7 362.5h1.8v1.8h-1.8zM122.4 356.0h1.8v1.8h-1.8zM109.4 357.5h1.8v1.8h-1.8zM72.9 353.6h1.8v1.8h-1.8zM112.2 374.3h1.8v1.8h-1.8zM115.3 374.6h1.8v1.8h-1.8zM88.9 345.3h1.8v1.8h-1.8zM112.5 370.9h1.8v1.8h-1.8zM114.5 351.1h1.8v1.8h-1.8zM93.5 364.5h1.8v1.8h-1.8zM97.4 371.9h1.8v1.8h-1.8zM88.8 346.3h1.8v1.8h-1.8zM114.9 361.6h1.8v1.8h-1.8zM85.0 344.4h1.8v1.8h-1.8zM74.6 367.3h1.8v1.8h-1.8zM132.6 370.0h1.8v1.8h-1.8zM107.7 345.1h1.8v1.8h-1.8zM112.1 368.5h1.8v1.8h-1.8zM129.0 365.9h1.8v1.8h-1.8zM100.8 360.6h1.8v1.8h-1.8zM102.3 357.5h1.8v1.8h-1.8zM93.4 368.8h1.8v1.8h-1.8zM72.1 369.7h1.8v1.8h-1.8zM124.3 356.8h1.8v1.8h-1.8zM123.4 363.6h1.8v1.8h-1.8zM112.0 349.5h1.8v1.8h-1.8zM75.8 372.9h1.8v1.8h-1.8zM83.7 365.0h1.8v1.8h-1.8zM75.6 352.8h1.8v1.8h-1.8zM108.8 353.3h1.8v1.8h-1.8zM103.3 359.1h1.8v1.8h-1.8zM90.5 363.4h1.8v1.8h-1.8zM125.1 365.8h1.8v1.8h-1.8zM74.8 357.1h1.8v1.8h-1.8zM97.9 350.6h1.8v1.8h-1.8zM126.7 370.3h1.8v1.8h-1.8zM77.6 371.5h1.8v1.8h-1.8zM80.9 343.6h1.8v1.8h-1.8zM92.0 357.4h1.8v1.8h-1.8z"/>
<path fill="#b2abd2" d="M97.0 386.9h1.8v1.8h-1.8zM87.8 391.9h1.8v1.8h-1.8zM136.5 393.7h1.8v1.8h-1.8zM136.6 400.5h1.8v1.8h-1.8zM116.7 373.7h1.8v1.8h-1.8zM104.3 393.9h1.8v1.8h-1.8zM107.8 397.2h1.8v1.8h-1.8zM124.1 406.0h1.8v1.8h-1.8zM94.6 387.9h1.8v1.8h-1.8zM112.0 403.4h1.8v1.8h-1.8zM123.7 390.7h1.8v1.8h-1.8zM139.8 389.2h1.8v1.8h-1.8zM109.2 387.1h1.8v1.8h-1.8zM110.6 382.2h1.8v1.8h-1.8zM124.4 380.2h1.8v1.8h-1.8zM94.0 378.3h1.8v1.8h-1.8zM95.8 391.0h1.8v1.8h-1.8zM138.5 387.7h1.8v1.8h-1.8zM139.3 381.5h1.8v1.8h-1.8zM117.6 386.2h1.8v1.8h-1.8zM102.4 372.0h1.8v1.8h-1.8zM137.1 376.8h1.8v1.8h-1.8zM133.7 385.8h1.8v1.8h-1.8zM126.8 401.1h1.8v1.8h-1.8zM121.1 404.5h1.8v1.8h-1.8zM126.8 380.3h1.8v1.8h-1.8zM109.4 382.1h1.8v1.8h-1.8zM110.9 371.2h1.8v1.8h-1.8zM105.8 375.8h1.8v1.8h-1.8zM123.3 371.4h1.8v1.8h-1.8zM116.4 392.1h1.8v1.8h-1.8zM94.6 374.5h1.8v1.8h-1.8zM113.2 369.9h1.8v1.8h-1.8zM138.4 380.8h1.8v1.8h-1.8zM123.5 376.8h1.8v1.8h-1.8zM84.5 382.9h1.8v1.8h-1.8zM99.8 392.4h1.8v1.8h-1.8zM108.3 387.5h1.8v1.8h-1.8zM134.8 374.3h1.8v1.8h-1.8zM119.0 383.4h1.8v1.8h-1.8zM119.9 382.7h1.8v1.8h-1.8zM123.7 373.5h1.8v1.8h-1.8zM130.2 379.5h1.8v1.8h-1.8zM90.1 371.1h1.8v1.8h-1.8zM114.1 372.5h1.8v1.8h-1.8zM131.4 379.3h1.8v1.8h-1.8zM133.8 393.4h1.8v1.8h-1.8zM136.4 378.4h1.8v1.8h-1.8zM126.4 376.4h1.8v1.8h-1.8zM126.6 373.1h1.8v1.8h-1.8zM106.2 388.0h1.8v1.8h-1.8zM115.3 396.1h1.8v1.8h-1.8zM97.2 370.9h1.8v1.8h-1.8z"/>
<path fill="#8073ac" d="M79.9 444.2h1.8v1.8h-1.8zM79.1 398.7h1.8v1.8h-1.8zM57.8 400.1h1.8v1.8h-1.8zM70.4 445.1h1.8v1.8h-1.8zM67.0 388.9h1.8v1.8h-1.8zM77.8 402.0h1.8v1.8h-1.8zM72.1 384.0h1.8v1.8h-1.8zM57.0 398.8h1.8v1.8h-1.8zM57.0 398.0h1.8v1.8h-1.8zM84.3 406.4h1.8v1.8h-1.8zM81.2 401.9h1.8v1.8h-1.8zM64.1 410.6h1.8v1.8h-1.8zM75.1 407.3h1.8v1.8h-1.8zM76.2 421.8h1.8v1.8h-1.8zM67.7 418.8h1.8v1.8h-1.8zM69.8 444.5h1.8v1.8h-1.8zM59.4 390.0h1.8v1.8h-1.8zM66.8 389.3h1.8v1.8h-1.8zM80.6 410.6h1.8v1.8h-1.8zM79.9 406.7h1.8v1.8h-1.8zM69.3 399.7h1.8v1.8h-1.8zM70.4 388.6h1.8v1.8h-1.8zM58.0 391.2h1.8v1.8h-1.8zM59.2 413.5h1.8v1.8h-1.8zM64.4 418.2h1.8v1.8h-1.8zM69.5 396.4h1.8v1.8h-1.8zM79.9 401.7h1.8v1.8h-1.8zM82.3 407.3h1.8v1.8h-1.8zM73.1 396.4h1.8v1.8h-1.8zM70.6 411.0h1.8v1.8h-1.8zM71.4 396.4h1.8v1.8h-1.8zM61.0 408.9h1.8v1.8h-1.8zM65.1 403.9h1.8v1.8h-1.8zM72.2 395.1h1.8v1.8h-1.8z"/>
<path fill="#b35806" d="M27.6 387.4h1.8v1.8h-1.8zM39.2 380.1h1.8v1.8h-1.8zM48.3 366.1h1.8v1.8h-1.8zM41.0 392.5h1.8v1.8h-1.8zM73.2 365.8h1.8v1.8h-1.8zM51.4 361.6h1.8v1.8h-1.8zM64.6 394.1h1.8v1.8h-1.8zM58.1 363.1h1.8v1.8h-1.8zM26.3 387.8h1.8v1.8h-1.8zM52.6 390.5h1.8v1.8h-1.8zM30.5 374.1h1.8v1.8h-1.8zM60.0 365.3h1.8v1.8h-1.8zM61.4 403.3h1.8v1.8h-1.8zM59.9 386.3h1.8v1.8h-1.8zM69.0 340.1h1.8v1.8h-1.8zM39.6 401.0h1.8v1.8h-1.8zM51.4 403.8h1.8v1.8h-1.8zM29.7 399.4h1.8v1.8h-1.8zM57.5 346.5h1.8v1.8h-1.8zM64.2 362.4h1.8v1.8h-1.8zM49.7 372.9h1.8v1.8h-1.8zM49.9 359.9h1.8v1.8h-1.8zM48.8 350.3h1.8v1.8h-1.8zM53.1 387.3h1.8v1.8h-1.8zM60.8 387.1h1.8v1.8h-1.8zM58.6 389.8h1.8v1.8h-1.8zM42.2 352.9h1.8v1.8h-1.8zM48.9 381.4h1.8v1.8h-1.8zM51.9 397.6h1.8v1.8h-1.8zM55.1 354.7h1.8v1.8h-1.8zM54.2 368.3h1.8v1.8h-1.8zM55.0 351.0h1.8v1.8h-1.8zM69.8 372.3h1.8v1.8h-1.8zM48.9 356.6h1.8v1.8h-1.8zM62.7 384.7h1.8v1.8h-1.8zM37.1 410.9h1.8v1.8h-1.8zM74.7 363.4h1.8v1.8h-1.8zM57.5 405.6h1.8v1.8h-1.8zM67.1 367.9h1.8v1.8h-1.8zM26.1 397.8h1.8v1.8h-1.8zM36.2 407.3h1.8v1.8h-1.8zM58.3 357.8h1.8v1.8h-1.8zM60.0 387.4h1.8v1.8h-1.8zM46.3 379.7h1.8v1.8h-1.8zM56.2 377.5h1.8v1.8h-1.8zM64.7 355.4h1.8v1.8h-1.8zM62.7 349.1h1.8v1.8h-1.8zM45.6 370.7h1.8v1.8h-1.8zM28.7 383.0h1.8v1.8h-1.8zM69.4 380.4h1.8v1.8h-1.8zM29.5 391.5h1.8v1.8h-1.8zM65.3 378.3h1.8v1.8h-1.8zM57.0 359.3h1.8v1.8h-1.8zM72.9 365.2h1.8v1.8h-1.8zM65.6 365.6h1.8v1.8h-1.8zM52.0 404.3h1.8v1.8h-1.8zM28.4 399.4h1.8v1.8h-1.8zM60.3 408.7h1.8v1.8h-1.8zM32.2 404.1h1.8v1.8h-1.8zM47.7 349.4h1.8v1.8h-1.8zM39.7 376.0h1.8v1.8h-1.8zM63.6 354.9h1.8v1.8h-1.8zM72.7 349.5h1.8v1.8h-1.8zM60.2 405.8h1.8v1.8h-1.8zM58.6 391.7h1.8v1.8h-1.8zM52.6 352.8h1.8v1.8h-1.8zM43.4 362.7h1.8v1.8h-1.8zM39.1 369.4h1.8v1.8h-1.8zM57.8 414.8h1.8v1.8h-1.8zM69.4 348.2h1.8v1.8h-1.8zM60.0 344.7h1.8v1.8h-1.8zM28.2 400.3h1.8v1.8h-1.8zM49.2 357.5h1.8v1.8h-1.8zM60.3 377.4h1.8v1.8h-1.8zM63.6 341.1h1.8v1.8h-1.8zM34.1 376.8h1.8v1.8h-1.8zM29.7 378.8h1.8v1.8h-1.8zM47.8 363.2h1.8v1.8h-1.8zM43.7 401.0h1.8v1.8h-1.8zM38.2 391.8h1.8v1.8h-1.8zM49.1 374.0h1.8v1.8h-1.8zM67.4 344.6h1.8v1.8h-1.8zM58.4 404.1h1.8v1.8h-1.8zM59.9 404.4h1.8v1.8h-1.8zM43.6 403.2h1.8v1.8h-1.8zM58.5 409.3h1.8v1.8h-1.8zM42.0 359.0h1.8v1.8h-1.8zM46.5 391.6h1.8v1.8h-1.8zM44.4 377.5h1.8v1.8h-1.8zM48.2 359.6h1.8v1.8h-1.8zM43.6 365.9h1.8v1.8h-1.8zM66.7 380.1h1.8v1.8h-1.8zM29.7 402.5h1.8v1.8h-1.8zM66.5 352.8h1.8v1.8h-1.8zM35.3 390.2h1.8v1.8h-1.8zM61.1 360.3h1.8v1.8h-1.8zM61.0 384.2h1.8v1.8h-1.8zM71.5 343.1h1.8v1.8h-1.8zM28.8 401.8h1.8v1.8h-1.8zM60.3 395.0h1.8v1.8h-1.8zM44.9 409.9h1.8v1.8h-1.8zM32.4 374.9h1.8v1.8h-1.8zM52.8 361.8h1.8v1.8h-1.8zM29.2 379.4h1.8v1.8h-1.8zM77.9 373.7h1.8v1.8h-1.8zM40.6 358.4h1.8v1.8h-1.8zM28.4 402.5h1.8v1.8h-1.8zM32.2 375.8h1.8v1.8h-1.8zM74.9 370.1h1.8v1.8h-1.8zM30.3 378.8h1.8v1.8h-1.8zM71.8 382.4h1.8v1.8h-1.8zM46.4 408.6h1.8v1.8h-1.8zM67.3 363.2h1.8v1.8h-1.8zM75.4 358.1h1.8v1.8h-1.8zM49.8 353.2h1.8v1.8h-1.8zM60.6 377.1h1.8v1.8h-1.8zM56.0 363.0h1.8v1.8h-1.8z"/>
<path fill="#e08214" d="M149.6 399.8h1.8v1.8h-1.8zM138.9 435.9h1.8v1.8h-1.8zM131.4 379.5h1.8v1.8h-1.8zM133.6 430.7h1.8v1.8h-1.8zM131.7 447.3h1.8v1.8h-1.8zM138.7 429.5h1.8v1.8h-1.8zM132.8 425.5h1.8v1.8h-1.8zM146.9 441.4h1.8v1.8h-1.8zM153.5 378.2h1.8v1.8h-1.8zM136.6 387.7h1.8v1.8h-1.8zM160.5 417.6h1.8v1.8h-1.8zM133.2 395.9h1.8v1.8h-1.8zM151.4 398.4h1.8v1.8h-1.8zM158.0 438.9h1.8v1.8h-1.8zM140.2 433.3h1.8v1.8h-1.8zM127.4 425.3h1.8v1.8h-1.8zM141.8 403.2h1.8v1.8h-1.8zM128.7 405.2h1.8v1.8h-1.8zM129.7 424.4h1.8v1.8h-1.8zM141.5 446.9h1.8v1.8h-1.8zM141.9 442.8h1.8v1.8h-1.8zM128.1 425.1h1.8v1.8h-1.8zM152.6 398.9h1.8v1.8h-1.8zM146.3 426.6h1.8v1.8h-1.8zM133.3 402.7h1.8v1.8h-1.8zM142.5 372.6h1.8v1.8h-1.8zM150.2 382.8h1.8v1.8h-1.8zM131.5 436.2h1.8v1.8h-1.8zM152.6 421.0h1.8v1.8h-1.8zM147.5 431.5h1.8v1.8h-1.8zM150.9 382.5h1.8v1.8h-1.8zM132.8 432.3h1.8v1.8h-1.8zM149.0 419.3h1.8v1.8h-1.8zM138.1 449.5h1.8v1.8h-1.8zM128.6 443.9h1.8v1.8h-1.8zM140.3 372.6h1.8v1.8h-1.8zM131.8 414.5h1.8v1.8h-1.8zM150.7 439.0h1.8v1.8h-1.8zM139.3 398.0h1.8v1.8h-1.8zM164.1 414.0h1.8v1.8h-1.8zM146.6 382.2h1.8v1.8h-1.8zM131.6 448.8h1.8v1.8h-1.8zM143.3 420.1h1.8v1.8h-1.8zM164.9 413.3h1.8v1.8h-1.8zM134.3 386.3h1.8v1.8h-1.8zM138.8 445.7h1.8v1.8h-1.8zM154.8 418.9h1.8v1.8h-1.8zM165.9 420.8h1.8v1.8h-1.8zM131.0 421.8h1.8v1.8h-1.8zM139.8 391.2h1.8v1.8h-1.8zM133.6 401.1h1.8v1.8h-1.8zM144.4 406.9h1.8v1.8h-1.8zM135.5 421.7h1.8v1.8h-1.8zM131.5 411.2h1.8v1.8h-1.8zM141.3 396.7h1.8v1.8h-1.8zM159.1 411.1h1.8v1.8h-1.8zM140.0 451.4h1.8v1.8h-1.8zM144.3 434.9h1.8v1.8h-1.8zM139.5 428.1h1.8v1.8h-1.8zM154.9 388.6h1.8v1.8h-1.8zM163.2 403.4h1.8v1.8h-1.8zM144.2 416.7h1.8v1.8h-1.8zM130.4 379.8h1.8v1.8h-1.8zM155.9 442.4h1.8v1.8h-1.8zM128.9 422.6h1.8v1.8h-1.8zM132.1 445.4h1.8v1.8h-1.8zM129.3 438.6h1.8v1.8h-1.8zM134.5 418.0h1.8v1.8h-1.8zM133.9 403.8h1.8v1.8h-1.8zM144.9 429.4h1.8v1.8h-1.8zM130.1 445.6h1.8v1.8h-1.8zM149.7 400.9h1.8v1.8h-1.8zM136.8 405.5h1.8v1.8h-1.8zM145.0 401.0h1.8v1.8h-1.8zM157.9 410.2h1.8v1.8h-1.8zM126.8 406.2h1.8v1.8h-1.8zM157.1 429.9h1.8v1.8h-1.8zM137.7 449.7h1.8v1.8h-1.8zM137.0 426.5h1.8v1.8h-1.8zM142.8 424.8h1.8v1.8h-1.8zM150.9 427.4h1.8v1.8h-1.8zM149.8 434.7h1.8v1.8h-1.8zM161.5 420.1h1.8v1.8h-1.8zM162.6 419.0h1.8v1.8h-1.8zM164.4 415.9h1.8v1.8h-1.8zM163.6 412.5h1.8v1.8h-1.8zM125.5 435.2h1.8v1.8h-1.8zM138.7 396.8h1.8v1.8h-1.8zM155.1 420.6h1.8v1.8h-1.8zM141.6 396.4h1.8v1.8h-1.8zM153.1 379.7h1.8v1.8h-1.8zM153.8 438.4h1.8v1.8h-1.8zM161.5 400.0h1.8v1.8h-1.8zM158.6 417.3h1.8v1.8h-1.8zM157.7 426.4h1.8v1.8h-1.8zM147.1 398.6h1.8v1.8h-1.8zM135.6 397.4h1.8v1.8h-1.8zM127.6 417.6h1.8v1.8h-1.8zM146.0 390.5h1.8v1.8h-1.8zM155.4 394.6h1.8v1.8h-1.8zM141.1 395.9h1.8v1.8h-1.8zM137.5 400.8h1.8v1.8h-1.8zM156.8 423.2h1.8v1.8h-1.8z"/>
<path fill="#fdb863" d="M113.4 405.1h1.8v1.8h-1.8zM79.8 439.2h1.8v1.8h-1.8zM75.3 419.6h1.8v1.8h-1.8zM93.4 384.9h1.8v1.8h-1.8zM104.6 435.3h1.8v1.8h-1.8zM113.7 442.2h1.8v1.8h-1.8zM95.9 452.5h1.8v1.8h-1.8zM81.5 450.2h1.8v1.8h-1.8zM87.3 417.1h1.8v1.8h-1.8zM87.9 416.3h1.8v1.8h-1.8zM110.2 418.6h1.8v1.8h-1.8zM98.8 415.1h1.8v1.8h-1.8zM90.5 379.4h1.8v1.8h-1.8zM87.9 433.6h1.8v1.8h-1.8zM71.6 413.2h1.8v1.8h-1.8zM85.6 435.4h1.8v1.8h-1.8zM118.4 454.7h1.8v1.8h-1.8zM94.9 411.1h1.8v1.8h-1.8zM106.0 440.2h1.8v1.8h-1.8zM95.6 386.3h1.8v1.8h-1.8zM100.4 440.5h1.8v1.8h-1.8zM88.3 408.0h1.8v1.8h-1.8zM104.1 401.7h1.8v1.8h-1.8zM121.1 413.9h1.8v1.8h-1.8zM81.8 454.8h1.8v1.8h-1.8zM125.7 421.0h1.8v1.8h-1.8zM75.0 403.6h1.8v1.8h-1.8zM89.1 457.1h1.8v1.8h-1.8zM84.5 428.5h1.8v1.8h-1.8zM95.8 414.5h1.8v1.8h-1.8zM98.0 424.5h1.8v1.8h-1.8zM77.2 419.0h1.8v1.8h-1.8zM76.8 432.3h1.8v1.8h-1.8zM122.3 451.9h1.8v1.8h-1.8zM118.1 415.4h1.8v1.8h-1.8zM88.5 400.7h1.8v1.8h-1.8zM99.6 410.5h1.8v1.8h-1.8zM96.3 416.0h1.8v1.8h-1.8zM92.0 422.4h1.8v1.8h-1.8zM99.8 420.9h1.8v1.8h-1.8zM88.3 400.0h1.8v1.8h-1.8zM102.1 432.6h1.8v1.8h-1.8zM106.4 443.9h1.8v1.8h-1.8zM93.9 419.5h1.8v1.8h-1.8zM74.3 407.6h1.8v1.8h-1.8zM88.6 438.5h1.8v1.8h-1.8zM82.6 415.0h1.8v1.8h-1.8zM89.2 445.3h1.8v1.8h-1.8zM95.9 382.0h1.8v1.8h-1.8zM90.8 441.5h1.8v1.8h-1.8zM103.9 462.0h1.8v1.8h-1.8zM103.5 386.8h1.8v1.8h-1.8zM88.2 404.4h1.8v1.8h-1.8zM107.0 439.5h1.8v1.8h-1.8zM123.1 405.1h1.8v1.8h-1.8zM87.5 452.2h1.8v1.8h-1.8zM84.3 412.7h1.8v1.8h-1.8zM74.6 415.8h1.8v1.8h-1.8zM99.6 416.0h1.8v1.8h-1.8zM123.0 407.7h1.8v1.8h-1.8zM95.9 421.3h1.8v1.8h-1.8zM77.3 451.3h1.8v1.8h-1.8zM76.8 436.5h1.8v1.8h-1.8zM103.9 387.1h1.8v1.8h-1.8zM123.1 450.2h1.8v1.8h-1.8zM94.4 415.5h1.8v1.8h-1.8zM107.6 422.2h1.8v1.8h-1.8zM73.9 410.9h1.8v1.8h-1.8zM103.4 384.3h1.8v1.8h-1.8zM92.7 459.7h1.8v1.8h-1.8zM114.9 455.5h1.8v1.8h-1.8zM80.1 461.6h1.8v1.8h-1.8zM93.4 426.1h1.8v1.8h-1.8zM89.3 410.0h1.8v1.8h-1.8zM78.0 425.2h1.8v1.8h-1.8zM74.8 445.8h1.8v1.8h-1.8zM97.5 462.0h1.8v1.8h-1.8zM106.5 421.2h1.8v1.8h-1.8zM122.1 409.7h1.8v1.8h-1.8zM112.1 403.7h1.8v1.8h-1.8zM107.6 403.5h1.8v1.8h-1.8zM134.7 414.6h1.8v1.8h-1.8zM78.6 415.0h1.8v1.8h-1.8zM120.3 428.0h1.8v1.8h-1.8zM95.8 455.8h1.8v1.8h-1.8zM85.3 452.1h1.8v1.8h-1.8zM78.2 447.8h1.8v1.8h-1.8zM89.2 460.3h1.8v1.8h-1.8zM125.4 439.8h1.8v1.8h-1.8zM70.6 418.0h1.8v1.8h-1.8zM110.8 427.9h1.8v1.8h-1.8zM105.8 456.7h1.8v1.8h-1.8zM110.7 409.1h1.8v1.8h-1.8zM121.5 430.5h1.8v1.8h-1.8zM114.7 425.2h1.8v1.8h-1.8zM91.8 407.6h1.8v1.8h-1.8zM122.5 418.9h1.8v1.8h-1.8zM84.4 459.2h1.8v1.8h-1.8zM78.4 436.9h1.8v1.8h-1.8zM114.5 458.9h1.8v1.8h-1.8zM89.8 462.4h1.8v1.8h-1.8zM98.7 414.6h1.8v1.8h-1.8zM119.6 439.3h1.8v1.8h-1.8zM112.9 412.8h1.8v1.8h-1.8z"/>
<path fill="#fee0b6" d="M59.9 426.8h1.8v1.8h-1.8zM34.9 431.8h1.8v1.8h-1.8zM43.0 431.8h1.8v1.8h-1.8zM30.9 429.5h1.8v1.8h-1.8zM37.1 429.7h1.8v1.8h-1.8zM22.4 424.4h1.8v1.8h-1.8zM60.8 450.3h1.8v1.8h-1.8zM29.3 431.8h1.8v1.8h-1.8zM25.2 423.6h1.8v1.8h-1.8zM42.6 424.7h1.8v1.8h-1.8zM26.6 432.8h1.8v1.8h-1.8zM37.5 422.2h1.8v1.8h-1.8zM61.3 431.6h1.8v1.8h-1.8zM57.9 463.9h1.8v1.8h-1.8zM49.4 447.5h1.8v1.8h-1.8zM62.1 447.5h1.8v1.8h-1.8zM56.1 462.9h1.8v1.8h-1.8zM40.9 447.2h1.8v1.8h-1.8zM55.0 433.4h1.8v1.8h-1.8zM28.4 427.0h1.8v1.8h-1.8zM38.5 458.6h1.8v1.8h-1.8zM55.1 432.7h1.8v1.8h-1.8zM49.2 451.4h1.8v1.8h-1.8zM45.4 429.3h1.8v1.8h-1.8zM35.5 431.5h1.8v1.8h-1.8zM29.7 446.2h1.8v1.8h-1.8zM61.0 462.2h1.8v1.8h-1.8zM41.9 452.0h1.8v1.8h-1.8zM40.3 460.6h1.8v1.8h-1.8zM40.8 455.6h1.8v1.8h-1.8zM32.8 425.5h1.8v1.8h-1.8zM60.9 434.7h1.8v1.8h-1.8zM26.4 425.2h1.8v1.8h-1.8zM41.9 433.4h1.8v1.8h-1.8zM36.1 425.8h1.8v1.8h-1.8zM45.4 441.2h1.8v1.8h-1.8z"/>
<path fill="#d8daeb" d="M97.4 350.0h1.8v1.8h-1.8zM105.5 342.1h1.8v1.8h-1.8zM69.5 360.2h1.8v1.8h-1.8zM93.7 374.0h1.8v1.8h-1.8zM130.4 364.2h1.8v1.8h-1.8zM102.9 367.8h1.8v1.8h-1.8zM115.7 367.7h1.8v1.8h-1.8zM99.6 347.7h1.8v1.8h-1.8zM81.8 373.7h1.8v1.8h-1.8zM110.9 362.8h1.8v1.8h-1.8zM90.3 373.5h1.8v1.8h-1.8zM85.1 364.0h1.8v1.8h-1.8zM74.3 350.5h1.8v1.8h-1.8zM99.4 345.8h1.8v1.8h-1.8zM111.9 343.8h1.8v1.8h-1.8zM121.4 365.9h1.8v1.8h-1.8zM111.3 346.3h1.8v1.8h-1.8zM100.3 344.1h1.8v1.8h-1.8zM83.4 362.4h1.8v1.8h-1.8zM90.6 346.1h1.8v1.8h-1.8zM82.1 356.0h1.8v1.8h-1.8zM119.7 357.4h1.8v1.8h-1.8zM100.0 371.8h1.8v1.8h-1.8zM110.5 351.5h1.8v1.8h-1.8zM124.2 368.2h1.8v1.8h-1.8zM113.0 356.0h1.8v1.8h-1.8zM122.9 373.6h1.8v1.8h-1.8zM97.8 349.7h1.8v1.8h-1.8zM130.4 362.1h1.8v1.8h-1.8zM74.3 368.6h1.8v1.8h-1.8zM115.4 352.5h1.8v1.8h-1.8zM92.5 356.7h1.8v1.8h-1.8zM73.5 349.6h1.8v1.8h-1.8zM88.2 370.6h1.8v1.8h-1.8zM81.5 374.5h1.8v1.8h-1.8zM82.4 366.6h1.8v1.8h-1.8zM89.7 348.1h1.8v1.8h-1.8zM90.5 355.7h1.8v1.8h-1.8zM135.9 374.1h1.8v1.8h-1.8zM95.4 352.8h1.8v1.8h-1.8zM96.2 367.6h1.8v1.8h-1.8zM90.2 352.2h1.8v1.8h-1.8zM82.0 357.4h1.8v1.8h-1.8zM76.4 376.4h1.8v1.8h-1.8zM102.0 343.1h1.8v1.8h-1.8zM100.9 369.5h1.8v1.8h-1.8zM109.7 361.7h1.8v1.8h-1.8zM104.4 347.1h1.8v1.8h-1.8z"/>
<path fill="#b2abd2" d="M102.1 394.8h1.8v1.8h-1.8zM105.2 396.0h1.8v1.8h-1.8zM117.9 390.0h1.8v1.8h-1.8zM101.6 368.3h1.8v1.8h-1.8zM121.3 388.5h1.8v1.8h-1.8zM86.5 389.1h1.8v1.8h-1.8zM89.2 372.3h1.8v1.8h-1.8zM104.7 369.2h1.8v1.8h-1.8zM117.4 387.9h1.8v1.8h-1.8zM133.9 391.9h1.8v1.8h-1.8zM113.0 397.2h1.8v1.8h-1.8zM85.0 387.1h1.8v1.8h-1.8zM119.9 377.5h1.8v1.8h-1.8zM128.7 385.9h1.8v1.8h-1.8zM113.7 391.4h1.8v1.8h-1.8zM127.3 389.5h1.8v1.8h-1.8zM91.9 391.5h1.8v1.8h-1.8zM125.0 389.2h1.8v1.8h-1.8zM110.6 378.4h1.8v1.8h-1.8zM138.2 385.0h1.8v1.8h-1.8zM134.1 373.3h1.8v1.8h-1.8zM87.3 387.9h1.8v1.8h-1.8zM112.9 380.3h1.8v1.8h-1.8zM137.1 383.3h1.8v1.8h-1.8zM99.5 386.9h1.8v1.8h-1.8zM98.3 397.1h1.8v1.8h-1.8zM99.5 385.3h1.8v1.8h-1.8zM99.4 373.9h1.8v1.8h-1.8zM83.9 381.3h1.8v1.8h-1.8zM120.6 384.9h1.8v1.8h-1.8zM93.9 380.9h1.8v1.8h-1.8zM88.1 387.7h1.8v1.8h-1.8zM129.8 383.8h1.8v1.8h-1.8zM92.2 379.5h1.8v1.8h-1.8zM121.8 390.0h1.8v1.8h-1.8zM132.6 387.3h1.8v1.8h-1.8zM121.6 394.5h1.8v1.8h-1.8zM92.1 396.3h1.8v1.8h-1.8zM90.1 369.7h1.8v1.8h-1.8zM99.1 396.0h1.8v1.8h-1.8zM94.3 389.0h1.8v1.8h-1.8zM101.6 390.2h1.8v1.8h-1.8zM124.0 387.3h1.8v1.8h-1.8zM135.7 400.8h1.8v1.8h-1.8zM136.2 381.5h1.8v1.8h-1.8zM107.3 380.8h1.8v1.8h-1.8zM118.4 399.4h1.8v1.8h-1.8zM95.4 380.2h1.8v1.8h-1.8z"/>
<path fill="#8073ac" d="M68.8 396.9h1.8v1.8h-1.8zM75.6 397.1h1.8v1.8h-1.8zM76.8 421.1h1.8v1.8h-1.8zM66.1 411.2h1.8v1.8h-1.8zM55.6 393.8h1.8v1.8h-1.8zM76.4 399.8h1.8v1.8h-1.8zM78.3 390.2h1.8v1.8h-1.8zM77.1 405.5h1.8v1.8h-1.8zM75.8 398.3h1.8v1.8h-1.8zM78.9 421.1h1.8v1.8h-1.8zM75.5 413.7h1.8v1.8h-1.8zM66.6 405.2h1.8v1.8h-1.8zM81.4 397.2h1.8v1.8h-1.8zM77.2 419.5h1.8v1.8h-1.8zM84.1 408.3h1.8v1.8h-1.8zM66.1 384.0h1.8v1.8h-1.8zM68.0 420.3h1.8v1.8h-1.8zM72.4 400.7h1.8v1.8h-1.8zM78.7 393.7h1.8v1.8h-1.8zM76.5 411.6h1.8v1.8h-1.8zM66.9 420.9h1.8v1.8h-1.8zM71.5 451.4h1.8v1.8h-1.8zM61.7 402.3h1.8v1.8h-1.8zM74.5 403.5h1.8v1.8h-1.8zM78.9 407.9h1.8v1.8h-1.8zM70.2 440.7h1.8v1.8h-1.8zM67.7 393.7h1.8v1.8h-1.8zM77.2 390.7h1.8v1.8h-1.8zM75.5 428.3h1.8v1.8h-1.8zM72.7 422.4h1.8v1.8h-1.8zM74.0 398.1h1.8v1.8h-1.8zM69.8 415.9h1.8v1.8h-1.8zM60.6 388.7h1.8v1.8h-1.8zM77.3 442.4h1.8v1.8h-1.8zM73.1 399.1h1.8v1.8h-1.8zM77.3 414.4h1.8v1.8h-1.8zM86.0 410.2h1.8v1.8h-1.8zM77.0 409.2h1.8v1.8h-1.8zM83.6 419.0h1.8v1.8h-1.8zM59.6 387.4h1.8v1.8h-1.8zM71.3 402.1h1.8v1.8h-1.8zM68.5 394.9h1.8v1.8h-1.8zM65.8 389.5h1.8v1.8h-1.8zM66.4 411.9h1.8v1.8h-1.8z"/>
<path fill="#b35806" d="M68.6 386.0h1.8v1.8h-1.8zM25.8 392.0h1.8v1.8h-1.8zM48.3 366.6h1.8v1.8h-1.8zM37.3 405.7h1.8v1.8h-1.8zM42.8 365.7h1.8v1.8h-1.8zM39.6 387.7h1.8v1.8h-1.8zM45.5 364.7h1.8v1.8h-1.8zM34.9 388.2h1.8v1.8h-1.8zM31.3 391.9h1.8v1.8h-1.8zM39.9 373.3h1.8v1.8h-1.8zM52.0 395.3h1.8v1.8h-1.8zM69.0 340.4h1.8v1.8h-1.8zM42.4 356.8h1.8v1.8h-1.8zM33.8 366.7h1.8v1.8h-1.8zM33.0 387.1h1.8v1.8h-1.8zM37.0 378.0h1.8v1.8h-1.8zM37.5 380.0h1.8v1.8h-1.8zM51.3 389.1h1.8v1.8h-1.8zM61.6 401.3h1.8v1.8h-1.8zM59.7 350.9h1.8v1.8h-1.8zM32.1 397.3h1.8v1.8h-1.8zM59.3 406.5h1.8v1.8h-1.8zM52.9 376.9h1.8v1.8h-1.8zM27.0 376.1h1.8v1.8h-1.8zM54.6 348.5h1.8v1.8h-1.8zM58.7 417.3h1.8v1.8h-1.8zM66.9 389.5h1.8v1.8h-1.8zM58.6 345.4h1.8v1.8h-1.8zM54.7 408.1h1.8v1.8h-1.8zM70.9 376.3h1.8v1.8h-1.8zM68.0 343.9h1.8v1.8h-1.8zM31.7 370.0h1.8v1.8h-1.8zM59.0 363.0h1.8v1.8h-1.8zM54.7 421.4h1.8v1.8h-1.8zM32.2 389.8h1.8v1.8h-1.8zM45.2 407.9h1.8v1.8h-1.8zM56.7 415.0h1.8v1.8h-1.8zM41.4 353.0h1.8v1.8h-1.8zM44.3 354.1h1.8v1.8h-1.8zM43.1 360.1h1.8v1.8h-1.8zM31.3 384.8h1.8v1.8h-1.8zM35.3 388.8h1.8v1.8h-1.8zM58.2 352.9h1.8v1.8h-1.8zM33.4 360.2h1.8v1.8h-1.8zM31.8 374.5h1.8v1.8h-1.8zM58.2 405.8h1.8v1.8h-1.8zM38.7 359.7h1.8v1.8h-1.8zM43.3 401.3h1.8v1.8h-1.8zM45.8 365.5h1.8v1.8h-1.8zM27.3 400.0h1.8v1.8h-1.8zM67.8 385.2h1.8v1.8h-1.8zM42.3 356.0h1.8v1.8h-1.8zM52.8 379.3h1.8v1.8h-1.8zM26.2 395.5h1.8v1.8h-1.8zM40.2 396.7h1.8v1.8h-1.8zM53.3 369.9h1.8v1.8h-1.8zM48.2 348.2h1.8v1.8h-1.8zM32.3 405.5h1.8v1.8h-1.8zM55.6 382.1h1.8v1.8h-1.8zM59.2 380.3h1.8v1.8h-1.8zM56.9 373.0h1.8v1.8h-1.8zM37.7 407.3h1.8v1.8h-1.8zM57.8 379.7h1.8v1.8h-1.8zM55.1 365.4h1.8v1.8h-1.8zM63.6 343.5h1.8v1.8h-1.8zM56.7 347.7h1.8v1.8h-1.8zM27.5 376.9h1.8v1.8h-1.8zM28.2 399.8h1.8v1.8h-1.8zM38.2 361.1h1.8v1.8h-1.8zM65.1 370.4h1.8v1.8h-1.8zM43.1 394.7h1.8v1.8h-1.8zM53.6 356.1h1.8v1.8h-1.8zM39.3 355.7h1.8v1.8h-1.8zM52.0 416.9h1.8v1.8h-1.8zM43.9 368.4h1.8v1.8h-1.8zM66.1 366.8h1.8v1.8h-1.8zM44.8 361.6h1.8v1.8h-1.8zM29.2 383.9h1.8v1.8h-1.8zM52.9 394.3h1.8v1.8h-1.8zM37.6 415.9h1.8v1.8h-1.8zM49.6 416.5h1.8v1.8h-1.8zM63.0 377.2h1.8v1.8h-1.8zM63.0 355.7h1.8v1.8h-1.8zM52.1 407.4h1.8v1.8h-1.8zM37.7 406.3h1.8v1.8h-1.8zM65.5 342.3h1.8v1.8h-1.8zM32.5 375.7h1.8v1.8h-1.8zM50.4 393.3h1.8v1.8h-1.8zM67.6 344.3h1.8v1.8h-1.8zM62.4 342.7h1.8v1.8h-1.8zM44.9 403.2h1.8v1.8h-1.8zM52.6 406.5h1.8v1.8h-1.8zM66.9 356.1h1.8v1.8h-1.8zM60.1 355.5h1.8v1.8h-1.8zM69.2 347.7h1.8v1.8h-1.8zM43.6 417.1h1.8v1.8h-1.8zM65.4 383.1h1.8v1.8h-1.8zM58.9 387.4h1.8v1.8h-1.8z"/>
<path fill="#e08214" d="M131.0 417.2h1.8v1.8h-1.8zM149.1 386.9h1.8v1.8h-1.8zM148.2 407.7h1.8v1.8h-1.8zM147.9 409.1h1.8v1.8h-1.8zM149.0 434.0h1.8v1.8h-1.8zM152.7 383.6h1.8v1.8h-1.8zM158.4 405.5h1.8v1.8h-1.8zM145.2 392.7h1.8v1.8h-1.8zM148.3 431.2h1.8v1.8h-1.8zM150.1 375.1h1.8v1.8h-1.8zM142.6 428.5h1.8v1.8h-1.8zM151.9 438.5h1.8v1.8h-1.8zM153.6 405.4h1.8v1.8h-1.8zM128.8 409.1h1.8v1.8h-1.8zM155.7 442.3h1.8v1.8h-1.8zM134.6 386.3h1.8v1.8h-1.8zM155.1 398.3h1.8v1.8h-1.8zM135.0 425.5h1.8v1.8h-1.8zM132.6 384.6h1.8v1.8h-1.8zM139.2 446.3h1.8v1.8h-1.8zM155.5 404.9h1.8v1.8h-1.8zM143.0 418.4h1.8v1.8h-1.8zM141.4 424.5h1.8v1.8h-1.8zM149.8 377.6h1.8v1.8h-1.8zM133.5 420.6h1.8v1.8h-1.8zM131.8 379.2h1.8v1.8h-1.8zM149.4 373.4h1.8v1.8h-1.8zM149.0 393.7h1.8v1.8h-1.8zM158.7 433.1h1.8v1.8h-1.8zM130.7 404.3h1.8v1.8h-1.8zM160.1 393.6h1.8v1.8h-1.8zM156.7 380.6h1.8v1.8h-1.8zM147.3 431.5h1.8v1.8h-1.8zM137.2 406.3h1.8v1.8h-1.8zM159.0 403.6h1.8v1.8h-1.8zM151.4 402.8h1.8v1.8h-1.8zM144.6 395.9h1.8v1.8h-1.8zM160.2 391.0h1.8v1.8h-1.8zM130.1 436.7h1.8v1.8h-1.8zM144.3 423.6h1.8v1.8h-1.8zM143.4 376.2h1.8v1.8h-1.8zM140.6 420.0h1.8v1.8h-1.8zM142.6 395.9h1.8v1.8h-1.8zM161.1 428.0h1.8v1.8h-1.8zM151.2 421.6h1.8v1.8h-1.8zM140.6 450.6h1.8v1.8h-1.8zM135.9 392.0h1.8v1.8h-1.8zM134.3 436.9h1.8v1.8h-1.8zM151.5 384.1h1.8v1.8h-1.8zM154.1 404.3h1.8v1.8h-1.8zM143.3 446.4h1.8v1.8h-1.8zM131.0 445.0h1.8v1.8h-1.8zM147.0 418.8h1.8v1.8h-1.8zM146.1 385.1h1.8v1.8h-1.8zM159.2 417.4h1.8v1.8h-1.8zM131.1 381.3h1.8v1.8h-1.8zM128.4 426.5h1.8v1.8h-1.8zM142.0 431.7h1.8v1.8h-1.8zM129.5 401.7h1.8v1.8h-1.8zM156.6 410.2h1.8v1.8h-1.8zM142.8 399.8h1.8v1.8h-1.8zM143.2 402.9h1.8v1.8h-1.8zM134.0 397.0h1.8v1.8h-1.8zM156.8 419.8h1.8v1.8h-1.8zM143.1 410.2h1.8v1.8h-1.8zM149.5 390.4h1.8v1.8h-1.8zM145.5 426.0h1.8v1.8h-1.8zM145.2 448.6h1.8v1.8h-1.8zM144.1 451.0h1.8v1.8h-1.8zM155.4 380.2h1.8v1.8h-1.8zM144.1 388.3h1.8v1.8h-1.8zM143.6 427.0h1.8v1.8h-1.8zM139.4 370.8h1.8v1.8h-1.8zM156.4 429.4h1.8v1.8h-1.8zM145.9 379.6h1.8v1.8h-1.8zM155.4 431.2h1.8v1.8h-1.8zM137.5 438.1h1.8v1.8h-1.8zM138.9 441.8h1.8v1.8h-1.8zM130.3 407.0h1.8v1.8h-1.8zM126.5 414.5h1.8v1.8h-1.8zM125.9 427.2h1.8v1.8h-1.8zM153.9 403.4h1.8v1.8h-1.8zM130.1 378.1h1.8v1.8h-1.8zM135.2 421.5h1.8v1.8h-1.8zM141.3 403.7h1.8v1.8h-1.8zM151.9 413.0h1.8v1.8h-1.8zM139.2 374.1h1.8v1.8h-1.8zM143.8 385.7h1.8v1.8h-1.8zM147.2 436.8h1.8v1.8h-1.8zM146.5 432.3h1.8v1.8h-1.8zM151.2 443.7h1.8v1.8h-1.8zM129.5 431.9h1.8v1.8h-1.8zM158.4 408.7h1.8v1.8h-1.8zM134.8 381.1h1.8v1.8h-1.8zM136.8 437.4h1.8v1.8h-1.8zM153.9 393.3h1.8v1.8h-1.8z"/>
<path fill="#fdb863" d="M90.3 429.3h1.8v1.8h-1.8zM125.7 445.2h1.8v1.8h-1.8zM123.7 407.5h1.8v1.8h-1.8zM111.1 460.7h1.8v1.8h-1.8zM108.4 410.9h1.8v1.8h-1.8zM105.6 432.7h1.8v1.8h-1.8zM86.5 433.9h1.8v1.8h-1.8zM95.3 385.5h1.8v1.8h-1.8zM98.6 438.8h1.8v1.8h-1.8zM121.1 403.0h1.8v1.8h-1.8zM85.3 443.7h1.8v1.8h-1.8zM109.1 450.9h1.8v1.8h-1.8zM84.1 450.2h1.8v1.8h-1.8zM84.8 440.7h1.8v1.8h-1.8zM74.0 447.2h1.8v1.8h-1.8zM98.4 462.7h1.8v1.8h-1.8zM108.6 410.0h1.8v1.8h-1.8zM112.1 422.8h1.8v1.8h-1.8zM118.4 403.9h1.8v1.8h-1.8zM123.6 414.4h1.8v1.8h-1.8zM80.8 454.9h1.8v1.8h-1.8zM108.3 432.6h1.8v1.8h-1.8zM79.8 405.1h1.8v1.8h-1.8zM99.3 404.5h1.8v1.8h-1.8zM101.4 458.7h1.8v1.8h-1.8zM105.3 416.9h1.8v1.8h-1.8zM69.8 417.8h1.8v1.8h-1.8zM86.1 426.6h1.8v1.8h-1.8zM84.9 456.1h1.8v1.8h-1.8zM102.9 454.6h1.8v1.8h-1.8zM85.4 436.7h1.8v1.8h-1.8zM109.3 425.1h1.8v1.8h-1.8zM118.1 451.4h1.8v1.8h-1.8zM108.6 419.0h1.8v1.8h-1.8zM120.7 425.4h1.8v1.8h-1.8zM118.4 440.6h1.8v1.8h-1.8zM90.7 412.8h1.8v1.8h-1.8zM109.0 431.2h1.8v1.8h-1.8zM92.7 448.7h1.8v1.8h-1.8zM95.0 407.7h1.8v1.8h-1.8zM73.8 434.6h1.8v1.8h-1.8zM115.4 405.7h1.8v1.8h-1.8zM118.0 415.7h1.8v1.8h-1.8zM88.3 415.8h1.8v1.8h-1.8zM87.8 450.9h1.8v1.8h-1.8zM76.2 447.5h1.8v1.8h-1.8zM88.8 376.3h1.8v1.8h-1.8zM123.2 404.4h1.8v1.8h-1.8zM115.5 406.7h1.8v1.8h-1.8zM79.2 447.3h1.8v1.8h-1.8zM109.4 412.1h1.8v1.8h-1.8zM91.1 459.1h1.8v1.8h-1.8zM75.1 430.3h1.8v1.8h-1.8zM77.9 457.2h1.8v1.8h-1.8zM71.3 410.3h1.8v1.8h-1.8zM104.7 433.5h1.8v1.8h-1.8zM102.3 425.7h1.8v1.8h-1.8zM77.9 421.5h1.8v1.8h-1.8zM102.8 411.1h1.8v1.8h-1.8zM90.7 452.1h1.8v1.8h-1.8zM95.2 384.7h1.8v1.8h-1.8zM77.2 418.6h1.8v1.8h-1.8zM110.5 413.8h1.8v1.8h-1.8zM113.9 450.4h1.8v1.8h-1.8zM119.1 426.3h1.8v1.8h-1.8zM104.6 414.7h1.8v1.8h-1.8zM117.4 449.8h1.8v1.8h-1.8zM102.5 421.6h1.8v1.8h-1.8zM124.1 440.6h1.8v1.8h-1.8zM87.1 424.3h1.8v1.8h-1.8zM92.4 421.1h1.8v1.8h-1.8zM86.8 416.3h1.8v1.8h-1.8zM89.7 406.8h1.8v1.8h-1.8zM106.2 441.9h1.8v1.8h-1.8zM83.5 431.5h1.8v1.8h-1.8zM125.0 410.7h1.8v1.8h-1.8zM121.5 451.1h1.8v1.8h-1.8zM124.5 445.2h1.8v1.8h-1.8zM85.4 450.3h1.8v1.8h-1.8zM91.2 433.9h1.8v1.8h-1.8zM125.3 443.0h1.8v1.8h-1.8zM100.0 398.1h1.8v1.8h-1.8zM83.7 449.8h1.8v1.8h-1.8zM102.7 388.7h1.8v1.8h-1.8zM122.3 406.9h1.8v1.8h-1.8zM113.0 442.1h1.8v1.8h-1.8zM118.2 436.0h1.8v1.8h-1.8zM87.3 401.1h1.8v1.8h-1.8zM92.6 436.8h1.8v1.8h-1.8zM83.9 440.1h1.8v1.8h-1.8zM94.1 401.9h1.8v1.8h-1.8zM78.3 419.4h1.8v1.8h-1.8zM89.4 439.5h1.8v1.8h-1.8zM89.4 422.5h1.8v1.8h-1.8zM110.2 441.2h1.8v1.8h-1.8zM113.1 439.3h1.8v1.8h-1.8zM86.0 450.6h1.8v1.8h-1.8zM103.3 441.8h1.8v1.8h-1.8zM110.6 461.1h1.8v1.8h-1.8zM80.9 426.0h1.8v1.8h-1.8zM98.1 461.6h1.8v1.8h-1.8zM112.4 447.9h1.8v1.8h-1.8zM109.0 411.2h1.8v1.8h-1.8zM79.0 461.1h1.8v1.8h-1.8zM72.9 406.3h1.8v1.8h-1.8zM115.3 450.1h1.8v1.8h-1.8zM108.7 403.7h1.8v1.8h-1.8zM92.2 418.4h1.8v1.8h-1.8zM82.6 409.7h1.8v1.8h-1.8zM71.0 403.4h1.8v1.8h-1.8z"/>
<path fill="#fee0b6" d="M57.3 442.2h1.8v1.8h-1.8zM26.2 433.8h1.8v1.8h-1.8zM39.5 460.7h1.8v1.8h-1.8zM24.7 413.1h1.8v1.8h-1.8zM66.9 434.1h1.8v1.8h-1.8zM67.5 454.1h1.8v1.8h-1.8zM27.5 429.2h1.8v1.8h-1.8zM45.2 458.8h1.8v1.8h-1.8zM35.5 450.0h1.8v1.8h-1.8zM35.7 449.6h1.8v1.8h-1.8zM39.8 419.2h1.8v1.8h-1.8zM33.9 449.0h1.8v1.8h-1.8zM66.7 447.1h1.8v1.8h-1.8zM30.2 417.6h1.8v1.8h-1.8zM32.3 417.4h1.8v1.8h-1.8zM46.8 445.0h1.8v1.8h-1.8zM47.7 435.7h1.8v1.8h-1.8zM24.9 414.5h1.8v1.8h-1.8zM67.4 450.2h1.8v1.8h-1.8zM51.0 451.1h1.8v1.8h-1.8zM26.9 430.9h1.8v1.8h-1.8zM46.1 435.8h1.8v1.8h-1.8zM46.9 428.8h1.8v1.8h-1.8zM43.5 440.1h1.8v1.8h-1.8zM47.3 427.1h1.8v1.8h-1.8zM48.0 463.0h1.8v1.8h-1.8zM55.2 434.7h1.8v1.8h-1.8zM49.3 439.7h1.8v1.8h-1.8zM23.5 416.0h1.8v1.8h-1.8zM23.7 429.8h1.8v1.8h-1.8zM45.0 463.1h1.8v1.8h-1.8zM46.9 463.4h1.8v1.8h-1.8zM66.2 446.1h1.8v1.8h-1.8zM58.2 426.3h1.8v1.8h-1.8zM52.5 457.6h1.8v1.8h-1.8zM67.5 457.0h1.8v1.8h-1.8zM63.7 433.8h1.8v1.8h-1.8zM40.1 454.4h1.8v1.8h-1.8zM42.1 436.6h1.8v1.8h-1.8zM46.0 455.5h1.8v1.8h-1.8zM68.5 438.5h1.8v1.8h-1.8zM49.1 446.6h1.8v1.8h-1.8zM63.7 431.7h1.8v1.8h-1.8zM44.6 425.0h1.8v1.8h-1.8zM60.4 430.2h1.8v1.8h-1.8zM36.9 425.0h1.8v1.8h-1.8zM50.8 434.2h1.8v1.8h-1.8zM32.7 417.9h1.8v1.8h-1.8zM45.9 444.7h1.8v1.8h-1.8zM67.8 455.0h1.8v1.8h-1.8zM52.4 460.2h1.8v1.8h-1.8zM58.5 433.8h1.8v1.8h-1.8zM43.7 437.4h1.8v1.8h-1.8zM59.7 445.9h1.8v1.8h-1.8zM41.9 443.4h1.8v1.8h-1.8zM52.4 423.4h1.8v1.8h-1.8zM29.8 447.8h1.8v1.8h-1.8zM30.6 422.7h1.8v1.8h-1.8zM68.9 446.1h1.8v1.8h-1.8zM39.8 454.3h1.8v1.8h-1.8zM57.6 438.4h1.8v1.8h-1.8zM26.4 425.6h1.8v1.8h-1.8z"/>
<path fill="#d8daeb" d="M96.9 366.7h1.8v1.8h-1.8zM89.8 376.6h1.8v1.8h-1.8zM109.0 358.6h1.8v1.8h-1.8zM87.5 339.6h1.8v1.8h-1.8zM112.9 347.1h1.8v1.8h-1.8zM74.3 362.7h1.8v1.8h-1.8zM76.0 378.1h1.8v1.8h-1.8zM73.3 358.7h1.8v1.8h-1.8zM107.3 358.7h1.8v1.8h-1.8zM137.2 372.4h1.8v1.8h-1.8zM107.9 343.6h1.8v1.8h-1.8zM117.5 350.0h1.8v1.8h-1.8zM122.6 368.9h1.8v1.8h-1.8zM126.5 374.1h1.8v1.8h-1.8zM86.5 367.3h1.8v1.8h-1.8zM88.8 352.0h1.8v1.8h-1.8zM101.7 376.0h1.8v1.8h-1.8zM92.9 343.3h1.8v1.8h-1.8zM75.2 376.2h1.8v1.8h-1.8zM115.6 373.2h1.8v1.8h-1.8zM107.0 347.1h1.8v1.8h-1.8zM79.0 375.9h1.8v1.8h-1.8zM79.2 384.8h1.8v1.8h-1.8zM79.4 385.3h1.8v1.8h-1.8zM126.0 359.9h1.8v1.8h-1.8zM112.4 362.1h1.8v1.8h-1.8zM83.9 373.1h1.8v1.8h-1.8zM101.8 358.1h1.8v1.8h-1.8zM83.3 343.4h1.8v1.8h-1.8zM117.0 357.5h1.8v1.8h-1.8zM92.6 354.7h1.8v1.8h-1.8zM89.4 342.2h1.8v1.8h-1.8zM109.9 350.7h1.8v1.8h-1.8zM97.4 367.2h1.8v1.8h-1.8zM122.1 372.0h1.8v1.8h-1.8zM114.0 348.1h1.8v1.8h-1.8zM93.9 353.8h1.8v1.8h-1.8zM87.9 379.3h1.8v1.8h-1.8zM128.0 368.8h1.8v1.8h-1.8zM95.0 361.3h1.8v1.8h-1.8zM99.0 376.2h1.8v1.8h-1.8zM83.7 374.7h1.8v1.8h-1.8zM105.3 350.1h1.8v1.8h-1.8zM95.2 357.1h1.8v1.8h-1.8zM83.5 344.1h1.8v1.8h-1.8zM112.9 360.0h1.8v1.8h-1.8zM123.4 362.4h1.8v1.8h-1.8z"/>
<path fill="#b2abd2" d="M113.1 381.0h1.8v1.8h-1.8zM97.5 372.9h1.8v1.8h-1.8zM132.3 397.3h1.8v1.8h-1.8zM123.3 381.5h1.8v1.8h-1.8zM138.6 393.9h1.8v1.8h-1.8zM102.2 389.3h1.8v1.8h-1.8zM128.5 372.7h1.8v1.8h-1.8zM110.4 386.6h1.8v1.8h-1.8zM100.4 374.7h1.8v1.8h-1.8zM117.5 402.2h1.8v1.8h-1.8zM135.1 380.3h1.8v1.8h-1.8zM132.5 385.0h1.8v1.8h-1.8zM128.2 377.0h1.8v1.8h-1.8zM105.4 369.3h1.8v1.8h-1.8zM131.1 385.6h1.8v1.8h-1.8zM138.5 393.6h1.8v1.8h-1.8zM116.8 404.5h1.8v1.8h-1.8zM120.0 383.0h1.8v1.8h-1.8zM116.0 377.8h1.8v1.8h-1.8zM102.8 377.9h1.8v1.8h-1.8zM103.7 368.8h1.8v1.8h-1.8zM95.6 371.9h1.8v1.8h-1.8zM122.9 384.3h1.8v1.8h-1.8zM93.2 395.3h1.8v1.8h-1.8zM108.6 376.9h1.8v1.8h-1.8zM122.6 388.7h1.8v1.8h-1.8zM96.2 384.6h1.8v1.8h-1.8zM124.3 390.4h1.8v1.8h-1.8zM114.0 403.4h1.8v1.8h-1.8zM136.3 401.3h1.8v1.8h-1.8zM94.9 374.8h1.8v1.8h-1.8zM121.7 375.8h1.8v1.8h-1.8zM114.1 403.8h1.8v1.8h-1.8zM128.0 403.5h1.8v1.8h-1.8zM118.2 393.5h1.8v1.8h-1.8zM121.7 393.6h1.8v1.8h-1.8zM124.4 401.0h1.8v1.8h-1.8zM89.0 378.0h1.8v1.8h-1.8zM90.6 385.9h1.8v1.8h-1.8zM131.5 382.6h1.8v1.8h-1.8zM84.2 372.2h1.8v1.8h-1.8zM91.8 376.1h1.8v1.8h-1.8zM100.4 373.3h1.8v1.8h-1.8zM125.4 378.4h1.8v1.8h-1.8zM97.0 374.5h1.8v1.8h-1.8zM93.1 369.3h1.8v1.8h-1.8zM132.6 372.4h1.8v1.8h-1.8zM105.5 394.6h1.8v1.8h-1.8zM112.4 396.7h1.8v1.8h-1.8zM110.9 385.6h1.8v1.8h-1.8zM130.1 387.8h1.8v1.8h-1.8zM112.8 383.4h1.8v1.8h-1.8zM99.7 376.7h1.8v1.8h-1.8zM118.3 383.4h1.8v1.8h-1.8zM106.4 390.8h1.8v1.8h-1.8zM128.9 400.7h1.8v1.8h-1.8z"/>
<path fill="#8073ac" d="M76.4 417.2h1.8v1.8h-1.8zM77.9 428.6h1.8v1.8h-1.8zM75.9 388.3h1.8v1.8h-1.8zM68.5 400.5h1.8v1.8h-1.8zM80.5 416.8h1.8v1.8h-1.8zM57.6 397.7h1.8v1.8h-1.8zM79.4 399.5h1.8v1.8h-1.8zM80.2 401.2h1.8v1.8h-1.8zM72.6 411.5h1.8v1.8h-1.8zM67.4 420.9h1.8v1.8h-1.8zM83.2 420.9h1.8v1.8h-1.8zM77.7 402.2h1.8v1.8h-1.8zM66.1 403.9h1.8v1.8h-1.8zM72.7 404.1h1.8v1.8h-1.8zM81.5 395.8h1.8v1.8h-1.8zM75.2 412.5h1.8v1.8h-1.8zM66.6 409.8h1.8v1.8h-1.8zM71.1 387.3h1.8v1.8h-1.8zM60.1 410.8h1.8v1.8h-1.8zM84.2 414.8h1.8v1.8h-1.8zM66.8 413.7h1.8v1.8h-1.8zM70.9 418.2h1.8v1.8h-1.8zM71.3 432.9h1.8v1.8h-1.8zM76.5 408.1h1.8v1.8h-1.8zM68.2 418.1h1.8v1.8h-1.8zM58.9 408.5h1.8v1.8h-1.8zM57.7 397.2h1.8v1.8h-1.8zM64.6 383.7h1.8v1.8h-1.8zM63.5 389.1h1.8v1.8h-1.8zM62.2 415.1h1.8v1.8h-1.8zM80.1 426.3h1.8v1.8h-1.8z"/>
<path fill="#b35806" d="M29.1 386.3h1.8v1.8h-1.8zM58.9 366.4h1.8v1.8h-1.8zM28.7 367.9h1.8v1.8h-1.8zM77.8 364.2h1.8v1.8h-1.8zM68.8 355.2h1.8v1.8h-1.8zM60.3 355.4h1.8v1.8h-1.8zM54.8 407.6h1.8v1.8h-1.8zM34.9 371.5h1.8v1.8h-1.8zM69.0 350.1h1.8v1.8h-1.8zM71.8 352.7h1.8v1.8h-1.8zM35.2 400.9h1.8v1.8h-1.8zM35.5 376.9h1.8v1.8h-1.8zM25.7 397.3h1.8v1.8h-1.8zM43.2 361.8h1.8v1.8h-1.8zM75.0 364.8h1.8v1.8h-1.8zM61.6 386.7h1.8v1.8h-1.8zM63.4 363.3h1.8v1.8h-1.8zM50.9 419.0h1.8v1.8h-1.8zM49.4 397.3h1.8v1.8h-1.8zM27.6 398.1h1.8v1.8h-1.8zM48.3 403.0h1.8v1.8h-1.8zM64.3 373.2h1.8v1.8h-1.8zM41.0 399.5h1.8v1.8h-1.8zM44.0 366.7h1.8v1.8h-1.8zM36.5 368.9h1.8v1.8h-1.8zM25.3 396.8h1.8v1.8h-1.8zM30.2 400.6h1.8v1.8h-1.8zM42.2 382.1h1.8v1.8h-1.8zM49.1 418.1h1.8v1.8h-1.8zM45.5 355.7h1.8v1.8h-1.8zM30.7 395.3h1.8v1.8h-1.8zM55.4 385.3h1.8v1.8h-1.8zM54.7 351.1h1.8v1.8h-1.8zM61.1 382.3h1.8v1.8h-1.8zM67.8 340.5h1.8v1.8h-1.8zM57.7 347.4h1.8v1.8h-1.8zM49.4 376.3h1.8v1.8h-1.8zM40.9 381.2h1.8v1.8h-1.8zM53.0 405.5h1.8v1.8h-1.8zM27.1 397.9h1.8v1.8h-1.8zM56.8 421.0h1.8v1.8h-1.8zM44.1 387.1h1.8v1.8h-1.8zM45.9 409.9h1.8v1.8h-1.8zM55.1 406.2h1.8v1.8h-1.8zM44.8 379.7h1.8v1.8h-1.8zM59.0 418.5h1.8v1.8h-1.8zM55.1 365.2h1.8v1.8h-1.8zM43.6 351.5h1.8v1.8h-1.8zM54.0 407.4h1.8v1.8h-1.8zM65.3 361.0h1.8v1.8h-1.8zM63.1 393.2h1.8v1.8h-1.8zM59.7 355.6h1.8v1.8h-1.8zM49.9 371.6h1.8v1.8h-1.8zM55.9 404.0h1.8v1.8h-1.8zM61.8 364.6h1.8v1.8h-1.8zM56.2 350.8h1.8v1.8h-1.8zM65.5 350.1h1.8v1.8h-1.8zM31.5 379.3h1.8v1.8h-1.8zM69.0 350.5h1.8v1.8h-1.8zM39.5 390.0h1.8v1.8h-1.8zM42.8 395.4h1.8v1.8h-1.8zM59.1 395.3h1.8v1.8h-1.8zM52.2 415.1h1.8v1.8h-1.8zM50.7 420.1h1.8v1.8h-1.8zM59.6 397.5h1.8v1.8h-1.8zM36.2 392.5h1.8v1.8h-1.8zM53.2 387.6h1.8v1.8h-1.8zM65.2 389.7h1.8v1.8h-1.8zM54.8 403.8h1.8v1.8h-1.8zM63.5 365.6h1.8v1.8h-1.8zM32.9 374.2h1.8v1.8h-1.8zM56.4 391.0h1.8v1.8h-1.8zM46.6 393.9h1.8v1.8h-1.8zM41.8 395.3h1.8v1.8h-1.8zM42.5 371.1h1.8v1.8h-1.8zM63.7 347.6h1.8v1.8h-1.8zM32.6 413.2h1.8v1.8h-1.8zM67.1 387.8h1.8v1.8h-1.8zM29.5 384.4h1.8v1.8h-1.8zM35.9 409.8h1.8v1.8h-1.8zM40.6 407.4h1.8v1.8h-1.8zM59.5 376.2h1.8v1.8h-1.8zM70.4 377.9h1.8v1.8h-1.8zM56.7 362.0h1.8v1.8h-1.8zM48.1 385.0h1.8v1.8h-1.8zM61.5 359.4h1.8v1.8h-1.8zM35.8 367.0h1.8v1.8h-1.8zM41.2 360.2h1.8v1.8h-1.8zM24.6 393.9h1.8v1.8h-1.8zM51.3 353.1h1.8v1.8h-1.8zM42.8 395.4h1.8v1.8h-1.8zM25.9 384.8h1.8v1.8h-1.8zM60.9 362.9h1.8v1.8h-1.8zM59.9 393.2h1.8v1.8h-1.8zM73.6 368.2h1.8v1.8h-1.8zM62.8 361.0h1.8v1.8h-1.8zM43.0 400.2h1.8v1.8h-1.8zM46.9 348.4h1.8v1.8h-1.8zM30.3 400.6h1.8v1.8h-1.8zM62.8 351.9h1.8v1.8h-1.8zM51.6 415.6h1.8v1.8h-1.8zM27.7 380.7h1.8v1.8h-1.8zM74.0 357.1h1.8v1.8h-1.8zM28.6 372.4h1.8v1.8h-1.8zM44.4 413.5h1.8v1.8h-1.8zM65.3 382.9h1.8v1.8h-1.8z"/>
<path fill="#e08214" d="M153.3 418.9h1.8v1.8h-1.8zM130.9 426.8h1.8v1.8h-1.8zM141.2 382.2h1.8v1.8h-1.8zM136.0 425.5h1.8v1.8h-1.8zM143.7 414.1h1.8v1.8h-1.8zM143.8 438.1h1.8v1.8h-1.8zM156.8 432.0h1.8v1.8h-1.8zM137.1 385.8h1.8v1.8h-1.8zM128.4 414.2h1.8v1.8h-1.8zM147.5 389.2h1.8v1.8h-1.8zM145.2 436.6h1.8v1.8h-1.8zM134.0 396.9h1.8v1.8h-1.8zM143.9 441.2h1.8v1.8h-1.8zM162.7 394.0h1.8v1.8h-1.8zM125.0 432.9h1.8v1.8h-1.8zM128.1 435.8h1.8v1.8h-1.8zM161.0 427.8h1.8v1.8h-1.8zM126.3 418.7h1.8v1.8h-1.8zM153.7 384.9h1.8v1.8h-1.8zM148.5 417.5h1.8v1.8h-1.8zM140.6 420.8h1.8v1.8h-1.8zM143.0 425.0h1.8v1.8h-1.8zM143.8 428.7h1.8v1.8h-1.8zM144.2 441.3h1.8v1.8h-1.8zM127.2 416.8h1.8v1.8h-1.8zM134.0 419.0h1.8v1.8h-1.8zM147.1 391.3h1.8v1.8h-1.8zM154.7 405.0h1.8v1.8h-1.8zM152.6 433.6h1.8v1.8h-1.8zM149.8 382.2h1.8v1.8h-1.8zM150.8 419.7h1.8v1.8h-1.8zM134.3 426.1h1.8v1.8h-1.8zM158.2 404.7h1.8v1.8h-1.8zM159.8 396.1h1.8v1.8h-1.8zM135.7 416.0h1.8v1.8h-1.8zM139.3 422.4h1.8v1.8h-1.8zM126.5 441.1h1.8v1.8h-1.8zM161.7 435.7h1.8v1.8h-1.8zM128.1 413.3h1.8v1.8h-1.8zM134.8 402.4h1.8v1.8h-1.8zM150.1 390.8h1.8v1.8h-1.8zM145.5 383.0h1.8v1.8h-1.8zM152.2 387.3h1.8v1.8h-1.8zM134.0 382.5h1.8v1.8h-1.8zM131.0 408.4h1.8v1.8h-1.8zM143.7 442.8h1.8v1.8h-1.8zM135.9 410.4h1.8v1.8h-1.8zM164.0 413.3h1.8v1.8h-1.8zM160.8 418.0h1.8v1.8h-1.8zM151.6 434.0h1.8v1.8h-1.8zM146.7 432.5h1.8v1.8h-1.8zM130.6 419.7h1.8v1.8h-1.8zM140.1 427.5h1.8v1.8h-1.8zM129.8 384.0h1.8v1.8h-1.8zM150.7 379.9h1.8v1.8h-1.8zM142.3 419.4h1.8v1.8h-1.8zM155.1 420.5h1.8v1.8h-1.8zM143.2 424.9h1.8v1.8h-1.8zM145.9 377.7h1.8v1.8h-1.8zM160.8 409.6h1.8v1.8h-1.8zM152.7 399.5h1.8v1.8h-1.8zM160.3 427.4h1.8v1.8h-1.8zM143.0 425.2h1.8v1.8h-1.8zM125.9 427.4h1.8v1.8h-1.8zM129.4 439.7h1.8v1.8h-1.8zM126.3 415.0h1.8v1.8h-1.8zM138.9 394.7h1.8v1.8h-1.8zM139.3 405.5h1.8v1.8h-1.8zM161.4 392.9h1.8v1.8h-1.8zM146.0 415.1h1.8v1.8h-1.8zM141.7 387.1h1.8v1.8h-1.8zM157.8 414.4h1.8v1.8h-1.8zM140.7 417.3h1.8v1.8h-1.8zM146.5 423.6h1.8v1.8h-1.8zM137.8 420.8h1.8v1.8h-1.8zM149.2 390.0h1.8v1.8h-1.8zM141.0 442.5h1.8v1.8h-1.8zM145.3 379.4h1.8v1.8h-1.8zM149.4 399.1h1.8v1.8h-1.8zM131.6 412.3h1.8v1.8h-1.8zM144.1 384.8h1.8v1.8h-1.8zM148.2 380.8h1.8v1.8h-1.8zM129.5 416.9h1.8v1.8h-1.8zM132.7 449.4h1.8v1.8h-1.8zM126.5 408.6h1.8v1.8h-1.8zM164.6 402.6h1.8v1.8h-1.8zM141.5 399.3h1.8v1.8h-1.8zM126.5 425.8h1.8v1.8h-1.8zM145.8 404.3h1.8v1.8h-1.8zM137.0 429.6h1.8v1.8h-1.8zM155.4 412.5h1.8v1.8h-1.8zM128.8 405.6h1.8v1.8h-1.8zM136.8 418.9h1.8v1.8h-1.8zM152.2 443.0h1.8v1.8h-1.8zM132.8 420.0h1.8v1.8h-1.8zM130.8 401.9h1.8v1.8h-1.8zM154.6 411.2h1.8v1.8h-1.8zM133.1 451.3h1.8v1.8h-1.8zM135.6 431.7h1.8v1.8h-1.8zM134.8 422.5h1.8v1.8h-1.8zM150.5 381.9h1.8v1.8h-1.8zM126.1 421.7h1.8v1.8h-1.8zM163.6 411.5h1.8v1.8h-1.8zM166.3 413.3h1.8v1.8h-1.8zM141.4 436.1h1.8v1.8h-1.8z"/>
<path fill="#fdb863" d="M125.9 411.6h1.8v1.8h-1.8zM76.2 438.0h1.8v1.8h-1.8zM106.1 417.0h1.8v1.8h-1.8zM92.5 403.2h1.8v1.8h-1.8zM125.9 453.5h1.8v1.8h-1.8zM90.9 403.4h1.8v1.8h-1.8zM93.1 401.2h1.8v1.8h-1.8zM82.7 398.4h1.8v1.8h-1.8zM92.9 419.7h1.8v1.8h-1.8zM119.7 435.4h1.8v1.8h-1.8zM84.5 458.6h1.8v1.8h-1.8zM94.6 456.9h1.8v1.8h-1.8zM95.9 462.2h1.8v1.8h-1.8zM95.4 428.2h1.8v1.8h-1.8zM109.1 423.4h1.8v1.8h-1.8zM74.7 435.5h1.8v1.8h-1.8zM102.0 422.5h1.8v1.8h-1.8zM95.3 438.5h1.8v1.8h-1.8zM86.2 397.2h1.8v1.8h-1.8zM99.8 411.5h1.8v1.8h-1.8zM124.6 429.9h1.8v1.8h-1.8zM73.4 396.1h1.8v1.8h-1.8zM79.5 419.1h1.8v1.8h-1.8zM112.9 442.7h1.8v1.8h-1.8zM96.8 438.6h1.8v1.8h-1.8zM113.1 420.6h1.8v1.8h-1.8zM90.7 383.7h1.8v1.8h-1.8zM113.2 446.8h1.8v1.8h-1.8zM99.8 406.0h1.8v1.8h-1.8zM110.3 431.4h1.8v1.8h-1.8zM82.6 411.9h1.8v1.8h-1.8zM122.4 428.2h1.8v1.8h-1.8zM105.5 421.9h1.8v1.8h-1.8zM71.6 424.3h1.8v1.8h-1.8zM80.5 455.6h1.8v1.8h-1.8zM96.4 426.8h1.8v1.8h-1.8zM87.5 444.2h1.8v1.8h-1.8zM115.1 454.7h1.8v1.8h-1.8zM100.9 407.3h1.8v1.8h-1.8zM93.7 419.5h1.8v1.8h-1.8zM116.6 445.3h1.8v1.8h-1.8zM76.3 416.2h1.8v1.8h-1.8zM107.0 438.6h1.8v1.8h-1.8zM82.9 408.3h1.8v1.8h-1.8zM71.9 408.8h1.8v1.8h-1.8zM87.2 399.4h1.8v1.8h-1.8zM88.0 428.6h1.8v1.8h-1.8zM113.3 454.6h1.8v1.8h-1.8zM98.5 429.2h1.8v1.8h-1.8zM90.9 380.1h1.8v1.8h-1.8zM96.7 387.1h1.8v1.8h-1.8zM122.7 427.2h1.8v1.8h-1.8zM115.3 426.1h1.8v1.8h-1.8zM100.7 387.8h1.8v1.8h-1.8zM86.3 434.4h1.8v1.8h-1.8zM75.0 407.7h1.8v1.8h-1.8zM82.7 395.0h1.8v1.8h-1.8zM118.7 458.3h1.8v1.8h-1.8zM94.8 409.4h1.8v1.8h-1.8zM80.0 453.0h1.8v1.8h-1.8zM115.8 416.6h1.8v1.8h-1.8zM85.3 452.5h1.8v1.8h-1.8zM109.4 406.0h1.8v1.8h-1.8zM97.9 427.0h1.8v1.8h-1.8zM108.8 452.7h1.8v1.8h-1.8zM96.0 378.8h1.8v1.8h-1.8zM99.2 463.3h1.8v1.8h-1.8zM104.4 412.8h1.8v1.8h-1.8zM85.8 426.3h1.8v1.8h-1.8zM123.4 453.1h1.8v1.8h-1.8zM123.7 432.4h1.8v1.8h-1.8zM78.6 439.3h1.8v1.8h-1.8zM73.6 420.8h1.8v1.8h-1.8zM89.4 443.4h1.8v1.8h-1.8zM120.8 424.7h1.8v1.8h-1.8zM76.0 428.5h1.8v1.8h-1.8zM112.3 426.4h1.8v1.8h-1.8zM107.5 450.1h1.8v1.8h-1.8zM74.6 416.7h1.8v1.8h-1.8zM82.1 383.0h1.8v1.8h-1.8zM118.5 432.3h1.8v1.8h-1.8zM90.9 435.4h1.8v1.8h-1.8zM106.8 451.2h1.8v1.8h-1.8zM93.4 416.1h1.8v1.8h-1.8zM102.0 462.0h1.8v1.8h-1.8zM95.8 459.3h1.8v1.8h-1.8zM90.5 402.7h1.8v1.8h-1.8zM97.8 405.4h1.8v1.8h-1.8zM69.1 403.6h1.8v1.8h-1.8zM79.4 431.8h1.8v1.8h-1.8zM101.3 432.0h1.8v1.8h-1.8zM102.2 426.3h1.8v1.8h-1.8zM70.5 417.8h1.8v1.8h-1.8zM125.9 447.4h1.8v1.8h-1.8zM106.5 421.1h1.8v1.8h-1.8zM118.8 408.8h1.8v1.8h-1.8zM86.0 418.6h1.8v1.8h-1.8zM110.5 410.8h1.8v1.8h-1.8zM108.9 458.9h1.8v1.8h-1.8zM71.8 420.9h1.8v1.8h-1.8zM97.7 450.6h1.8v1.8h-1.8zM109.8 451.1h1.8v1.8h-1.8zM92.2 452.2h1.8v1.8h-1.8zM104.7 456.0h1.8v1.8h-1.8zM78.6 410.5h1.8v1.8h-1.8zM108.5 435.9h1.8v1.8h-1.8zM108.3 448.7h1.8v1.8h-1.8zM97.0 430.7h1.8v1.8h-1.8z"/>
<path fill="#fee0b6" d="M23.7 416.1h1.8v1.8h-1.8zM40.7 434.3h1.8v1.8h-1.8zM48.6 452.0h1.8v1.8h-1.8zM32.0 449.3h1.8v1.8h-1.8zM54.7 424.4h1.8v1.8h-1.8zM32.9 430.0h1.8v1.8h-1.8zM63.8 446.7h1.8v1.8h-1.8zM45.9 422.7h1.8v1.8h-1.8zM32.0 445.3h1.8v1.8h-1.8zM36.5 454.5h1.8v1.8h-1.8zM35.0 428.3h1.8v1.8h-1.8zM53.8 461.2h1.8v1.8h-1.8zM69.8 447.9h1.8v1.8h-1.8zM33.6 439.6h1.8v1.8h-1.8zM53.8 429.8h1.8v1.8h-1.8zM41.0 445.7h1.8v1.8h-1.8zM45.5 428.4h1.8v1.8h-1.8zM60.3 423.3h1.8v1.8h-1.8zM62.8 456.1h1.8v1.8h-1.8zM60.0 459.1h1.8v1.8h-1.8zM50.5 456.2h1.8v1.8h-1.8zM45.7 436.6h1.8v1.8h-1.8zM41.5 422.8h1.8v1.8h-1.8zM67.4 448.5h1.8v1.8h-1.8zM28.4 423.4h1.8v1.8h-1.8zM33.9 438.2h1.8v1.8h-1.8zM67.3 439.7h1.8v1.8h-1.8zM38.2 423.2h1.8v1.8h-1.8zM37.0 424.0h1.8v1.8h-1.8zM34.0 441.5h1.8v1.8h-1.8zM48.0 457.1h1.8v1.8h-1.8zM53.3 439.8h1.8v1.8h-1.8zM38.5 440.9h1.8v1.8h-1.8zM33.6 443.7h1.8v1.8h-1.8zM69.2 445.8h1.8v1.8h-1.8zM46.4 438.5h1.8v1.8h-1.8zM56.9 440.8h1.8v1.8h-1.8zM47.5 432.5h1.8v1.8h-1.8zM45.3 449.8h1.8v1.8h-1.8zM56.8 463.9h1.8v1.8h-1.8zM33.2 416.7h1.8v1.8h-1.8zM46.2 425.7h1.8v1.8h-1.8z"/>
<path fill="#d8daeb" d="M97.1 353.1h1.8v1.8h-1.8zM100.9 346.5h1.8v1.8h-1.8zM111.1 348.2h1.8v1.8h-1.8zM118.6 352.1h1.8v1.8h-1.8zM78.7 353.2h1.8v1.8h-1.8zM112.1 366.4h1.8v1.8h-1.8zM121.7 350.3h1.8v1.8h-1.8zM77.5 384.5h1.8v1.8h-1.8zM114.6 361.4h1.8v1.8h-1.8zM72.6 347.1h1.8v1.8h-1.8zM77.5 363.8h1.8v1.8h-1.8zM91.2 365.3h1.8v1.8h-1.8zM77.6 343.5h1.8v1.8h-1.8zM82.2 347.9h1.8v1.8h-1.8zM98.0 340.4h1.8v1.8h-1.8zM106.0 359.3h1.8v1.8h-1.8zM111.6 347.2h1.8v1.8h-1.8zM88.3 353.2h1.8v1.8h-1.8zM98.1 355.8h1.8v1.8h-1.8zM72.9 353.7h1.8v1.8h-1.8zM115.3 346.3h1.8v1.8h-1.8zM124.6 370.3h1.8v1.8h-1.8zM121.2 359.2h1.8v1.8h-1.8zM107.4 341.9h1.8v1.8h-1.8zM99.5 350.8h1.8v1.8h-1.8zM134.7 366.5h1.8v1.8h-1.8zM117.1 357.9h1.8v1.8h-1.8zM112.7 361.0h1.8v1.8h-1.8zM77.8 376.7h1.8v1.8h-1.8zM82.1 344.8h1.8v1.8h-1.8zM117.1 360.8h1.8v1.8h-1.8zM96.6 376.4h1.8v1.8h-1.8zM98.3 350.2h1.8v1.8h-1.8zM112.5 373.0h1.8v1.8h-1.8zM117.8 357.3h1.8v1.8h-1.8zM93.2 367.9h1.8v1.8h-1.8zM93.9 359.0h1.8v1.8h-1.8zM83.3 372.1h1.8v1.8h-1.8zM73.7 379.9h1.8v1.8h-1.8zM127.9 370.1h1.8v1.8h-1.8zM82.8 342.2h1.8v1.8h-1.8zM100.6 358.6h1.8v1.8h-1.8zM78.9 373.9h1.8v1.8h-1.8zM117.3 355.5h1.8v1.8h-1.8zM106.5 355.7h1.8v1.8h-1.8zM126.9 374.8h1.8v1.8h-1.8zM130.4 374.0h1.8v1.8h-1.8zM106.9 370.0h1.8v1.8h-1.8zM129.8 371.9h1.8v1.8h-1.8zM96.2 368.5h1.8v1.8h-1.8zM88.6 352.7h1.8v1.8h-1.8zM76.9 380.1h1.8v1.8h-1.8zM120.1 371.1h1.8v1.8h-1.8zM77.3 366.4h1.8v1.8h-1.8zM97.2 356.4h1.8v1.8h-1.8zM119.1 370.0h1.8v1.8h-1.8zM78.4 380.0h1.8v1.8h-1.8zM72.2 371.0h1.8v1.8h-1.8zM126.3 355.8h1.8v1.8h-1.8zM100.8 352.8h1.8v1.8h-1.8zM107.4 353.8h1.8v1.8h-1.8z"/>
<path fill="#b2abd2" d="M117.9 383.3h1.8v1.8h-1.8zM95.6 377.0h1.8v1.8h-1.8zM123.2 373.9h1.8v1.8h-1.8zM132.9 395.8h1.8v1.8h-1.8zM104.8 375.3h1.8v1.8h-1.8zM96.5 378.3h1.8v1.8h-1.8zM115.3 383.1h1.8v1.8h-1.8zM117.2 376.7h1.8v1.8h-1.8zM88.1 380.5h1.8v1.8h-1.8zM103.2 399.1h1.8v1.8h-1.8zM104.2 390.9h1.8v1.8h-1.8zM132.7 401.0h1.8v1.8h-1.8zM96.8 391.0h1.8v1.8h-1.8zM111.0 373.8h1.8v1.8h-1.8zM89.1 375.5h1.8v1.8h-1.8zM97.6 385.6h1.8v1.8h-1.8zM85.6 375.2h1.8v1.8h-1.8zM119.3 392.4h1.8v1.8h-1.8zM137.8 380.9h1.8v1.8h-1.8zM110.4 396.4h1.8v1.8h-1.8zM110.8 384.8h1.8v1.8h-1.8zM132.1 393.1h1.8v1.8h-1.8zM114.5 387.8h1.8v1.8h-1.8zM126.4 383.3h1.8v1.8h-1.8zM98.6 393.2h1.8v1.8h-1.8zM130.6 376.0h1.8v1.8h-1.8zM114.8 381.9h1.8v1.8h-1.8zM116.2 375.8h1.8v1.8h-1.8zM138.9 379.5h1.8v1.8h-1.8zM111.2 391.2h1.8v1.8h-1.8zM89.3 377.0h1.8v1.8h-1.8zM128.8 374.9h1.8v1.8h-1.8zM90.0 391.3h1.8v1.8h-1.8zM112.0 396.3h1.8v1.8h-1.8zM126.2 373.8h1.8v1.8h-1.8zM94.7 381.9h1.8v1.8h-1.8zM118.5 371.1h1.8v1.8h-1.8zM109.7 383.1h1.8v1.8h-1.8zM126.3 374.1h1.8v1.8h-1.8zM114.6 400.4h1.8v1.8h-1.8zM120.9 370.8h1.8v1.8h-1.8zM91.2 373.9h1.8v1.8h-1.8zM128.0 384.9h1.8v1.8h-1.8zM137.1 390.4h1.8v1.8h-1.8zM108.1 391.5h1.8v1.8h-1.8zM138.6 383.0h1.8v1.8h-1.8zM98.1 389.8h1.8v1.8h-1.8z"/>
<path fill="#8073ac" d="M77.7 398.9h1.8v1.8h-1.8zM80.1 395.8h1.8v1.8h-1.8zM78.9 414.6h1.8v1.8h-1.8zM76.2 401.9h1.8v1.8h-1.8zM58.9 394.3h1.8v1.8h-1.8zM67.0 411.0h1.8v1.8h-1.8zM68.5 387.6h1.8v1.8h-1.8zM66.6 397.0h1.8v1.8h-1.8zM73.4 421.6h1.8v1.8h-1.8zM79.5 398.1h1.8v1.8h-1.8zM59.5 405.9h1.8v1.8h-1.8zM74.1 397.5h1.8v1.8h-1.8zM62.6 389.9h1.8v1.8h-1.8zM62.1 392.4h1.8v1.8h-1.8zM81.6 417.8h1.8v1.8h-1.8zM71.9 411.9h1.8v1.8h-1.8zM72.2 401.7h1.8v1.8h-1.8zM62.2 394.6h1.8v1.8h-1.8zM79.9 393.3h1.8v1.8h-1.8zM59.8 409.4h1.8v1.8h-1.8zM74.4 451.4h1.8v1.8h-1.8zM66.2 403.8h1.8v1.8h-1.8zM75.3 394.9h1.8v1.8h-1.8zM73.9 410.8h1.8v1.8h-1.8zM73.9 399.0h1.8v1.8h-1.8zM67.6 382.2h1.8v1.8h-1.8zM80.5 442.1h1.8v1.8h-1.8zM55.2 417.5h1.8v1.8h-1.8zM71.1 388.8h1.8v1.8h-1.8zM80.7 412.6h1.8v1.8h-1.8zM75.7 389.2h1.8v1.8h-1.8z"/>
<path fill="#b35806" d="M78.3 363.0h1.8v1.8h-1.8zM33.5 379.7h1.8v1.8h-1.8zM61.0 343.6h1.8v1.8h-1.8zM28.0 389.4h1.8v1.8h-1.8zM77.5 362.3h1.8v1.8h-1.8zM63.4 350.8h1.8v1.8h-1.8zM74.4 359.1h1.8v1.8h-1.8zM42.5 361.2h1.8v1.8h-1.8zM44.3 371.6h1.8v1.8h-1.8zM49.2 398.1h1.8v1.8h-1.8zM49.7 398.5h1.8v1.8h-1.8zM37.7 403.3h1.8v1.8h-1.8zM31.4 369.0h1.8v1.8h-1.8zM63.7 346.9h1.8v1.8h-1.8zM26.5 385.3h1.8v1.8h-1.8zM49.4 389.2h1.8v1.8h-1.8zM26.8 386.7h1.8v1.8h-1.8zM27.6 400.4h1.8v1.8h-1.8zM47.5 418.3h1.8v1.8h-1.8zM46.7 372.0h1.8v1.8h-1.8zM27.5 394.1h1.8v1.8h-1.8zM57.5 354.1h1.8v1.8h-1.8zM52.4 417.9h1.8v1.8h-1.8zM33.4 413.4h1.8v1.8h-1.8zM35.5 367.7h1.8v1.8h-1.8zM47.0 377.2h1.8v1.8h-1.8zM29.0 383.9h1.8v1.8h-1.8zM64.0 381.1h1.8v1.8h-1.8zM66.3 369.2h1.8v1.8h-1.8zM68.6 371.5h1.8v1.8h-1.8zM57.9 413.6h1.8v1.8h-1.8zM56.4 410.9h1.8v1.8h-1.8zM50.9 403.8h1.8v1.8h-1.8zM52.4 370.0h1.8v1.8h-1.8zM28.7 388.9h1.8v1.8h-1.8zM77.5 374.5h1.8v1.8h-1.8zM74.1 370.2h1.8v1.8h-1.8zM27.3 406.7h1.8v1.8h-1.8zM35.8 374.7h1.8v1.8h-1.8zM34.5 393.5h1.8v1.8h-1.8zM43.9 357.5h1.8v1.8h-1.8zM56.6 415.0h1.8v1.8h-1.8zM47.5 392.8h1.8v1.8h-1.8zM57.3 357.8h1.8v1.8h-1.8zM46.4 415.6h1.8v1.8h-1.8zM31.1 390.7h1.8v1.8h-1.8zM51.8 413.3h1.8v1.8h-1.8zM27.8 384.4h1.8v1.8h-1.8zM46.3 392.7h1.8v1.8h-1.8zM28.9 405.9h1.8v1.8h-1.8zM44.9 403.7h1.8v1.8h-1.8zM76.3 357.7h1.8v1.8h-1.8zM56.6 396.0h1.8v1.8h-1.8zM70.4 346.2h1.8v1.8h-1.8zM51.6 414.4h1.8v1.8h-1.8zM56.1 382.5h1.8v1.8h-1.8zM65.2 367.3h1.8v1.8h-1.8zM41.1 396.8h1.8v1.8h-1.8zM39.1 357.2h1.8v1.8h-1.8zM38.4 404.7h1.8v1.8h-1.8zM57.3 358.8h1.8v1.8h-1.8zM42.0 394.6h1.8v1.8h-1.8zM68.9 347.4h1.8v1.8h-1.8zM69.6 365.4h1.8v1.8h-1.8zM39.1 360.6h1.8v1.8h-1.8zM37.6 376.0h1.8v1.8h-1.8zM41.4 399.8h1.8v1.8h-1.8zM54.5 346.5h1.8v1.8h-1.8zM70.8 346.9h1.8v1.8h-1.8zM31.8 383.4h1.8v1.8h-1.8zM70.8 371.5h1.8v1.8h-1.8zM48.1 391.4h1.8v1.8h-1.8zM53.5 376.3h1.8v1.8h-1.8zM40.0 374.6h1.8v1.8h-1.8zM32.9 360.1h1.8v1.8h-1.8zM24.9 397.8h1.8v1.8h-1.8zM69.2 368.8h1.8v1.8h-1.8zM50.0 397.9h1.8v1.8h-1.8zM54.9 391.6h1.8v1.8h-1.8zM61.2 346.0h1.8v1.8h-1.8zM50.8 415.5h1.8v1.8h-1.8zM29.1 371.2h1.8v1.8h-1.8zM41.7 371.8h1.8v1.8h-1.8zM43.7 404.5h1.8v1.8h-1.8zM53.5 416.5h1.8v1.8h-1.8zM74.4 353.8h1.8v1.8h-1.8zM31.7 398.4h1.8v1.8h-1.8zM54.2 389.0h1.8v1.8h-1.8zM50.8 372.8h1.8v1.8h-1.8zM37.9 379.5h1.8v1.8h-1.8zM59.9 385.0h1.8v1.8h-1.8zM55.4 372.2h1.8v1.8h-1.8zM33.1 385.6h1.8v1.8h-1.8zM35.9 387.8h1.8v1.8h-1.8zM51.3 367.0h1.8v1.8h-1.8zM66.2 392.4h1.8v1.8h-1.8zM35.2 385.7h1.8v1.8h-1.8z"/>
<path fill="#e08214" d="M151.4 421.6h1.8v1.8h-1.8zM137.0 436.9h1.8v1.8h-1.8zM141.3 430.8h1.8v1.8h-1.8zM129.2 436.3h1.8v1.8h-1.8zM162.7 393.7h1.8v1.8h-1.8zM145.7 391.9h1.8v1.8h-1.8zM141.4 446.0h1.8v1.8h-1.8zM143.0 439.6h1.8v1.8h-1.8zM132.9 381.3h1.8v1.8h-1.8zM130.1 444.9h1.8v1.8h-1.8zM164.3 427.2h1.8v1.8h-1.8zM136.2 398.4h1.8v1.8h-1.8zM139.3 434.6h1.8v1.8h-1.8zM137.5 425.1h1.8v1.8h-1.8zM136.9 415.5h1.8v1.8h-1.8zM145.4 437.6h1.8v1.8h-1.8zM129.3 402.3h1.8v1.8h-1.8zM129.8 394.3h1.8v1.8h-1.8zM140.1 392.9h1.8v1.8h-1.8zM133.3 401.0h1.8v1.8h-1.8zM145.7 376.4h1.8v1.8h-1.8zM156.6 389.0h1.8v1.8h-1.8zM127.1 414.3h1.8v1.8h-1.8zM142.2 415.6h1.8v1.8h-1.8zM139.8 423.3h1.8v1.8h-1.8zM159.9 389.4h1.8v1.8h-1.8zM148.8 377.1h1.8v1.8h-1.8zM133.7 443.2h1.8v1.8h-1.8zM138.8 440.9h1.8v1.8h-1.8zM135.3 406.8h1.8v1.8h-1.8zM143.0 417.0h1.8v1.8h-1.8zM146.7 389.8h1.8v1.8h-1.8zM152.0 380.8h1.8v1.8h-1.8zM140.7 432.5h1.8v1.8h-1.8zM145.2 406.1h1.8v1.8h-1.8zM137.3 389.8h1.8v1.8h-1.8zM151.2 427.0h1.8v1.8h-1.8zM132.0 436.3h1.8v1.8h-1.8zM136.1 390.4h1.8v1.8h-1.8zM131.1 443.6h1.8v1.8h-1.8zM145.3 425.2h1.8v1.8h-1.8zM134.9 387.3h1.8v1.8h-1.8zM147.6 384.5h1.8v1.8h-1.8zM150.2 399.2h1.8v1.8h-1.8zM146.0 447.6h1.8v1.8h-1.8zM135.8 424.8h1.8v1.8h-1.8zM128.9 404.8h1.8v1.8h-1.8zM132.0 439.2h1.8v1.8h-1.8zM159.6 422.3h1.8v1.8h-1.8zM128.5 387.9h1.8v1.8h-1.8zM143.1 427.7h1.8v1.8h-1.8zM157.2 405.9h1.8v1.8h-1.8zM147.9 381.9h1.8v1.8h-1.8zM146.1 442.3h1.8v1.8h-1.8zM164.5 399.1h1.8v1.8h-1.8zM136.8 422.8h1.8v1.8h-1.8zM139.7 427.8h1.8v1.8h-1.8zM153.3 390.4h1.8v1.8h-1.8zM159.2 385.0h1.8v1.8h-1.8zM139.6 420.1h1.8v1.8h-1.8zM144.3 446.2h1.8v1.8h-1.8zM140.8 408.8h1.8v1.8h-1.8zM156.1 382.5h1.8v1.8h-1.8zM148.2 402.2h1.8v1.8h-1.8zM149.3 418.0h1.8v1.8h-1.8zM156.9 425.9h1.8v1.8h-1.8zM154.8 385.9h1.8v1.8h-1.8zM145.8 417.8h1.8v1.8h-1.8zM149.9 405.3h1.8v1.8h-1.8zM161.0 405.5h1.8v1.8h-1.8zM132.6 431.3h1.8v1.8h-1.8zM162.7 398.3h1.8v1.8h-1.8zM151.2 381.8h1.8v1.8h-1.8zM156.1 395.4h1.8v1.8h-1.8zM149.5 380.4h1.8v1.8h-1.8zM132.2 398.0h1.8v1.8h-1.8zM158.5 435.8h1.8v1.8h-1.8zM150.3 386.9h1.8v1.8h-1.8zM157.9 390.3h1.8v1.8h-1.8z"/>
<path fill="#fdb863" d="M91.5 462.7h1.8v1.8h-1.8zM86.2 418.3h1.8v1.8h-1.8zM92.6 462.9h1.8v1.8h-1.8zM91.7 423.7h1.8v1.8h-1.8zM71.8 421.5h1.8v1.8h-1.8zM124.0 447.9h1.8v1.8h-1.8zM74.8 441.0h1.8v1.8h-1.8zM93.6 433.1h1.8v1.8h-1.8zM82.1 409.0h1.8v1.8h-1.8zM73.2 403.7h1.8v1.8h-1.8zM126.5 421.5h1.8v1.8h-1.8zM75.1 411.3h1.8v1.8h-1.8zM93.4 412.5h1.8v1.8h-1.8zM116.9 432.6h1.8v1.8h-1.8zM76.8 454.4h1.8v1.8h-1.8zM125.8 439.2h1.8v1.8h-1.8zM90.5 431.4h1.8v1.8h-1.8zM81.1 433.0h1.8v1.8h-1.8zM109.3 412.4h1.8v1.8h-1.8zM81.9 447.1h1.8v1.8h-1.8zM75.3 433.2h1.8v1.8h-1.8zM105.2 399.0h1.8v1.8h-1.8zM113.6 438.9h1.8v1.8h-1.8zM72.4 427.1h1.8v1.8h-1.8zM106.2 413.1h1.8v1.8h-1.8zM119.9 446.8h1.8v1.8h-1.8zM123.9 417.4h1.8v1.8h-1.8zM106.7 456.9h1.8v1.8h-1.8zM77.6 450.1h1.8v1.8h-1.8zM82.2 430.7h1.8v1.8h-1.8zM110.2 418.0h1.8v1.8h-1.8zM112.4 425.9h1.8v1.8h-1.8zM92.5 401.3h1.8v1.8h-1.8zM117.3 437.0h1.8v1.8h-1.8zM105.0 398.2h1.8v1.8h-1.8zM108.9 448.7h1.8v1.8h-1.8zM119.0 439.2h1.8v1.8h-1.8zM115.6 430.2h1.8v1.8h-1.8zM81.2 421.5h1.8v1.8h-1.8zM83.5 413.3h1.8v1.8h-1.8zM90.5 413.4h1.8v1.8h-1.8zM114.0 456.8h1.8v1.8h-1.8zM92.7 433.2h1.8v1.8h-1.8zM86.7 437.1h1.8v1.8h-1.8zM77.6 425.1h1.8v1.8h-1.8zM81.3 418.7h1.8v1.8h-1.8zM106.4 456.9h1.8v1.8h-1.8zM83.0 379.9h1.8v1.8h-1.8zM68.7 407.1h1.8v1.8h-1.8zM104.0 444.2h1.8v1.8h-1.8zM91.8 377.5h1.8v1.8h-1.8zM118.8 452.6h1.8v1.8h-1.8zM103.7 462.9h1.8v1.8h-1.8zM124.6 442.5h1.8v1.8h-1.8zM106.2 389.1h1.8v1.8h-1.8zM106.1 444.6h1.8v1.8h-1.8zM120.6 414.1h1.8v1.8h-1.8zM124.7 442.2h1.8v1.8h-1.8zM105.1 404.9h1.8v1.8h-1.8zM88.0 447.2h1.8v1.8h-1.8zM70.1 417.9h1.8v1.8h-1.8zM114.8 446.7h1.8v1.8h-1.8zM115.4 429.9h1.8v1.8h-1.8zM103.3 438.9h1.8v1.8h-1.8zM90.4 409.2h1.8v1.8h-1.8zM86.3 436.6h1.8v1.8h-1.8zM99.4 403.8h1.8v1.8h-1.8zM72.9 406.5h1.8v1.8h-1.8zM94.9 446.5h1.8v1.8h-1.8zM112.0 429.3h1.8v1.8h-1.8zM73.8 408.1h1.8v1.8h-1.8zM122.0 428.6h1.8v1.8h-1.8zM102.1 426.8h1.8v1.8h-1.8zM121.9 415.3h1.8v1.8h-1.8zM87.0 435.2h1.8v1.8h-1.8zM116.0 403.5h1.8v1.8h-1.8zM91.1 461.0h1.8v1.8h-1.8zM118.3 417.2h1.8v1.8h-1.8zM84.8 432.4h1.8v1.8h-1.8zM81.1 411.1h1.8v1.8h-1.8zM113.4 407.7h1.8v1.8h-1.8zM119.0 446.5h1.8v1.8h-1.8zM75.8 395.7h1.8v1.8h-1.8zM90.8 448.7h1.8v1.8h-1.8zM104.7 420.3h1.8v1.8h-1.8zM102.0 424.4h1.8v1.8h-1.8zM103.4 419.7h1.8v1.8h-1.8zM125.1 433.8h1.8v1.8h-1.8zM109.8 460.8h1.8v1.8h-1.8zM96.0 360.8h1.8v1.8h-1.8zM118.8 442.6h1.8v1.8h-1.8zM106.6 454.3h1.8v1.8h-1.8zM119.0 415.8h1.8v1.8h-1.8zM104.0 432.5h1.8v1.8h-1.8zM116.2 400.5h1.8v1.8h-1.8zM73.3 428.0h1.8v1.8h-1.8z"/>
<path fill="#fee0b6" d="M47.3 455.4h1.8v1.8h-1.8zM52.7 454.5h1.8v1.8h-1.8zM37.1 429.1h1.8v1.8h-1.8zM49.7 445.1h1.8v1.8h-1.8zM49.3 436.9h1.8v1.8h-1.8zM65.3 437.7h1.8v1.8h-1.8zM44.1 420.1h1.8v1.8h-1.8zM26.1 424.1h1.8v1.8h-1.8zM63.8 462.3h1.8v1.8h-1.8zM50.1 457.1h1.8v1.8h-1.8zM60.8 423.7h1.8v1.8h-1.8zM32.3 452.6h1.8v1.8h-1.8zM59.5 465.6h1.8v1.8h-1.8zM45.8 458.9h1.8v1.8h-1.8zM58.1 445.3h1.8v1.8h-1.8zM53.1 457.2h1.8v1.8h-1.8zM46.9 458.1h1.8v1.8h-1.8zM51.5 429.5h1.8v1.8h-1.8zM65.7 454.1h1.8v1.8h-1.8zM42.2 452.2h1.8v1.8h-1.8zM51.4 435.7h1.8v1.8h-1.8zM32.6 415.9h1.8v1.8h-1.8zM38.6 448.6h1.8v1.8h-1.8zM48.8 438.4h1.8v1.8h-1.8zM38.9 450.9h1.8v1.8h-1.8zM62.7 434.6h1.8v1.8h-1.8zM55.6 461.8h1.8v1.8h-1.8zM42.9 454.7h1.8v1.8h-1.8zM59.2 439.1h1.8v1.8h-1.8zM53.1 446.9h1.8v1.8h-1.8zM41.8 419.8h1.8v1.8h-1.8zM30.9 444.5h1.8v1.8h-1.8zM50.3 441.5h1.8v1.8h-1.8zM42.2 430.6h1.8v1.8h-1.8zM59.5 436.9h1.8v1.8h-1.8zM69.5 457.9h1.8v1.8h-1.8zM39.5 421.3h1.8v1.8h-1.8zM43.8 420.9h1.8v1.8h-1.8zM51.8 451.3h1.8v1.8h-1.8zM65.6 438.4h1.8v1.8h-1.8zM36.6 451.4h1.8v1.8h-1.8zM67.9 435.2h1.8v1.8h-1.8zM54.2 461.6h1.8v1.8h-1.8zM60.3 446.8h1.8v1.8h-1.8zM33.6 453.1h1.8v1.8h-1.8zM68.5 440.7h1.8v1.8h-1.8zM53.7 459.4h1.8v1.8h-1.8zM44.4 450.5h1.8v1.8h-1.8zM40.0 433.4h1.8v1.8h-1.8zM44.3 444.2h1.8v1.8h-1.8zM46.4 455.7h1.8v1.8h-1.8zM63.7 428.3h1.8v1.8h-1.8z"/>
<path fill="#d8daeb" d="M96.4 361.6h1.8v1.8h-1.8zM107.6 372.4h1.8v1.8h-1.8zM91.9 343.4h1.8v1.8h-1.8zM108.0 354.1h1.8v1.8h-1.8zM97.8 340.1h1.8v1.8h-1.8zM89.8 344.4h1.8v1.8h-1.8zM125.4 361.0h1.8v1.8h-1.8zM125.6 358.9h1.8v1.8h-1.8zM98.8 366.8h1.8v1.8h-1.8zM77.9 361.2h1.8v1.8h-1.8zM94.0 346.4h1.8v1.8h-1.8zM88.2 378.3h1.8v1.8h-1.8zM76.0 361.8h1.8v1.8h-1.8zM99.5 361.4h1.8v1.8h-1.8zM105.0 353.8h1.8v1.8h-1.8zM126.1 353.6h1.8v1.8h-1.8zM73.2 363.2h1.8v1.8h-1.8zM126.0 371.4h1.8v1.8h-1.8zM111.3 375.7h1.8v1.8h-1.8zM135.5 368.9h1.8v1.8h-1.8zM93.0 354.7h1.8v1.8h-1.8zM87.6 366.7h1.8v1.8h-1.8zM121.2 357.2h1.8v1.8h-1.8zM83.9 346.0h1.8v1.8h-1.8zM88.9 351.7h1.8v1.8h-1.8zM109.4 350.8h1.8v1.8h-1.8zM109.5 368.1h1.8v1.8h-1.8zM77.4 378.5h1.8v1.8h-1.8zM76.2 344.2h1.8v1.8h-1.8zM96.7 371.2h1.8v1.8h-1.8zM97.7 348.8h1.8v1.8h-1.8zM84.6 359.4h1.8v1.8h-1.8zM82.0 381.8h1.8v1.8h-1.8zM87.2 360.2h1.8v1.8h-1.8zM87.8 351.3h1.8v1.8h-1.8z"/>
<path fill="#b2abd2" d="M102.8 379.4h1.8v1.8h-1.8zM101.0 394.4h1.8v1.8h-1.8zM138.9 390.4h1.8v1.8h-1.8zM117.3 402.9h1.8v1.8h-1.8zM137.6 378.7h1.8v1.8h-1.8zM87.4 388.7h1.8v1.8h-1.8zM119.5 385.4h1.8v1.8h-1.8zM127.4 373.2h1.8v1.8h-1.8zM102.0 394.0h1.8v1.8h-1.8zM86.8 385.9h1.8v1.8h-1.8zM96.7 374.4h1.8v1.8h-1.8zM91.2 369.7h1.8v1.8h-1.8zM85.1 370.5h1.8v1.8h-1.8zM114.8 392.3h1.8v1.8h-1.8zM85.1 377.3h1.8v1.8h-1.8zM133.3 400.8h1.8v1.8h-1.8zM95.7 372.0h1.8v1.8h-1.8zM91.6 386.2h1.8v1.8h-1.8zM132.2 385.9h1.8v1.8h-1.8zM138.3 384.1h1.8v1.8h-1.8zM104.2 385.2h1.8v1.8h-1.8zM108.9 394.0h1.8v1.8h-1.8zM122.1 388.5h1.8v1.8h-1.8zM92.5 374.9h1.8v1.8h-1.8zM129.3 387.3h1.8v1.8h-1.8zM89.9 377.5h1.8v1.8h-1.8zM113.2 375.6h1.8v1.8h-1.8zM133.4 384.7h1.8v1.8h-1.8zM109.5 398.1h1.8v1.8h-1.8zM120.9 372.7h1.8v1.8h-1.8zM107.8 396.7h1.8v1.8h-1.8zM103.5 377.1h1.8v1.8h-1.8zM88.1 382.1h1.8v1.8h-1.8zM90.1 374.1h1.8v1.8h-1.8zM116.1 387.6h1.8v1.8h-1.8zM86.0 382.0h1.8v1.8h-1.8zM132.9 377.5h1.8v1.8h-1.8zM117.7 397.2h1.8v1.8h-1.8zM104.7 391.0h1.8v1.8h-1.8zM139.1 381.9h1.8v1.8h-1.8zM119.0 384.0h1.8v1.8h-1.8zM115.4 372.8h1.8v1.8h-1.8zM131.5 400.7h1.8v1.8h-1.8zM136.1 386.9h1.8v1.8h-1.8zM137.7 397.0h1.8v1.8h-1.8z"/>
<path fill="#8073ac" d="M81.5 397.4h1.8v1.8h-1.8zM74.9 400.1h1.8v1.8h-1.8zM59.2 392.5h1.8v1.8h-1.8zM67.7 385.3h1.8v1.8h-1.8zM67.2 417.8h1.8v1.8h-1.8zM69.3 399.4h1.8v1.8h-1.8zM59.1 407.8h1.8v1.8h-1.8zM76.1 387.5h1.8v1.8h-1.8zM60.3 398.8h1.8v1.8h-1.8zM86.3 410.5h1.8v1.8h-1.8zM65.6 400.9h1.8v1.8h-1.8zM72.0 400.5h1.8v1.8h-1.8zM69.9 442.1h1.8v1.8h-1.8zM62.0 409.4h1.8v1.8h-1.8zM76.4 400.5h1.8v1.8h-1.8zM70.4 392.7h1.8v1.8h-1.8zM84.4 416.1h1.8v1.8h-1.8zM82.0 397.9h1.8v1.8h-1.8zM76.9 404.7h1.8v1.8h-1.8zM71.3 415.4h1.8v1.8h-1.8zM76.2 390.4h1.8v1.8h-1.8zM63.3 410.6h1.8v1.8h-1.8zM69.2 410.8h1.8v1.8h-1.8zM71.4 391.8h1.8v1.8h-1.8zM62.7 417.0h1.8v1.8h-1.8zM68.4 389.8h1.8v1.8h-1.8zM67.5 400.0h1.8v1.8h-1.8zM82.8 420.3h1.8v1.8h-1.8zM66.7 396.2h1.8v1.8h-1.8zM74.6 386.3h1.8v1.8h-1.8zM73.0 400.0h1.8v1.8h-1.8zM75.0 442.0h1.8v1.8h-1.8zM64.3 414.6h1.8v1.8h-1.8zM77.2 402.2h1.8v1.8h-1.8z"/>
<path d="M17.3 334.3V472.1H174.7" fill="none" stroke="#333" stroke-width="1.1"/>
<path d="M14.4 342.1H17.3" stroke="#333" stroke-width="1.1"/>
<text x="11.2" y="346.2" font-size="11.5" text-anchor="end">4</text>
<path d="M14.4 373.9H17.3" stroke="#333" stroke-width="1.1"/>
<text x="11.2" y="378.0" font-size="11.5" text-anchor="end">2</text>
<path d="M14.4 405.6H17.3" stroke="#333" stroke-width="1.1"/>
<text x="11.2" y="409.7" font-size="11.5" text-anchor="end">0</text>
<path d="M14.4 437.4H17.3" stroke="#333" stroke-width="1.1"/>
<text x="11.2" y="441.5" font-size="11.5" text-anchor="end">−2</text>
<path d="M14.4 469.1H17.3" stroke="#333" stroke-width="1.1"/>
<text x="11.2" y="473.2" font-size="11.5" text-anchor="end">−4</text>
<path d="M53.3 472.1V475.2" stroke="#333" stroke-width="1.1"/>
<text x="53.3" y="487.6" font-size="11.5" text-anchor="middle">−2.5</text>
<path d="M90.2 472.1V475.2" stroke="#333" stroke-width="1.1"/>
<text x="90.2" y="487.6" font-size="11.5" text-anchor="middle">0.0</text>
<path d="M126.9 472.1V475.2" stroke="#333" stroke-width="1.1"/>
<text x="126.9" y="487.6" font-size="11.5" text-anchor="middle">2.5</text>
<path d="M163.6 472.1V475.2" stroke="#333" stroke-width="1.1"/>
<text x="163.6" y="487.6" font-size="11.5" text-anchor="middle">5.0</text>
<rect x="83" y="494" width="1.2" height="1.4" fill="#222"/><rect x="149.5" y="494.8" width="1.3" height="1.2" fill="#222"/>
<text x="13.6" y="324.6" font-size="16" font-weight="bold" textLength="164.3" lengthAdjust="spacingAndGlyphs">Clr_RNA_snn_res.0.4</text>
<rect x="39.3" y="372.4" width="27.3" height="14.5" rx="2" fill="#b8561a" stroke="#333" stroke-width="0.7"/>
<text x="53.0" y="383.5" font-size="10.8" text-anchor="middle">Clr0</text>
<rect x="79.4" y="360.9" width="27.8" height="15.0" rx="2" fill="#ecebf5" stroke="#333" stroke-width="0.7"/>
<text x="93.3" y="372.3" font-size="10.8" text-anchor="middle">Clr4</text>
<rect x="106.1" y="381.8" width="27.1" height="14.2" rx="2" fill="#c9c3e6" stroke="#333" stroke-width="0.7"/>
<text x="119.7" y="392.8" font-size="10.8" text-anchor="middle">Clr5</text>
<rect x="59.0" y="401.5" width="26.7" height="14.5" rx="2" fill="#8c7cc6" stroke="#333" stroke-width="0.7"/>
<text x="72.3" y="412.6" font-size="10.8" text-anchor="middle">Clr6</text>
<rect x="131.5" y="409.9" width="27.9" height="14.4" rx="2" fill="#e08214" stroke="#333" stroke-width="0.7"/>
<text x="145.4" y="421.0" font-size="10.8" text-anchor="middle">Clr1</text>
<rect x="89.6" y="426.9" width="27.7" height="14.6" rx="2" fill="#fdbf6c" stroke="#333" stroke-width="0.7"/>
<text x="103.4" y="438.1" font-size="10.8" text-anchor="middle">Clr2</text>
<rect x="34.1" y="435.5" width="27.5" height="14.3" rx="2" fill="#fee4c3" stroke="#333" stroke-width="0.7"/>
<text x="47.8" y="446.5" font-size="10.8" text-anchor="middle">Clr3</text>
<rect x="228.60" y="82.70" width="13.00" height="13.00" fill="#cfe8f3"/>
<rect x="241.30" y="82.70" width="13.00" height="13.00" fill="#fef8d4"/>
<rect x="254.00" y="82.70" width="13.00" height="13.00" fill="#a9cfe5"/>
<rect x="266.70" y="82.70" width="13.00" height="13.00" fill="#a2c8e0"/>
<rect x="279.40" y="82.70" width="13.00" height="13.00" fill="#d9edf7"/>
<rect x="292.10" y="82.70" width="13.00" height="13.00" fill="#cde7f2"/>
<rect x="304.80" y="82.70" width="13.00" height="13.00" fill="#d4ebf6"/>
<rect x="317.50" y="82.70" width="13.00" height="13.00" fill="#fece82"/>
<rect x="330.20" y="82.70" width="13.00" height="13.00" fill="#fdb466"/>
<rect x="342.90" y="82.70" width="13.00" height="13.00" fill="#fee9a7"/>
<rect x="355.60" y="82.70" width="13.00" height="13.00" fill="#d1321f"/>
<rect x="368.30" y="82.70" width="13.00" height="13.00" fill="#d1321f"/>
<rect x="228.60" y="95.40" width="13.00" height="13.00" fill="#92bbd9"/>
<rect x="241.30" y="95.40" width="13.00" height="13.00" fill="#fef3c2"/>
<rect x="254.00" y="95.40" width="13.00" height="13.00" fill="#7eabd3"/>
<rect x="266.70" y="95.40" width="13.00" height="13.00" fill="#80acd4"/>
<rect x="279.40" y="95.40" width="13.00" height="13.00" fill="#d9edf7"/>
<rect x="292.10" y="95.40" width="13.00" height="13.00" fill="#abd0e6"/>
<rect x="304.80" y="95.40" width="13.00" height="13.00" fill="#a9cfe5"/>
<rect x="317.50" y="95.40" width="13.00" height="13.00" fill="#fde6a0"/>
<rect x="330.20" y="95.40" width="13.00" height="13.00" fill="#fdb466"/>
<rect x="342.90" y="95.40" width="13.00" height="13.00" fill="#fdb466"/>
<rect x="355.60" y="95.40" width="13.00" height="13.00" fill="#a51f24"/>
<rect x="368.30" y="95.40" width="13.00" height="13.00" fill="#d1321f"/>
<rect x="228.60" y="108.10" width="13.00" height="13.00" fill="#c6e3f0"/>
<rect x="241.30" y="108.10" width="13.00" height="13.00" fill="#feedaa"/>
<rect x="254.00" y="108.10" width="13.00" height="13.00" fill="#eff8f7"/>
<rect x="266.70" y="108.10" width="13.00" height="13.00" fill="#fefad8"/>
<rect x="279.40" y="108.10" width="13.00" height="13.00" fill="#f1f9f1"/>
<rect x="292.10" y="108.10" width="13.00" height="13.00" fill="#eff8f2"/>
<rect x="304.80" y="108.10" width="13.00" height="13.00" fill="#fef2c0"/>
<rect x="317.50" y="108.10" width="13.00" height="13.00" fill="#e3f3fb"/>
<rect x="330.20" y="108.10" width="13.00" height="13.00" fill="#fed98c"/>
<rect x="342.90" y="108.10" width="13.00" height="13.00" fill="#c0271f"/>
<rect x="355.60" y="108.10" width="13.00" height="13.00" fill="#fdb466"/>
<rect x="368.30" y="108.10" width="13.00" height="13.00" fill="#fee9a8"/>
<rect x="228.60" y="120.80" width="13.00" height="13.00" fill="#74a5cf"/>
<rect x="241.30" y="120.80" width="13.00" height="13.00" fill="#daedf7"/>
<rect x="254.00" y="120.80" width="13.00" height="13.00" fill="#abd0e6"/>
<rect x="266.70" y="120.80" width="13.00" height="13.00" fill="#abd0e6"/>
<rect x="279.40" y="120.80" width="13.00" height="13.00" fill="#f5faeb"/>
<rect x="292.10" y="120.80" width="13.00" height="13.00" fill="#fed081"/>
<rect x="304.80" y="120.80" width="13.00" height="13.00" fill="#fef2c0"/>
<rect x="317.50" y="120.80" width="13.00" height="13.00" fill="#fece82"/>
<rect x="330.20" y="120.80" width="13.00" height="13.00" fill="#d73b22"/>
<rect x="342.90" y="120.80" width="13.00" height="13.00" fill="#fed98c"/>
<rect x="355.60" y="120.80" width="13.00" height="13.00" fill="#fdb466"/>
<rect x="368.30" y="120.80" width="13.00" height="13.00" fill="#fdb466"/>
<rect x="228.60" y="133.50" width="13.00" height="13.00" fill="#d9edf7"/>
<rect x="241.30" y="133.50" width="13.00" height="13.00" fill="#d0e9f4"/>
<rect x="254.00" y="133.50" width="13.00" height="13.00" fill="#e9f5f8"/>
<rect x="266.70" y="133.50" width="13.00" height="13.00" fill="#d5ebf6"/>
<rect x="279.40" y="133.50" width="13.00" height="13.00" fill="#fef4c6"/>
<rect x="292.10" y="133.50" width="13.00" height="13.00" fill="#fee8a5"/>
<rect x="304.80" y="133.50" width="13.00" height="13.00" fill="#fef2c0"/>
<rect x="317.50" y="133.50" width="13.00" height="13.00" fill="#fc8c4a"/>
<rect x="330.20" y="133.50" width="13.00" height="13.00" fill="#fed08a"/>
<rect x="342.90" y="133.50" width="13.00" height="13.00" fill="#e3f3fb"/>
<rect x="355.60" y="133.50" width="13.00" height="13.00" fill="#fde6a0"/>
<rect x="368.30" y="133.50" width="13.00" height="13.00" fill="#fed08a"/>
<rect x="228.60" y="146.20" width="13.00" height="13.00" fill="#a5cbe2"/>
<rect x="241.30" y="146.20" width="13.00" height="13.00" fill="#a5cbe2"/>
<rect x="254.00" y="146.20" width="13.00" height="13.00" fill="#fef4c6"/>
<rect x="266.70" y="146.20" width="13.00" height="13.00" fill="#fef8da"/>
<rect x="279.40" y="146.20" width="13.00" height="13.00" fill="#fdb063"/>
<rect x="292.10" y="146.20" width="13.00" height="13.00" fill="#f46d43"/>
<rect x="304.80" y="146.20" width="13.00" height="13.00" fill="#c0271f"/>
<rect x="317.50" y="146.20" width="13.00" height="13.00" fill="#fef4cb"/>
<rect x="330.20" y="146.20" width="13.00" height="13.00" fill="#fef4cb"/>
<rect x="342.90" y="146.20" width="13.00" height="13.00" fill="#fef4cb"/>
<rect x="355.60" y="146.20" width="13.00" height="13.00" fill="#abd0e6"/>
<rect x="368.30" y="146.20" width="13.00" height="13.00" fill="#d5ebf6"/>
<rect x="228.60" y="158.90" width="13.00" height="13.00" fill="#92bbd9"/>
<rect x="241.30" y="158.90" width="13.00" height="13.00" fill="#9cc3dd"/>
<rect x="254.00" y="158.90" width="13.00" height="13.00" fill="#fef0b8"/>
<rect x="266.70" y="158.90" width="13.00" height="13.00" fill="#eff8f5"/>
<rect x="279.40" y="158.90" width="13.00" height="13.00" fill="#fece82"/>
<rect x="292.10" y="158.90" width="13.00" height="13.00" fill="#d73b22"/>
<rect x="304.80" y="158.90" width="13.00" height="13.00" fill="#ef5a35"/>
<rect x="317.50" y="158.90" width="13.00" height="13.00" fill="#fde6a0"/>
<rect x="330.20" y="158.90" width="13.00" height="13.00" fill="#fece82"/>
<rect x="342.90" y="158.90" width="13.00" height="13.00" fill="#f3faf3"/>
<rect x="355.60" y="158.90" width="13.00" height="13.00" fill="#abd0e6"/>
<rect x="368.30" y="158.90" width="13.00" height="13.00" fill="#cde7f2"/>
<rect x="228.60" y="171.60" width="13.00" height="13.00" fill="#d9edf7"/>
<rect x="241.30" y="171.60" width="13.00" height="13.00" fill="#e3f3fb"/>
<rect x="254.00" y="171.60" width="13.00" height="13.00" fill="#fed081"/>
<rect x="266.70" y="171.60" width="13.00" height="13.00" fill="#fef6cc"/>
<rect x="279.40" y="171.60" width="13.00" height="13.00" fill="#e6502c"/>
<rect x="292.10" y="171.60" width="13.00" height="13.00" fill="#fdbb6c"/>
<rect x="304.80" y="171.60" width="13.00" height="13.00" fill="#fca45c"/>
<rect x="317.50" y="171.60" width="13.00" height="13.00" fill="#fef4c6"/>
<rect x="330.20" y="171.60" width="13.00" height="13.00" fill="#f6faeb"/>
<rect x="342.90" y="171.60" width="13.00" height="13.00" fill="#f1f9f3"/>
<rect x="355.60" y="171.60" width="13.00" height="13.00" fill="#dbeef7"/>
<rect x="368.30" y="171.60" width="13.00" height="13.00" fill="#dbeef7"/>
<rect x="228.60" y="184.30" width="13.00" height="13.00" fill="#f46d43"/>
<rect x="241.30" y="184.30" width="13.00" height="13.00" fill="#fdb866"/>
<rect x="254.00" y="184.30" width="13.00" height="13.00" fill="#fdb063"/>
<rect x="266.70" y="184.30" width="13.00" height="13.00" fill="#f46d43"/>
<rect x="279.40" y="184.30" width="13.00" height="13.00" fill="#fef6cc"/>
<rect x="292.10" y="184.30" width="13.00" height="13.00" fill="#eef8f5"/>
<rect x="304.80" y="184.30" width="13.00" height="13.00" fill="#fef6d8"/>
<rect x="317.50" y="184.30" width="13.00" height="13.00" fill="#d5ebf6"/>
<rect x="330.20" y="184.30" width="13.00" height="13.00" fill="#abd0e6"/>
<rect x="342.90" y="184.30" width="13.00" height="13.00" fill="#fefad6"/>
<rect x="355.60" y="184.30" width="13.00" height="13.00" fill="#80acd4"/>
<rect x="368.30" y="184.30" width="13.00" height="13.00" fill="#a2c8e0"/>
<rect x="228.60" y="197.00" width="13.00" height="13.00" fill="#fef1bf"/>
<rect x="241.30" y="197.00" width="13.00" height="13.00" fill="#fee8a5"/>
<rect x="254.00" y="197.00" width="13.00" height="13.00" fill="#c0271f"/>
<rect x="266.70" y="197.00" width="13.00" height="13.00" fill="#fdb466"/>
<rect x="279.40" y="197.00" width="13.00" height="13.00" fill="#fed081"/>
<rect x="292.10" y="197.00" width="13.00" height="13.00" fill="#fef1bc"/>
<rect x="304.80" y="197.00" width="13.00" height="13.00" fill="#fef1c4"/>
<rect x="317.50" y="197.00" width="13.00" height="13.00" fill="#ebf7fa"/>
<rect x="330.20" y="197.00" width="13.00" height="13.00" fill="#abd0e6"/>
<rect x="342.90" y="197.00" width="13.00" height="13.00" fill="#eff8f7"/>
<rect x="355.60" y="197.00" width="13.00" height="13.00" fill="#7eabd3"/>
<rect x="368.30" y="197.00" width="13.00" height="13.00" fill="#a9cfe5"/>
<rect x="228.60" y="209.70" width="13.00" height="13.00" fill="#f0603a"/>
<rect x="241.30" y="209.70" width="13.00" height="13.00" fill="#f46d43"/>
<rect x="254.00" y="209.70" width="13.00" height="13.00" fill="#fee9a8"/>
<rect x="266.70" y="209.70" width="13.00" height="13.00" fill="#fdb466"/>
<rect x="279.40" y="209.70" width="13.00" height="13.00" fill="#e3f3fb"/>
<rect x="292.10" y="209.70" width="13.00" height="13.00" fill="#9cc3dd"/>
<rect x="304.80" y="209.70" width="13.00" height="13.00" fill="#abd0e6"/>
<rect x="317.50" y="209.70" width="13.00" height="13.00" fill="#d0e9f4"/>
<rect x="330.20" y="209.70" width="13.00" height="13.00" fill="#dbeef7"/>
<rect x="342.90" y="209.70" width="13.00" height="13.00" fill="#fef0b5"/>
<rect x="355.60" y="209.70" width="13.00" height="13.00" fill="#fef5c8"/>
<rect x="368.30" y="209.70" width="13.00" height="13.00" fill="#fef8d8"/>
<rect x="228.60" y="222.40" width="13.00" height="13.00" fill="#a51f24"/>
<rect x="241.30" y="222.40" width="13.00" height="13.00" fill="#f46d43"/>
<rect x="254.00" y="222.40" width="13.00" height="13.00" fill="#fef4cb"/>
<rect x="266.70" y="222.40" width="13.00" height="13.00" fill="#f46d43"/>
<rect x="279.40" y="222.40" width="13.00" height="13.00" fill="#d9edf7"/>
<rect x="292.10" y="222.40" width="13.00" height="13.00" fill="#92bbd9"/>
<rect x="304.80" y="222.40" width="13.00" height="13.00" fill="#a9cfe5"/>
<rect x="317.50" y="222.40" width="13.00" height="13.00" fill="#d9edf7"/>
<rect x="330.20" y="222.40" width="13.00" height="13.00" fill="#74a5cf"/>
<rect x="342.90" y="222.40" width="13.00" height="13.00" fill="#c6e3f0"/>
<rect x="355.60" y="222.40" width="13.00" height="13.00" fill="#92bbd9"/>
<rect x="368.30" y="222.40" width="13.00" height="13.00" fill="#cfe8f3"/>
<text x="393.2" y="91.35" font-size="6.3" class="sm">H.E.lClr3_B2</text>
<text x="393.2" y="104.05" font-size="6.3" class="sm">m.A.YoolB2_tan</text>
<text x="393.2" y="116.75" font-size="6.3" class="sm">H.E.lClr6_Tan</text>
<text x="393.2" y="129.45" font-size="6.3" class="sm">m.A.YoolB1_tan</text>
<text x="393.2" y="142.15" font-size="6.3" class="sm">H.E.lClr2_B1</text>
<text x="393.2" y="154.85" font-size="6.3" class="sm">m.A.YoolA1_tan</text>
<text x="393.2" y="167.55" font-size="6.3" class="sm">H.E.lClr1_A1</text>
<text x="393.2" y="180.25" font-size="6.3" class="sm">H.E.lClr5_A</text>
<text x="393.2" y="192.95" font-size="6.3" class="sm">H.E.lClr4_A2</text>
<text x="393.2" y="205.65" font-size="6.3" class="sm">m.A.YoolA2_tan</text>
<text x="393.2" y="218.35" font-size="6.3" class="sm">H.E.lClr0_prolif</text>
<text x="393.2" y="231.05" font-size="6.3" class="sm">m.A.YoolProl_tan</text>
<text transform="translate(234.65,246.6) rotate(-90)" font-size="6.3" text-anchor="end" class="sm">m.A.YoolProl_tan</text>
<text transform="translate(247.35,246.6) rotate(-90)" font-size="6.3" text-anchor="end" class="sm">H.E.lClr0_prolif</text>
<text transform="translate(260.05,246.6) rotate(-90)" font-size="6.3" text-anchor="end" class="sm">m.A.YoolA2_tan</text>
<text transform="translate(272.75,246.6) rotate(-90)" font-size="6.3" text-anchor="end" class="sm">H.E.lClr4_A2</text>
<text transform="translate(285.45,246.6) rotate(-90)" font-size="6.3" text-anchor="end" class="sm">H.E.lClr5_A</text>
<text transform="translate(298.15,246.6) rotate(-90)" font-size="6.3" text-anchor="end" class="sm">H.E.lClr1_A1</text>
<text transform="translate(310.85,246.6) rotate(-90)" font-size="6.3" text-anchor="end" class="sm">m.A.YoolA1_tan</text>
<text transform="translate(323.55,246.6) rotate(-90)" font-size="6.3" text-anchor="end" class="sm">H.E.lClr2_B1</text>
<text transform="translate(336.25,246.6) rotate(-90)" font-size="6.3" text-anchor="end" class="sm">m.A.YoolB1_tan</text>
<text transform="translate(348.95,246.6) rotate(-90)" font-size="6.3" text-anchor="end" class="sm">H.E.lClr6_Tan</text>
<text transform="translate(361.65,246.6) rotate(-90)" font-size="6.3" text-anchor="end" class="sm">m.A.YoolB2_tan</text>
<text transform="translate(374.35,246.6) rotate(-90)" font-size="6.3" text-anchor="end" class="sm">H.E.lClr3_B2</text>
<path d="M234.9 80.0V56.6H247.6V80.0M260.4 80.0V58.8H273.1V80.0M241.3 56.6V39.2H266.7V58.8M298.4 80.0V68.8H311.1V80.0M285.8 80.0V59.6H304.8V68.8M323.9 80.0V60.0H336.5V80.0M361.9 80.0V69.5H374.6V80.0M349.2 80.0V44.7H368.3V69.5M330.2 60.0V41.7H358.8V44.7M295.3 59.6V15.4H344.5V41.7M254.0 39.2V5.5H319.9V15.4" fill="none" stroke="#222" stroke-width="0.9"/>
<defs><linearGradient id="gk" x1="0" y1="0" x2="1" y2="0"><stop offset="0" stop-color="#313695"/><stop offset="0.1" stop-color="#4575b4"/><stop offset="0.2" stop-color="#74add1"/><stop offset="0.3" stop-color="#abd9e9"/><stop offset="0.4" stop-color="#e6f5f6"/><stop offset="0.5" stop-color="#fefed2"/><stop offset="0.6" stop-color="#fee090"/><stop offset="0.7" stop-color="#fdae61"/><stop offset="0.8" stop-color="#f46d43"/><stop offset="0.9" stop-color="#d73027"/><stop offset="1" stop-color="#a50026"/></linearGradient></defs>
<rect x="391.3" y="29.0" width="45.1" height="27.1" fill="url(#gk)" stroke="#333" stroke-width="0.6"/>
<path d="M391.3 56.1V60.1M400.3 56.1V60.1M409.3 56.1V60.1M418.4 56.1V60.1M427.4 56.1V60.1M436.4 56.1V60.1M391.3 56.4H436.4" stroke="#333" stroke-width="0.6" fill="none"/>
<text x="391.3" y="72.3" font-size="7.2" text-anchor="middle">0</text>
<text x="409.3" y="72.3" font-size="7.2" text-anchor="middle">0.4</text>
<text x="427.4" y="72.3" font-size="7.2" text-anchor="middle">0.8</text>
<text x="413.9" y="23.4" font-size="8.8" font-weight="bold" text-anchor="middle">Color Key</text>
<rect x="215.10" y="305.50" width="13.09" height="11.11" fill="#f1f9f3"/>
<rect x="227.89" y="305.50" width="13.09" height="11.11" fill="#d2e9f5"/>
<rect x="240.67" y="305.50" width="13.09" height="11.11" fill="#8ab6d7"/>
<rect x="253.46" y="305.50" width="13.09" height="11.11" fill="#fef2c0"/>
<rect x="266.24" y="305.50" width="13.09" height="11.11" fill="#f2f9ef"/>
<rect x="279.03" y="305.50" width="13.09" height="11.11" fill="#eaf5fb"/>
<rect x="291.82" y="305.50" width="13.09" height="11.11" fill="#fece82"/>
<rect x="304.60" y="305.50" width="13.09" height="11.11" fill="#fed890"/>
<rect x="317.39" y="305.50" width="13.09" height="11.11" fill="#fdf9dc"/>
<rect x="330.17" y="305.50" width="13.09" height="11.11" fill="#fef0b8"/>
<rect x="342.96" y="305.50" width="13.09" height="11.11" fill="#fdf8d8"/>
<rect x="355.75" y="305.50" width="13.09" height="11.11" fill="#fecb7f"/>
<rect x="368.53" y="305.50" width="13.09" height="11.11" fill="#fed385"/>
<rect x="381.32" y="305.50" width="13.09" height="11.11" fill="#d73b22"/>
<rect x="215.10" y="316.31" width="13.09" height="11.11" fill="#f6fae9"/>
<rect x="227.89" y="316.31" width="13.09" height="11.11" fill="#f6fae9"/>
<rect x="240.67" y="316.31" width="13.09" height="11.11" fill="#f0f9f6"/>
<rect x="253.46" y="316.31" width="13.09" height="11.11" fill="#fef2c0"/>
<rect x="266.24" y="316.31" width="13.09" height="11.11" fill="#dff0f9"/>
<rect x="279.03" y="316.31" width="13.09" height="11.11" fill="#ecf7fa"/>
<rect x="291.82" y="316.31" width="13.09" height="11.11" fill="#fef2c0"/>
<rect x="304.60" y="316.31" width="13.09" height="11.11" fill="#fee49c"/>
<rect x="317.39" y="316.31" width="13.09" height="11.11" fill="#fdf6d5"/>
<rect x="330.17" y="316.31" width="13.09" height="11.11" fill="#fef0b8"/>
<rect x="342.96" y="316.31" width="13.09" height="11.11" fill="#f8fae6"/>
<rect x="355.75" y="316.31" width="13.09" height="11.11" fill="#fef0b8"/>
<rect x="368.53" y="316.31" width="13.09" height="11.11" fill="#fdbd70"/>
<rect x="381.32" y="316.31" width="13.09" height="11.11" fill="#fed385"/>
<rect x="215.10" y="327.11" width="13.09" height="11.11" fill="#fef0b8"/>
<rect x="227.89" y="327.11" width="13.09" height="11.11" fill="#b2d6e8"/>
<rect x="240.67" y="327.11" width="13.09" height="11.11" fill="#d5ebf6"/>
<rect x="253.46" y="327.11" width="13.09" height="11.11" fill="#f8fae2"/>
<rect x="266.24" y="327.11" width="13.09" height="11.11" fill="#fef5c8"/>
<rect x="279.03" y="327.11" width="13.09" height="11.11" fill="#fdf6d5"/>
<rect x="291.82" y="327.11" width="13.09" height="11.11" fill="#fdc374"/>
<rect x="304.60" y="327.11" width="13.09" height="11.11" fill="#fef0b8"/>
<rect x="317.39" y="327.11" width="13.09" height="11.11" fill="#fee8a5"/>
<rect x="330.17" y="327.11" width="13.09" height="11.11" fill="#fef2c0"/>
<rect x="342.96" y="327.11" width="13.09" height="11.11" fill="#fef4c6"/>
<rect x="355.75" y="327.11" width="13.09" height="11.11" fill="#f46d43"/>
<rect x="368.53" y="327.11" width="13.09" height="11.11" fill="#fef0b8"/>
<rect x="381.32" y="327.11" width="13.09" height="11.11" fill="#fecb7f"/>
<rect x="215.10" y="337.92" width="13.09" height="11.11" fill="#f4f9ec"/>
<rect x="227.89" y="337.92" width="13.09" height="11.11" fill="#fef4cb"/>
<rect x="240.67" y="337.92" width="13.09" height="11.11" fill="#fef5cc"/>
<rect x="253.46" y="337.92" width="13.09" height="11.11" fill="#e3f2fa"/>
<rect x="266.24" y="337.92" width="13.09" height="11.11" fill="#fef5cc"/>
<rect x="279.03" y="337.92" width="13.09" height="11.11" fill="#f5faea"/>
<rect x="291.82" y="337.92" width="13.09" height="11.11" fill="#fde8a3"/>
<rect x="304.60" y="337.92" width="13.09" height="11.11" fill="#fdf6d5"/>
<rect x="317.39" y="337.92" width="13.09" height="11.11" fill="#fee8a5"/>
<rect x="330.17" y="337.92" width="13.09" height="11.11" fill="#fed385"/>
<rect x="342.96" y="337.92" width="13.09" height="11.11" fill="#fece82"/>
<rect x="355.75" y="337.92" width="13.09" height="11.11" fill="#fdf9dc"/>
<rect x="368.53" y="337.92" width="13.09" height="11.11" fill="#f8fae6"/>
<rect x="381.32" y="337.92" width="13.09" height="11.11" fill="#f8fae2"/>
<rect x="215.10" y="348.73" width="13.09" height="11.11" fill="#fef4c6"/>
<rect x="227.89" y="348.73" width="13.09" height="11.11" fill="#eef8f9"/>
<rect x="240.67" y="348.73" width="13.09" height="11.11" fill="#f5faeb"/>
<rect x="253.46" y="348.73" width="13.09" height="11.11" fill="#b2d6e8"/>
<rect x="266.24" y="348.73" width="13.09" height="11.11" fill="#d2e9f5"/>
<rect x="279.03" y="348.73" width="13.09" height="11.11" fill="#b2d6e8"/>
<rect x="291.82" y="348.73" width="13.09" height="11.11" fill="#fde8a3"/>
<rect x="304.60" y="348.73" width="13.09" height="11.11" fill="#fed890"/>
<rect x="317.39" y="348.73" width="13.09" height="11.11" fill="#fef2c0"/>
<rect x="330.17" y="348.73" width="13.09" height="11.11" fill="#e9542d"/>
<rect x="342.96" y="348.73" width="13.09" height="11.11" fill="#fed385"/>
<rect x="355.75" y="348.73" width="13.09" height="11.11" fill="#fef2c0"/>
<rect x="368.53" y="348.73" width="13.09" height="11.11" fill="#fee8a5"/>
<rect x="381.32" y="348.73" width="13.09" height="11.11" fill="#fef0b8"/>
<rect x="215.10" y="359.54" width="13.09" height="11.11" fill="#f8fae2"/>
<rect x="227.89" y="359.54" width="13.09" height="11.11" fill="#c3e2f0"/>
<rect x="240.67" y="359.54" width="13.09" height="11.11" fill="#c8e5f1"/>
<rect x="253.46" y="359.54" width="13.09" height="11.11" fill="#fdfadb"/>
<rect x="266.24" y="359.54" width="13.09" height="11.11" fill="#fef5c8"/>
<rect x="279.03" y="359.54" width="13.09" height="11.11" fill="#fdfadb"/>
<rect x="291.82" y="359.54" width="13.09" height="11.11" fill="#fc9d50"/>
<rect x="304.60" y="359.54" width="13.09" height="11.11" fill="#fecb7f"/>
<rect x="317.39" y="359.54" width="13.09" height="11.11" fill="#e9542d"/>
<rect x="330.17" y="359.54" width="13.09" height="11.11" fill="#fef0b8"/>
<rect x="342.96" y="359.54" width="13.09" height="11.11" fill="#fee8a5"/>
<rect x="355.75" y="359.54" width="13.09" height="11.11" fill="#fee8a5"/>
<rect x="368.53" y="359.54" width="13.09" height="11.11" fill="#f8fae2"/>
<rect x="381.32" y="359.54" width="13.09" height="11.11" fill="#f8fae2"/>
<rect x="215.10" y="370.34" width="13.09" height="11.11" fill="#e6f3fb"/>
<rect x="227.89" y="370.34" width="13.09" height="11.11" fill="#a9cfe5"/>
<rect x="240.67" y="370.34" width="13.09" height="11.11" fill="#d0e8f4"/>
<rect x="253.46" y="370.34" width="13.09" height="11.11" fill="#fdf9dc"/>
<rect x="266.24" y="370.34" width="13.09" height="11.11" fill="#f8fae6"/>
<rect x="279.03" y="370.34" width="13.09" height="11.11" fill="#f2f9ef"/>
<rect x="291.82" y="370.34" width="13.09" height="11.11" fill="#fdb864"/>
<rect x="304.60" y="370.34" width="13.09" height="11.11" fill="#e9542d"/>
<rect x="317.39" y="370.34" width="13.09" height="11.11" fill="#fed385"/>
<rect x="330.17" y="370.34" width="13.09" height="11.11" fill="#fee49c"/>
<rect x="342.96" y="370.34" width="13.09" height="11.11" fill="#fdf6d5"/>
<rect x="355.75" y="370.34" width="13.09" height="11.11" fill="#fef5c8"/>
<rect x="368.53" y="370.34" width="13.09" height="11.11" fill="#fee8a5"/>
<rect x="381.32" y="370.34" width="13.09" height="11.11" fill="#fed890"/>
<rect x="215.10" y="381.15" width="13.09" height="11.11" fill="#dcedf8"/>
<rect x="227.89" y="381.15" width="13.09" height="11.11" fill="#6a9bcb"/>
<rect x="240.67" y="381.15" width="13.09" height="11.11" fill="#a9cfe5"/>
<rect x="253.46" y="381.15" width="13.09" height="11.11" fill="#fdf9dc"/>
<rect x="266.24" y="381.15" width="13.09" height="11.11" fill="#f6fae9"/>
<rect x="279.03" y="381.15" width="13.09" height="11.11" fill="#f8fae2"/>
<rect x="291.82" y="381.15" width="13.09" height="11.11" fill="#c0271f"/>
<rect x="304.60" y="381.15" width="13.09" height="11.11" fill="#fdb864"/>
<rect x="317.39" y="381.15" width="13.09" height="11.11" fill="#fc9d50"/>
<rect x="330.17" y="381.15" width="13.09" height="11.11" fill="#fee49c"/>
<rect x="342.96" y="381.15" width="13.09" height="11.11" fill="#fee49c"/>
<rect x="355.75" y="381.15" width="13.09" height="11.11" fill="#fdc374"/>
<rect x="368.53" y="381.15" width="13.09" height="11.11" fill="#fef2c0"/>
<rect x="381.32" y="381.15" width="13.09" height="11.11" fill="#fed890"/>
<rect x="215.10" y="391.96" width="13.09" height="11.11" fill="#fdf4c8"/>
<rect x="227.89" y="391.96" width="13.09" height="11.11" fill="#fee8a5"/>
<rect x="240.67" y="391.96" width="13.09" height="11.11" fill="#fedd92"/>
<rect x="253.46" y="391.96" width="13.09" height="11.11" fill="#fed890"/>
<rect x="266.24" y="391.96" width="13.09" height="11.11" fill="#fed385"/>
<rect x="279.03" y="391.96" width="13.09" height="11.11" fill="#fc9d50"/>
<rect x="291.82" y="391.96" width="13.09" height="11.11" fill="#fbfadb"/>
<rect x="304.60" y="391.96" width="13.09" height="11.11" fill="#f4f9ec"/>
<rect x="317.39" y="391.96" width="13.09" height="11.11" fill="#fdf9dc"/>
<rect x="330.17" y="391.96" width="13.09" height="11.11" fill="#b2d6e8"/>
<rect x="342.96" y="391.96" width="13.09" height="11.11" fill="#f6fae9"/>
<rect x="355.75" y="391.96" width="13.09" height="11.11" fill="#fdf8d8"/>
<rect x="368.53" y="391.96" width="13.09" height="11.11" fill="#eef8fa"/>
<rect x="381.32" y="391.96" width="13.09" height="11.11" fill="#e6f3fb"/>
<rect x="215.10" y="402.76" width="13.09" height="11.11" fill="#fef2c0"/>
<rect x="227.89" y="402.76" width="13.09" height="11.11" fill="#fef0b8"/>
<rect x="240.67" y="402.76" width="13.09" height="11.11" fill="#fef0b8"/>
<rect x="253.46" y="402.76" width="13.09" height="11.11" fill="#fef2c0"/>
<rect x="266.24" y="402.76" width="13.09" height="11.11" fill="#fca55c"/>
<rect x="279.03" y="402.76" width="13.09" height="11.11" fill="#fed385"/>
<rect x="291.82" y="402.76" width="13.09" height="11.11" fill="#f4f9ec"/>
<rect x="304.60" y="402.76" width="13.09" height="11.11" fill="#f8fae2"/>
<rect x="317.39" y="402.76" width="13.09" height="11.11" fill="#fef4c6"/>
<rect x="330.17" y="402.76" width="13.09" height="11.11" fill="#d5ebf6"/>
<rect x="342.96" y="402.76" width="13.09" height="11.11" fill="#fef4cb"/>
<rect x="355.75" y="402.76" width="13.09" height="11.11" fill="#fef4c6"/>
<rect x="368.53" y="402.76" width="13.09" height="11.11" fill="#dff0f9"/>
<rect x="381.32" y="402.76" width="13.09" height="11.11" fill="#f2f9ef"/>
<rect x="215.10" y="413.57" width="13.09" height="11.11" fill="#f2f9ef"/>
<rect x="227.89" y="413.57" width="13.09" height="11.11" fill="#fef0b8"/>
<rect x="240.67" y="413.57" width="13.09" height="11.11" fill="#fef4c6"/>
<rect x="253.46" y="413.57" width="13.09" height="11.11" fill="#fa8a48"/>
<rect x="266.24" y="413.57" width="13.09" height="11.11" fill="#fef4c6"/>
<rect x="279.03" y="413.57" width="13.09" height="11.11" fill="#fed385"/>
<rect x="291.82" y="413.57" width="13.09" height="11.11" fill="#fdf6d5"/>
<rect x="304.60" y="413.57" width="13.09" height="11.11" fill="#fdf6d5"/>
<rect x="317.39" y="413.57" width="13.09" height="11.11" fill="#f8fae2"/>
<rect x="330.17" y="413.57" width="13.09" height="11.11" fill="#b2d6e8"/>
<rect x="342.96" y="413.57" width="13.09" height="11.11" fill="#e3f2fa"/>
<rect x="355.75" y="413.57" width="13.09" height="11.11" fill="#f8fae2"/>
<rect x="368.53" y="413.57" width="13.09" height="11.11" fill="#fef0b8"/>
<rect x="381.32" y="413.57" width="13.09" height="11.11" fill="#fef0b8"/>
<rect x="215.10" y="424.38" width="13.09" height="11.11" fill="#fed890"/>
<rect x="227.89" y="424.38" width="13.09" height="11.11" fill="#fa8a48"/>
<rect x="240.67" y="424.38" width="13.09" height="11.11" fill="#e04628"/>
<rect x="253.46" y="424.38" width="13.09" height="11.11" fill="#fef4cb"/>
<rect x="266.24" y="424.38" width="13.09" height="11.11" fill="#fef0b8"/>
<rect x="279.03" y="424.38" width="13.09" height="11.11" fill="#fee49c"/>
<rect x="291.82" y="424.38" width="13.09" height="11.11" fill="#a9cfe5"/>
<rect x="304.60" y="424.38" width="13.09" height="11.11" fill="#c8e5f1"/>
<rect x="317.39" y="424.38" width="13.09" height="11.11" fill="#c3e2f0"/>
<rect x="330.17" y="424.38" width="13.09" height="11.11" fill="#f5faeb"/>
<rect x="342.96" y="424.38" width="13.09" height="11.11" fill="#fdfadb"/>
<rect x="355.75" y="424.38" width="13.09" height="11.11" fill="#d2e9f5"/>
<rect x="368.53" y="424.38" width="13.09" height="11.11" fill="#f0f9f6"/>
<rect x="381.32" y="424.38" width="13.09" height="11.11" fill="#8ab6d7"/>
<rect x="215.10" y="435.18" width="13.09" height="11.11" fill="#fed385"/>
<rect x="227.89" y="435.18" width="13.09" height="11.11" fill="#e04628"/>
<rect x="240.67" y="435.18" width="13.09" height="11.11" fill="#fa8a48"/>
<rect x="253.46" y="435.18" width="13.09" height="11.11" fill="#fef0b8"/>
<rect x="266.24" y="435.18" width="13.09" height="11.11" fill="#fef0b8"/>
<rect x="279.03" y="435.18" width="13.09" height="11.11" fill="#fee8a5"/>
<rect x="291.82" y="435.18" width="13.09" height="11.11" fill="#6a9bcb"/>
<rect x="304.60" y="435.18" width="13.09" height="11.11" fill="#a9cfe5"/>
<rect x="317.39" y="435.18" width="13.09" height="11.11" fill="#c3e2f0"/>
<rect x="330.17" y="435.18" width="13.09" height="11.11" fill="#eef8f9"/>
<rect x="342.96" y="435.18" width="13.09" height="11.11" fill="#fef5c8"/>
<rect x="355.75" y="435.18" width="13.09" height="11.11" fill="#b2d6e8"/>
<rect x="368.53" y="435.18" width="13.09" height="11.11" fill="#f6fae9"/>
<rect x="381.32" y="435.18" width="13.09" height="11.11" fill="#d2e9f5"/>
<rect x="215.10" y="445.99" width="13.09" height="11.11" fill="#f05a3a"/>
<rect x="227.89" y="445.99" width="13.09" height="11.11" fill="#fed890"/>
<rect x="240.67" y="445.99" width="13.09" height="11.11" fill="#fee49c"/>
<rect x="253.46" y="445.99" width="13.09" height="11.11" fill="#f4f9ec"/>
<rect x="266.24" y="445.99" width="13.09" height="11.11" fill="#fdf6d5"/>
<rect x="279.03" y="445.99" width="13.09" height="11.11" fill="#fdf6d5"/>
<rect x="291.82" y="445.99" width="13.09" height="11.11" fill="#dcedf8"/>
<rect x="304.60" y="445.99" width="13.09" height="11.11" fill="#e6f3fb"/>
<rect x="317.39" y="445.99" width="13.09" height="11.11" fill="#f8fae6"/>
<rect x="330.17" y="445.99" width="13.09" height="11.11" fill="#fef4c6"/>
<rect x="342.96" y="445.99" width="13.09" height="11.11" fill="#f4f9ec"/>
<rect x="355.75" y="445.99" width="13.09" height="11.11" fill="#fef0b8"/>
<rect x="368.53" y="445.99" width="13.09" height="11.11" fill="#f6fae9"/>
<rect x="381.32" y="445.99" width="13.09" height="11.11" fill="#f1f9f3"/>
<text x="406.3" y="312.80" font-size="6.3" class="sm">m.E.RomlTanyB2</text>
<text x="406.3" y="323.61" font-size="6.3" class="sm">H.E.lClr0_prolif</text>
<text x="406.3" y="334.42" font-size="6.3" class="sm">m.P.RomlTany</text>
<text x="406.3" y="345.22" font-size="6.3" class="sm">H.E.lClr2_B1</text>
<text x="406.3" y="356.03" font-size="6.3" class="sm">H.E.lClr3_B2</text>
<text x="406.3" y="366.84" font-size="6.3" class="sm">m.E.RomlTanyB</text>
<text x="406.3" y="377.65" font-size="6.3" class="sm">m.P.RomlTanyB1</text>
<text x="406.3" y="388.45" font-size="6.3" class="sm">m.P.RomlTanyB2</text>
<text x="406.3" y="399.26" font-size="6.3" class="sm">H.E.lClr5_A</text>
<text x="406.3" y="410.07" font-size="6.3" class="sm">H.E.lClr1_A1</text>
<text x="406.3" y="420.87" font-size="6.3" class="sm">H.E.lClr4_A2</text>
<text x="406.3" y="431.68" font-size="6.3" class="sm">m.E.RomlTanyA</text>
<text x="406.3" y="442.49" font-size="6.3" class="sm">m.P.RomlTanyA2</text>
<text x="406.3" y="453.29" font-size="6.3" class="sm">H.E.lClr6_Tan</text>
<text transform="translate(221.19,467.6) rotate(-90)" font-size="6.3" text-anchor="end" class="sm">H.E.lClr6_Tan</text>
<text transform="translate(233.98,467.6) rotate(-90)" font-size="6.3" text-anchor="end" class="sm">m.P.RomlTanyA2</text>
<text transform="translate(246.76,467.6) rotate(-90)" font-size="6.3" text-anchor="end" class="sm">m.E.RomlTanyA</text>
<text transform="translate(259.55,467.6) rotate(-90)" font-size="6.3" text-anchor="end" class="sm">H.E.lClr4_A2</text>
<text transform="translate(272.34,467.6) rotate(-90)" font-size="6.3" text-anchor="end" class="sm">H.E.lClr1_A1</text>
<text transform="translate(285.12,467.6) rotate(-90)" font-size="6.3" text-anchor="end" class="sm">H.E.lClr5_A</text>
<text transform="translate(297.91,467.6) rotate(-90)" font-size="6.3" text-anchor="end" class="sm">m.P.RomlTanyB2</text>
<text transform="translate(310.69,467.6) rotate(-90)" font-size="6.3" text-anchor="end" class="sm">m.P.RomlTanyB1</text>
<text transform="translate(323.48,467.6) rotate(-90)" font-size="6.3" text-anchor="end" class="sm">m.E.RomlTanyB</text>
<text transform="translate(336.27,467.6) rotate(-90)" font-size="6.3" text-anchor="end" class="sm">H.E.lClr3_B2</text>
<text transform="translate(349.05,467.6) rotate(-90)" font-size="6.3" text-anchor="end" class="sm">H.E.lClr2_B1</text>
<text transform="translate(361.84,467.6) rotate(-90)" font-size="6.3" text-anchor="end" class="sm">m.P.RomlTany</text>
<text transform="translate(374.62,467.6) rotate(-90)" font-size="6.3" text-anchor="end" class="sm">H.E.lClr0_prolif</text>
<text transform="translate(387.41,467.6) rotate(-90)" font-size="6.3" text-anchor="end" class="sm">m.E.RomlTanyB2</text>
<rect x="403.4" y="477.1" width="43.4" height="29.1" fill="url(#gk)" stroke="#333" stroke-width="0.6"/>
<path d="M403.4 506.2V510.2M412.1 506.2V510.2M420.8 506.2V510.2M429.4 506.2V510.2M438.1 506.2V510.2M446.8 506.2V510.2M403.4 506.5H446.8" stroke="#333" stroke-width="0.6" fill="none"/>
<text x="403.4" y="520.1" font-size="7.2" text-anchor="middle">0</text>
<text x="420.8" y="520.1" font-size="7.2" text-anchor="middle">0.4</text>
<text x="438.1" y="520.1" font-size="7.2" text-anchor="middle">0.8</text>
<text x="425.1" y="472.5" font-size="7.4" font-weight="bold" text-anchor="middle">Color Key</text>
<circle cx="527.6" cy="14.90" r="6.0" fill="#fc9a80"/>
<circle cx="544.5" cy="14.90" r="1.6" fill="#7b52c8"/>
<circle cx="561.4" cy="14.90" r="4.0" fill="#fdf0ed"/>
<circle cx="578.3" cy="14.90" r="6.0" fill="#fc8e70"/>
<circle cx="595.2" cy="14.90" r="4.5" fill="#fdf1ee"/>
<circle cx="612.2" cy="14.90" r="3.0" fill="#c4a4e8"/>
<circle cx="629.2" cy="14.90" r="3.5" fill="#eedcf5"/>
<text x="511.3" y="18.80" font-size="10.2" text-anchor="end">DLK1</text>
<circle cx="527.6" cy="25.01" r="3.2" fill="#f87a5c"/>
<circle cx="544.5" cy="25.01" r="1.5" fill="#7e55c9"/>
<circle cx="561.4" cy="25.01" r="2.5" fill="#f1e6f8"/>
<circle cx="578.3" cy="25.01" r="2.9" fill="#fcb9a2"/>
<circle cx="595.2" cy="25.01" r="2.2" fill="#ecdff6"/>
<circle cx="612.2" cy="25.01" r="1.8" fill="#a47fdb"/>
<circle cx="629.2" cy="25.01" r="2.7" fill="#fcab90"/>
<text x="511.3" y="28.91" font-size="10.2" text-anchor="end">CDKN1C</text>
<circle cx="527.6" cy="35.13" r="1.4" fill="#f4845f"/>
<circle cx="544.5" cy="35.13" r="0.8" fill="#b9a0e3"/>
<circle cx="561.4" cy="35.13" r="1.0" fill="#fbe3df"/>
<circle cx="578.3" cy="35.13" r="1.4" fill="#f4845f"/>
<circle cx="595.2" cy="35.13" r="1.3" fill="#fbbfa9"/>
<circle cx="612.2" cy="35.13" r="0.9" fill="#a98ae0"/>
<circle cx="629.2" cy="35.13" r="1.0" fill="#8f6cd5"/>
<text x="511.3" y="39.03" font-size="10.2" text-anchor="end">LMO1</text>
<circle cx="527.6" cy="45.24" r="1.0" fill="#a080dc"/>
<circle cx="544.5" cy="45.24" r="5.5" fill="#e5432a"/>
<circle cx="561.4" cy="45.24" r="0.4" fill="#f8f4fb"/>
<circle cx="578.3" cy="45.24" r="1.4" fill="#b596e3"/>
<circle cx="595.2" cy="45.24" r="1.4" fill="#f1e5f8"/>
<circle cx="612.2" cy="45.24" r="2.5" fill="#fdd5c6"/>
<circle cx="629.2" cy="45.24" r="1.5" fill="#efe3f8"/>
<text x="511.3" y="49.14" font-size="10.2" text-anchor="end">AQP4</text>
<circle cx="527.6" cy="55.35" r="2.5" fill="#dcc8f2"/>
<circle cx="544.5" cy="55.35" r="6.4" fill="#ec5a3b"/>
<circle cx="561.4" cy="55.35" r="4.5" fill="#fdcbbb"/>
<circle cx="578.3" cy="55.35" r="2.3" fill="#b08fe3"/>
<circle cx="595.2" cy="55.35" r="4.3" fill="#fdebe6"/>
<circle cx="612.2" cy="55.35" r="3.6" fill="#fef3f0"/>
<circle cx="629.2" cy="55.35" r="1.8" fill="#9f7ddc"/>
<text x="511.3" y="59.25" font-size="10.2" text-anchor="end">SCG3</text>
<circle cx="527.6" cy="65.47" r="0.8" fill="#c9b1ec"/>
<circle cx="544.5" cy="65.47" r="2.7" fill="#d93020"/>
<circle cx="561.4" cy="65.47" r="0.8" fill="#f3ecf9"/>
<circle cx="578.3" cy="65.47" r="0.8" fill="#e0d0f4"/>
<circle cx="595.2" cy="65.47" r="0.8" fill="#f3ecf9"/>
<circle cx="612.2" cy="65.47" r="1.0" fill="#fde3da"/>
<circle cx="629.2" cy="65.47" r="0.8" fill="#c9b1ec"/>
<text x="511.3" y="69.37" font-size="10.2" text-anchor="end">CLDN10</text>
<circle cx="527.6" cy="75.58" r="1.8" fill="#a27fdc"/>
<circle cx="544.5" cy="75.58" r="4.5" fill="#e84c2f"/>
<circle cx="561.4" cy="75.58" r="3.4" fill="#fdf0ec"/>
<circle cx="578.3" cy="75.58" r="2.7" fill="#d6c0f0"/>
<circle cx="595.2" cy="75.58" r="2.4" fill="#ecdff7"/>
<circle cx="612.2" cy="75.58" r="3.4" fill="#fcddd2"/>
<circle cx="629.2" cy="75.58" r="2.4" fill="#f7f3fb"/>
<text x="511.3" y="79.48" font-size="10.2" text-anchor="end">TPPP3</text>
<circle cx="527.6" cy="85.69" r="0.8" fill="#9f7bdc"/>
<circle cx="544.5" cy="85.69" r="2.9" fill="#e84a2c"/>
<circle cx="561.4" cy="85.69" r="1.5" fill="#fde8e1"/>
<circle cx="578.3" cy="85.69" r="2.0" fill="#fcd3c3"/>
<circle cx="595.2" cy="85.69" r="0.8" fill="#a181dc"/>
<circle cx="612.2" cy="85.69" r="1.0" fill="#e6d8f6"/>
<circle cx="629.2" cy="85.69" r="0.8" fill="#f3ecf9"/>
<text x="511.3" y="89.59" font-size="10.2" text-anchor="end">S100A10</text>
<circle cx="527.6" cy="95.80" r="1.0" fill="#c9b1ec"/>
<circle cx="544.5" cy="95.80" r="2.8" fill="#e03a24"/>
<circle cx="561.4" cy="95.80" r="0.3" fill="#f3ecf9"/>
<circle cx="578.3" cy="95.80" r="0.9" fill="#b090e3"/>
<circle cx="595.2" cy="95.80" r="1.2" fill="#fde9e4"/>
<circle cx="612.2" cy="95.80" r="1.2" fill="#fdeee9"/>
<circle cx="629.2" cy="95.80" r="0.8" fill="#9f7bdc"/>
<text x="511.3" y="99.70" font-size="10.2" text-anchor="end">RFX4</text>
<circle cx="527.6" cy="105.92" r="1.0" fill="#a888df"/>
<circle cx="544.5" cy="105.92" r="2.6" fill="#ea5233"/>
<circle cx="561.4" cy="105.92" r="1.3" fill="#efe3f8"/>
<circle cx="578.3" cy="105.92" r="1.4" fill="#d5c0f1"/>
<circle cx="595.2" cy="105.92" r="1.0" fill="#e1d0f4"/>
<circle cx="612.2" cy="105.92" r="2.4" fill="#fcb8a0"/>
<circle cx="629.2" cy="105.92" r="1.0" fill="#efe3f8"/>
<text x="511.3" y="109.82" font-size="10.2" text-anchor="end">RAMP1</text>
<circle cx="527.6" cy="116.03" r="0.9" fill="#a888df"/>
<circle cx="544.5" cy="116.03" r="2.0" fill="#e23c25"/>
<circle cx="561.4" cy="116.03" r="0.8" fill="#efe3f8"/>
<circle cx="578.3" cy="116.03" r="0.9" fill="#c9b1ec"/>
<circle cx="595.2" cy="116.03" r="0.9" fill="#c9b1ec"/>
<circle cx="612.2" cy="116.03" r="1.2" fill="#fdd9cc"/>
<circle cx="629.2" cy="116.03" r="0.8" fill="#fde3da"/>
<text x="511.3" y="119.93" font-size="10.2" text-anchor="end">RGCC</text>
<circle cx="527.6" cy="126.14" r="0.8" fill="#c9b1ec"/>
<circle cx="544.5" cy="126.14" r="1.6" fill="#e54229"/>
<circle cx="561.4" cy="126.14" r="0.5" fill="#f3ecf9"/>
<circle cx="578.3" cy="126.14" r="0.8" fill="#c9b1ec"/>
<circle cx="595.2" cy="126.14" r="0.8" fill="#9f7bdc"/>
<circle cx="612.2" cy="126.14" r="1.4" fill="#fa9d80"/>
<circle cx="629.2" cy="126.14" r="0.7" fill="#c9b1ec"/>
<text x="511.3" y="130.04" font-size="10.2" text-anchor="end">GPX3</text>
<circle cx="527.6" cy="136.26" r="0.8" fill="#b89be5"/>
<circle cx="544.5" cy="136.26" r="1.6" fill="#de3823"/>
<circle cx="561.4" cy="136.26" r="0.9" fill="#fde3da"/>
<circle cx="578.3" cy="136.26" r="0.3" fill="#f3ecf9"/>
<circle cx="595.2" cy="136.26" r="0.6" fill="#c9b1ec"/>
<circle cx="612.2" cy="136.26" r="0.8" fill="#fde3da"/>
<circle cx="629.2" cy="136.26" r="0.8" fill="#a888df"/>
<text x="511.3" y="140.16" font-size="10.2" text-anchor="end">IFI27</text>
<circle cx="527.6" cy="146.37" r="1.5" fill="#a07ddd"/>
<circle cx="544.5" cy="146.37" r="4.7" fill="#fb8c6d"/>
<circle cx="561.4" cy="146.37" r="4.5" fill="#fca98e"/>
<circle cx="578.3" cy="146.37" r="2.9" fill="#f0e4f8"/>
<circle cx="595.2" cy="146.37" r="2.4" fill="#f3ecf9"/>
<circle cx="612.2" cy="146.37" r="4.2" fill="#fdc6b3"/>
<circle cx="629.2" cy="146.37" r="1.5" fill="#a07ddd"/>
<text x="511.3" y="150.27" font-size="10.2" text-anchor="end">MT3</text>
<circle cx="527.6" cy="156.48" r="0.6" fill="#c9b1ec"/>
<circle cx="544.5" cy="156.48" r="0.6" fill="#fde3da"/>
<circle cx="561.4" cy="156.48" r="1.5" fill="#d62f1f"/>
<circle cx="578.3" cy="156.48" r="0.6" fill="#c9b1ec"/>
<circle cx="595.2" cy="156.48" r="0.8" fill="#c0a6e8"/>
<circle cx="612.2" cy="156.48" r="0.3" fill="#f3ecf9"/>
<circle cx="629.2" cy="156.48" r="0.6" fill="#c9b1ec"/>
<text x="511.3" y="160.38" font-size="10.2" text-anchor="end">PENK</text>
<circle cx="527.6" cy="166.59" r="0.8" fill="#c9b1ec"/>
<circle cx="544.5" cy="166.59" r="1.0" fill="#fde3da"/>
<circle cx="561.4" cy="166.59" r="1.6" fill="#db3420"/>
<circle cx="578.3" cy="166.59" r="0.9" fill="#fde3da"/>
<circle cx="595.2" cy="166.59" r="0.9" fill="#c9b1ec"/>
<circle cx="612.2" cy="166.59" r="0.9" fill="#c9b1ec"/>
<circle cx="629.2" cy="166.59" r="0.7" fill="#c9b1ec"/>
<text x="511.3" y="170.50" font-size="10.2" text-anchor="end">PCSK2</text>
<circle cx="527.6" cy="176.71" r="1.0" fill="#f3ecf9"/>
<circle cx="544.5" cy="176.71" r="2.3" fill="#ef6847"/>
<circle cx="561.4" cy="176.71" r="1.8" fill="#fa9e82"/>
<circle cx="578.3" cy="176.71" r="1.0" fill="#c9b1ec"/>
<circle cx="595.2" cy="176.71" r="0.9" fill="#f3ecf9"/>
<circle cx="612.2" cy="176.71" r="0.9" fill="#e6d8f6"/>
<circle cx="629.2" cy="176.71" r="0.8" fill="#a888df"/>
<text x="511.3" y="180.61" font-size="10.2" text-anchor="end">GRIA1</text>
<circle cx="527.6" cy="186.82" r="1.0" fill="#fde3da"/>
<circle cx="544.5" cy="186.82" r="2.0" fill="#f98d6e"/>
<circle cx="561.4" cy="186.82" r="1.9" fill="#f9906f"/>
<circle cx="578.3" cy="186.82" r="0.8" fill="#c9b1ec"/>
<circle cx="595.2" cy="186.82" r="1.0" fill="#b99de6"/>
<circle cx="612.2" cy="186.82" r="1.4" fill="#fde0d6"/>
<circle cx="629.2" cy="186.82" r="0.9" fill="#a888df"/>
<text x="511.3" y="190.72" font-size="10.2" text-anchor="end">RORB</text>
<circle cx="527.6" cy="196.93" r="0.6" fill="#c9b1ec"/>
<circle cx="544.5" cy="196.93" r="0.6" fill="#c9b1ec"/>
<circle cx="561.4" cy="196.93" r="1.4" fill="#f77c5b"/>
<circle cx="578.3" cy="196.93" r="1.8" fill="#ec5a3c"/>
<circle cx="595.2" cy="196.93" r="0.7" fill="#c9b1ec"/>
<circle cx="612.2" cy="196.93" r="0.7" fill="#c9b1ec"/>
<circle cx="629.2" cy="196.93" r="0.7" fill="#c9b1ec"/>
<text x="511.3" y="200.83" font-size="10.2" text-anchor="end">DIO2</text>
<circle cx="527.6" cy="207.05" r="0.8" fill="#f3ecf9"/>
<circle cx="544.5" cy="207.05" r="0.6" fill="#c9b1ec"/>
<circle cx="561.4" cy="207.05" r="1.0" fill="#fde3da"/>
<circle cx="578.3" cy="207.05" r="3.2" fill="#d73420"/>
<circle cx="595.2" cy="207.05" r="0.7" fill="#c9b1ec"/>
<circle cx="612.2" cy="207.05" r="0.6" fill="#c9b1ec"/>
<circle cx="629.2" cy="207.05" r="0.6" fill="#c9b1ec"/>
<text x="511.3" y="210.95" font-size="10.2" text-anchor="end">COL25A1</text>
<circle cx="527.6" cy="217.16" r="1.8" fill="#dcc8f2"/>
<circle cx="544.5" cy="217.16" r="4.2" fill="#fdc0ab"/>
<circle cx="561.4" cy="217.16" r="4.2" fill="#fcb49c"/>
<circle cx="578.3" cy="217.16" r="5.4" fill="#f87a55"/>
<circle cx="595.2" cy="217.16" r="2.0" fill="#e0cff4"/>
<circle cx="612.2" cy="217.16" r="1.6" fill="#d0b8ee"/>
<circle cx="629.2" cy="217.16" r="1.1" fill="#9a76da"/>
<text x="511.3" y="221.06" font-size="10.2" text-anchor="end">CRYM</text>
<circle cx="527.6" cy="227.27" r="0.5" fill="#f3ecf9"/>
<circle cx="544.5" cy="227.27" r="0.7" fill="#c9b1ec"/>
<circle cx="561.4" cy="227.27" r="0.6" fill="#f3ecf9"/>
<circle cx="578.3" cy="227.27" r="2.4" fill="#d8321f"/>
<circle cx="595.2" cy="227.27" r="0.6" fill="#c9b1ec"/>
<circle cx="612.2" cy="227.27" r="0.6" fill="#c9b1ec"/>
<circle cx="629.2" cy="227.27" r="0.6" fill="#c9b1ec"/>
<text x="511.3" y="231.17" font-size="10.2" text-anchor="end">ADM</text>
<circle cx="527.6" cy="237.39" r="0.9" fill="#fde3da"/>
<circle cx="544.5" cy="237.39" r="1.2" fill="#c9b1ec"/>
<circle cx="561.4" cy="237.39" r="1.5" fill="#fdd5c8"/>
<circle cx="578.3" cy="237.39" r="3.4" fill="#e1391f"/>
<circle cx="595.2" cy="237.39" r="0.8" fill="#a888df"/>
<circle cx="612.2" cy="237.39" r="0.9" fill="#c9b1ec"/>
<circle cx="629.2" cy="237.39" r="0.9" fill="#c9b1ec"/>
<text x="511.3" y="241.29" font-size="10.2" text-anchor="end">RBMS1</text>
<circle cx="527.6" cy="247.50" r="0.8" fill="#c9b1ec"/>
<circle cx="544.5" cy="247.50" r="0.8" fill="#c9b1ec"/>
<circle cx="561.4" cy="247.50" r="1.2" fill="#fcd3c4"/>
<circle cx="578.3" cy="247.50" r="2.4" fill="#e5462b"/>
<circle cx="595.2" cy="247.50" r="0.7" fill="#c9b1ec"/>
<circle cx="612.2" cy="247.50" r="0.7" fill="#c9b1ec"/>
<circle cx="629.2" cy="247.50" r="1.1" fill="#fde3da"/>
<text x="511.3" y="251.40" font-size="10.2" text-anchor="end">CTHRC1</text>
<circle cx="527.6" cy="257.61" r="0.6" fill="#f3ecf9"/>
<circle cx="544.5" cy="257.61" r="0.7" fill="#c9b1ec"/>
<circle cx="561.4" cy="257.61" r="0.6" fill="#f3ecf9"/>
<circle cx="578.3" cy="257.61" r="1.5" fill="#dd3620"/>
<circle cx="595.2" cy="257.61" r="0.4" fill="#f3ecf9"/>
<circle cx="612.2" cy="257.61" r="0.7" fill="#c9b1ec"/>
<circle cx="629.2" cy="257.61" r="0.6" fill="#fde3da"/>
<text x="511.3" y="261.51" font-size="10.2" text-anchor="end">GRIK3</text>
<circle cx="527.6" cy="267.72" r="0.9" fill="#c9b1ec"/>
<circle cx="544.5" cy="267.72" r="0.7" fill="#e6d8f6"/>
<circle cx="561.4" cy="267.72" r="1.4" fill="#fcc8b6"/>
<circle cx="578.3" cy="267.72" r="2.0" fill="#e84c2f"/>
<circle cx="595.2" cy="267.72" r="0.8" fill="#c9b1ec"/>
<circle cx="612.2" cy="267.72" r="1.2" fill="#fde0d6"/>
<circle cx="629.2" cy="267.72" r="0.8" fill="#c9b1ec"/>
<text x="511.3" y="271.62" font-size="10.2" text-anchor="end">SLCO1C1</text>
<circle cx="527.6" cy="277.84" r="1.0" fill="#f3ecf9"/>
<circle cx="544.5" cy="277.84" r="2.4" fill="#fdbfa9"/>
<circle cx="561.4" cy="277.84" r="1.0" fill="#b899e4"/>
<circle cx="578.3" cy="277.84" r="1.0" fill="#b899e4"/>
<circle cx="595.2" cy="277.84" r="3.4" fill="#e5462b"/>
<circle cx="612.2" cy="277.84" r="1.0" fill="#e6d6f5"/>
<circle cx="629.2" cy="277.84" r="1.2" fill="#e6d6f5"/>
<text x="511.3" y="281.74" font-size="10.2" text-anchor="end">NR2F1</text>
<circle cx="527.6" cy="287.95" r="2.2" fill="#fdd8cb"/>
<circle cx="544.5" cy="287.95" r="2.6" fill="#fdc0aa"/>
<circle cx="561.4" cy="287.95" r="1.0" fill="#c9b1ec"/>
<circle cx="578.3" cy="287.95" r="1.0" fill="#c9b1ec"/>
<circle cx="595.2" cy="287.95" r="3.5" fill="#ec5a3b"/>
<circle cx="612.2" cy="287.95" r="1.0" fill="#c9b1ec"/>
<circle cx="629.2" cy="287.95" r="1.4" fill="#e4d4f5"/>
<text x="511.3" y="291.85" font-size="10.2" text-anchor="end">NR2F2</text>
<circle cx="527.6" cy="298.06" r="2.4" fill="#fdd9cc"/>
<circle cx="544.5" cy="298.06" r="2.4" fill="#fdc0aa"/>
<circle cx="561.4" cy="298.06" r="2.0" fill="#efe3f8"/>
<circle cx="578.3" cy="298.06" r="1.7" fill="#9b77db"/>
<circle cx="595.2" cy="298.06" r="3.4" fill="#ef6244"/>
<circle cx="612.2" cy="298.06" r="1.8" fill="#faf4fc"/>
<circle cx="629.2" cy="298.06" r="1.6" fill="#c4aaea"/>
<text x="511.3" y="301.96" font-size="10.2" text-anchor="end">KIF21A</text>
<circle cx="527.6" cy="308.18" r="0.8" fill="#f3ecf9"/>
<circle cx="544.5" cy="308.18" r="0.8" fill="#fde3da"/>
<circle cx="561.4" cy="308.18" r="0.8" fill="#fde3da"/>
<circle cx="578.3" cy="308.18" r="0.6" fill="#a888df"/>
<circle cx="595.2" cy="308.18" r="1.8" fill="#e0391f"/>
<circle cx="612.2" cy="308.18" r="0.8" fill="#fde3da"/>
<circle cx="629.2" cy="308.18" r="0.7" fill="#c9b1ec"/>
<text x="511.3" y="312.08" font-size="10.2" text-anchor="end">NR2E1</text>
<circle cx="527.6" cy="318.29" r="0.7" fill="#b696e4"/>
<circle cx="544.5" cy="318.29" r="1.5" fill="#fcb39a"/>
<circle cx="561.4" cy="318.29" r="0.8" fill="#f3ecf9"/>
<circle cx="578.3" cy="318.29" r="0.8" fill="#c9b1ec"/>
<circle cx="595.2" cy="318.29" r="1.0" fill="#efe3f8"/>
<circle cx="612.2" cy="318.29" r="2.5" fill="#e0391f"/>
<circle cx="629.2" cy="318.29" r="0.7" fill="#e6d8f6"/>
<text x="511.3" y="322.19" font-size="10.2" text-anchor="end">NR4A1</text>
<circle cx="527.6" cy="328.40" r="0.6" fill="#a888df"/>
<circle cx="544.5" cy="328.40" r="1.5" fill="#f57858"/>
<circle cx="561.4" cy="328.40" r="0.7" fill="#f3ecf9"/>
<circle cx="578.3" cy="328.40" r="0.6" fill="#c9b1ec"/>
<circle cx="595.2" cy="328.40" r="0.6" fill="#c9b1ec"/>
<circle cx="612.2" cy="328.40" r="1.8" fill="#ea5133"/>
<circle cx="629.2" cy="328.40" r="0.6" fill="#c9b1ec"/>
<text x="511.3" y="332.30" font-size="10.2" text-anchor="end">AGT</text>
<circle cx="527.6" cy="338.52" r="0.8" fill="#e6d8f6"/>
<circle cx="544.5" cy="338.52" r="1.2" fill="#fdcfc0"/>
<circle cx="561.4" cy="338.52" r="0.6" fill="#c9b1ec"/>
<circle cx="578.3" cy="338.52" r="0.6" fill="#c9b1ec"/>
<circle cx="595.2" cy="338.52" r="1.2" fill="#fdd5c8"/>
<circle cx="612.2" cy="338.52" r="1.7" fill="#e23c25"/>
<circle cx="629.2" cy="338.52" r="0.6" fill="#c9b1ec"/>
<text x="511.3" y="342.42" font-size="10.2" text-anchor="end">POU3F2</text>
<circle cx="527.6" cy="348.63" r="0.8" fill="#a888df"/>
<circle cx="544.5" cy="348.63" r="1.6" fill="#fcb9a2"/>
<circle cx="561.4" cy="348.63" r="0.5" fill="#f3ecf9"/>
<circle cx="578.3" cy="348.63" r="0.7" fill="#c9b1ec"/>
<circle cx="595.2" cy="348.63" r="0.7" fill="#c9b1ec"/>
<circle cx="612.2" cy="348.63" r="2.3" fill="#e94e30"/>
<circle cx="629.2" cy="348.63" r="0.7" fill="#c9b1ec"/>
<text x="511.3" y="352.53" font-size="10.2" text-anchor="end">ATF3</text>
<circle cx="527.6" cy="358.74" r="0.8" fill="#a888df"/>
<circle cx="544.5" cy="358.74" r="1.4" fill="#fdcdbd"/>
<circle cx="561.4" cy="358.74" r="0.6" fill="#efe3f8"/>
<circle cx="578.3" cy="358.74" r="0.7" fill="#c9b1ec"/>
<circle cx="595.2" cy="358.74" r="0.6" fill="#c9b1ec"/>
<circle cx="612.2" cy="358.74" r="1.8" fill="#e23c25"/>
<circle cx="629.2" cy="358.74" r="0.6" fill="#c9b1ec"/>
<text x="511.3" y="362.64" font-size="10.2" text-anchor="end">EGR2</text>
<circle cx="527.6" cy="368.85" r="1.0" fill="#e6d8f6"/>
<circle cx="544.5" cy="368.85" r="0.8" fill="#f3ecf9"/>
<circle cx="561.4" cy="368.85" r="0.8" fill="#f3ecf9"/>
<circle cx="578.3" cy="368.85" r="1.3" fill="#a888df"/>
<circle cx="595.2" cy="368.85" r="1.2" fill="#fde3da"/>
<circle cx="612.2" cy="368.85" r="2.2" fill="#e0391f"/>
<circle cx="629.2" cy="368.85" r="0.9" fill="#c9b1ec"/>
<text x="511.3" y="372.75" font-size="10.2" text-anchor="end">PCP4</text>
<circle cx="527.6" cy="378.97" r="0.7" fill="#e6d8f6"/>
<circle cx="544.5" cy="378.97" r="0.5" fill="#f3ecf9"/>
<circle cx="561.4" cy="378.97" r="0.7" fill="#c9b1ec"/>
<circle cx="578.3" cy="378.97" r="0.8" fill="#c9b1ec"/>
<circle cx="595.2" cy="378.97" r="0.4" fill="#f3ecf9"/>
<circle cx="612.2" cy="378.97" r="1.5" fill="#d92f1e"/>
<circle cx="629.2" cy="378.97" r="0.7" fill="#c9b1ec"/>
<text x="511.3" y="382.87" font-size="10.2" text-anchor="end">SLC25A25</text>
<circle cx="527.6" cy="389.08" r="0.8" fill="#a888df"/>
<circle cx="544.5" cy="389.08" r="1.5" fill="#f99071"/>
<circle cx="561.4" cy="389.08" r="0.3" fill="#f3ecf9"/>
<circle cx="578.3" cy="389.08" r="0.6" fill="#e6d8f6"/>
<circle cx="595.2" cy="389.08" r="0.6" fill="#c9b1ec"/>
<circle cx="612.2" cy="389.08" r="1.6" fill="#ef6243"/>
<circle cx="629.2" cy="389.08" r="0.7" fill="#c9b1ec"/>
<text x="511.3" y="392.98" font-size="10.2" text-anchor="end">CRYAB</text>
<circle cx="527.6" cy="399.19" r="0.6" fill="#a888df"/>
<circle cx="544.5" cy="399.19" r="0.9" fill="#fcb49b"/>
<circle cx="561.4" cy="399.19" r="1.2" fill="#fba384"/>
<circle cx="578.3" cy="399.19" r="0.6" fill="#c9b1ec"/>
<circle cx="595.2" cy="399.19" r="0.6" fill="#c9b1ec"/>
<circle cx="612.2" cy="399.19" r="1.4" fill="#ef6142"/>
<circle cx="629.2" cy="399.19" r="0.4" fill="#f3ecf9"/>
<text x="511.3" y="403.09" font-size="10.2" text-anchor="end">LGALS3</text>
<circle cx="527.6" cy="409.31" r="0.7" fill="#c9b1ec"/>
<circle cx="544.5" cy="409.31" r="2.5" fill="#fde6de"/>
<circle cx="561.4" cy="409.31" r="1.2" fill="#efe3f8"/>
<circle cx="578.3" cy="409.31" r="1.0" fill="#c9b1ec"/>
<circle cx="595.2" cy="409.31" r="1.3" fill="#e6d8f6"/>
<circle cx="612.2" cy="409.31" r="1.1" fill="#c9b1ec"/>
<circle cx="629.2" cy="409.31" r="5.4" fill="#e0351f"/>
<text x="511.3" y="413.21" font-size="10.2" text-anchor="end">WFIKKN2</text>
<circle cx="527.6" cy="419.42" r="0.6" fill="#c9b1ec"/>
<circle cx="544.5" cy="419.42" r="0.5" fill="#f3ecf9"/>
<circle cx="561.4" cy="419.42" r="0.6" fill="#c9b1ec"/>
<circle cx="578.3" cy="419.42" r="0.6" fill="#c9b1ec"/>
<circle cx="595.2" cy="419.42" r="0.5" fill="#efe3f8"/>
<circle cx="612.2" cy="419.42" r="0.6" fill="#c9b1ec"/>
<circle cx="629.2" cy="419.42" r="2.4" fill="#dd3420"/>
<text x="511.3" y="423.32" font-size="10.2" text-anchor="end">ECM2</text>
<circle cx="527.6" cy="429.53" r="0.6" fill="#c9b1ec"/>
<circle cx="544.5" cy="429.53" r="0.6" fill="#c9b1ec"/>
<circle cx="561.4" cy="429.53" r="0.6" fill="#c9b1ec"/>
<circle cx="578.3" cy="429.53" r="0.6" fill="#fde3da"/>
<circle cx="595.2" cy="429.53" r="0.6" fill="#c9b1ec"/>
<circle cx="612.2" cy="429.53" r="0.6" fill="#f3ecf9"/>
<circle cx="629.2" cy="429.53" r="2.0" fill="#dc321f"/>
<text x="511.3" y="433.43" font-size="10.2" text-anchor="end">MYL9</text>
<circle cx="527.6" cy="439.65" r="0.5" fill="#c9b1ec"/>
<circle cx="544.5" cy="439.65" r="0.6" fill="#c9b1ec"/>
<circle cx="561.4" cy="439.65" r="0.6" fill="#c9b1ec"/>
<circle cx="578.3" cy="439.65" r="0.6" fill="#fde3da"/>
<circle cx="595.2" cy="439.65" r="0.6" fill="#c9b1ec"/>
<circle cx="612.2" cy="439.65" r="0.5" fill="#f3ecf9"/>
<circle cx="629.2" cy="439.65" r="1.6" fill="#d8301e"/>
<text x="511.3" y="443.55" font-size="10.2" text-anchor="end">PERP</text>
<circle cx="527.6" cy="449.76" r="0.6" fill="#c9b1ec"/>
<circle cx="544.5" cy="449.76" r="0.6" fill="#c9b1ec"/>
<circle cx="561.4" cy="449.76" r="0.5" fill="#f3ecf9"/>
<circle cx="578.3" cy="449.76" r="0.6" fill="#c9b1ec"/>
<circle cx="595.2" cy="449.76" r="0.6" fill="#c9b1ec"/>
<circle cx="612.2" cy="449.76" r="0.5" fill="#f3ecf9"/>
<circle cx="629.2" cy="449.76" r="1.6" fill="#d8301e"/>
<text x="511.3" y="453.66" font-size="10.2" text-anchor="end">FBLN5</text>
<circle cx="527.6" cy="459.87" r="0.7" fill="#a888df"/>
<circle cx="544.5" cy="459.87" r="2.0" fill="#f77f5f"/>
<circle cx="561.4" cy="459.87" r="0.6" fill="#f3ecf9"/>
<circle cx="578.3" cy="459.87" r="0.9" fill="#efe3f8"/>
<circle cx="595.2" cy="459.87" r="0.7" fill="#c9b1ec"/>
<circle cx="612.2" cy="459.87" r="0.8" fill="#c9b1ec"/>
<circle cx="629.2" cy="459.87" r="2.0" fill="#f06445"/>
<text x="511.3" y="463.77" font-size="10.2" text-anchor="end">ANXA1</text>
<circle cx="527.6" cy="469.98" r="0.5" fill="#f3ecf9"/>
<circle cx="544.5" cy="469.98" r="0.5" fill="#fde3da"/>
<circle cx="561.4" cy="469.98" r="0.6" fill="#c9b1ec"/>
<circle cx="578.3" cy="469.98" r="0.6" fill="#c9b1ec"/>
<circle cx="595.2" cy="469.98" r="0.6" fill="#c9b1ec"/>
<circle cx="612.2" cy="469.98" r="0.7" fill="#fde3da"/>
<circle cx="629.2" cy="469.98" r="1.5" fill="#d8301e"/>
<text x="511.3" y="473.88" font-size="10.2" text-anchor="end">PRRX1</text>
<path d="M514.2 14.90H517.5M514.2 25.01H517.5M514.2 35.13H517.5M514.2 45.24H517.5M514.2 55.35H517.5M514.2 65.47H517.5M514.2 75.58H517.5M514.2 85.69H517.5M514.2 95.80H517.5M514.2 105.92H517.5M514.2 116.03H517.5M514.2 126.14H517.5M514.2 136.26H517.5M514.2 146.37H517.5M514.2 156.48H517.5M514.2 166.59H517.5M514.2 176.71H517.5M514.2 186.82H517.5M514.2 196.93H517.5M514.2 207.05H517.5M514.2 217.16H517.5M514.2 227.27H517.5M514.2 237.39H517.5M514.2 247.50H517.5M514.2 257.61H517.5M514.2 267.72H517.5M514.2 277.84H517.5M514.2 287.95H517.5M514.2 298.06H517.5M514.2 308.18H517.5M514.2 318.29H517.5M514.2 328.40H517.5M514.2 338.52H517.5M514.2 348.63H517.5M514.2 358.74H517.5M514.2 368.85H517.5M514.2 378.97H517.5M514.2 389.08H517.5M514.2 399.19H517.5M514.2 409.31H517.5M514.2 419.42H517.5M514.2 429.53H517.5M514.2 439.65H517.5M514.2 449.76H517.5M514.2 459.87H517.5M514.2 469.98H517.5" stroke="#444" stroke-width="1"/>
<path d="M527.6 476V478.8M544.5 476V478.8M561.4 476V478.8M578.3 476V478.8M595.2 476V478.8M612.2 476V478.8M629.2 476V478.8" stroke="#444" stroke-width="1"/>
<path d="M517.5 8.2V476H638.6" fill="none" stroke="#222" stroke-width="1"/>
<text transform="translate(533.2,487.0) rotate(-45)" font-size="10.8" text-anchor="end">Clr0</text>
<text transform="translate(550.1,487.0) rotate(-45)" font-size="10.8" text-anchor="end">Clr1</text>
<text transform="translate(567.0,487.0) rotate(-45)" font-size="10.8" text-anchor="end">Clr2</text>
<text transform="translate(583.9,487.0) rotate(-45)" font-size="10.8" text-anchor="end">Clr3</text>
<text transform="translate(600.8,487.0) rotate(-45)" font-size="10.8" text-anchor="end">Clr4</text>
<text transform="translate(617.8,487.0) rotate(-45)" font-size="10.8" text-anchor="end">Clr5</text>
<text transform="translate(634.8,487.0) rotate(-45)" font-size="10.8" text-anchor="end">Clr6</text>
<text transform="translate(454.6,242.3) rotate(-90)" font-size="12" text-anchor="middle">Differential genes</text>
<text x="639.6" y="339.2" font-size="9.3">Perc. Expr.</text>
<circle cx="646.7" cy="348.8" r="0.5" fill="#000"/>
<text x="658.8" y="351.9" font-size="9.3">0</text>
<circle cx="646.7" cy="356.9" r="1.9" fill="#000"/>
<text x="658.8" y="360.0" font-size="9.3">20</text>
<circle cx="646.7" cy="365.4" r="3.1" fill="#000"/>
<text x="658.8" y="368.5" font-size="9.3">40</text>
<circle cx="646.7" cy="375.2" r="4.6" fill="#000"/>
<text x="658.8" y="378.3" font-size="9.3">60</text>
<circle cx="646.7" cy="387.7" r="6.2" fill="#000"/>
<text x="658.8" y="390.8" font-size="9.3">80</text>
<text x="639.6" y="415.2" font-size="9.3">Avg. Expr.</text>
<defs><linearGradient id="ge" x1="0" y1="0" x2="0" y2="1"><stop offset="0" stop-color="#e8402a"/><stop offset="0.3" stop-color="#f6a08a"/><stop offset="0.6" stop-color="#ffffff"/><stop offset="0.8" stop-color="#d9c8f0"/><stop offset="1" stop-color="#8a66cf"/></linearGradient></defs>
<rect x="639.2" y="420.9" width="8.5" height="41" fill="url(#ge)"/>
<path d="M639.2 424.6h1.7M646 424.6h1.7" stroke="#fff" stroke-width="0.6"/>
<text x="652" y="427.7" font-size="9.3">2</text>
<path d="M639.2 435.3h1.7M646 435.3h1.7" stroke="#fff" stroke-width="0.6"/>
<text x="652" y="438.4" font-size="9.3">1</text>
<path d="M639.2 446.2h1.7M646 446.2h1.7" stroke="#fff" stroke-width="0.6"/>
<text x="652" y="449.3" font-size="9.3">0</text>
<path d="M639.2 457.2h1.7M646 457.2h1.7" stroke="#fff" stroke-width="0.6"/>
<text x="652" y="460.3" font-size="9.3">−1</text>
</svg></body></html>
